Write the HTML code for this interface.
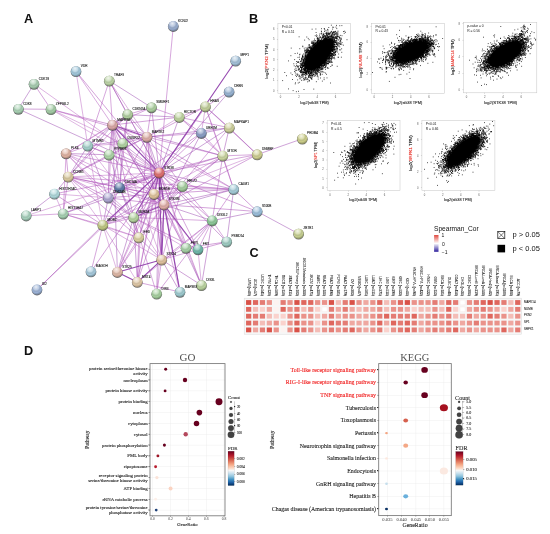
<!DOCTYPE html>
<html><head><meta charset="utf-8"><title>Figure</title>
<style>html,body{margin:0;padding:0;background:#fff}svg{display:block}</style></head>
<body>
<svg width="550" height="534" viewBox="0 0 550 534">
<defs>
<radialGradient id="hl" cx=".42" cy=".3" r=".75" fx=".4" fy=".22">
<stop offset="0" stop-color="#fff" stop-opacity=".8"/><stop offset=".38" stop-color="#fff" stop-opacity=".3"/><stop offset=".68" stop-color="#000" stop-opacity="0"/><stop offset="1" stop-color="#000" stop-opacity=".38"/>
</radialGradient>
<linearGradient id="sp" x1="0" y1="0" x2="0" y2="1"><stop offset="0" stop-color="#e0483e"/><stop offset=".5" stop-color="#ffffff"/><stop offset="1" stop-color="#2b1d9c"/></linearGradient>
<linearGradient id="fdr" x1="0" y1="0" x2="0" y2="1"><stop offset="0" stop-color="#67001f"/><stop offset=".12" stop-color="#b2182b"/><stop offset=".25" stop-color="#d6604d"/><stop offset=".38" stop-color="#f4a582"/><stop offset=".5" stop-color="#fddbc7"/><stop offset=".56" stop-color="#f7f7f7"/><stop offset=".63" stop-color="#d1e5f0"/><stop offset=".73" stop-color="#92c5de"/><stop offset=".82" stop-color="#4393c3"/><stop offset=".9" stop-color="#2166ac"/><stop offset=".97" stop-color="#0a3a70"/><stop offset="1" stop-color="#053061"/></linearGradient>
</defs>
<rect width="550" height="534" fill="#fff"/>
<g id="network">
<g stroke-linecap="round">
<line x1="233.7" y1="189.3" x2="68.2" y2="176.9" stroke="#b458bd" stroke-width="0.56" stroke-opacity="0.9"/>
<line x1="233.7" y1="189.3" x2="119.6" y2="187.6" stroke="#a048b2" stroke-width="0.56" stroke-opacity="0.9"/>
<line x1="233.7" y1="189.3" x2="212.2" y2="220.7" stroke="#ad50b9" stroke-width="0.56" stroke-opacity="0.9"/>
<line x1="233.7" y1="189.3" x2="182.4" y2="186.3" stroke="#bc68c4" stroke-width="0.56" stroke-opacity="0.9"/>
<line x1="233.7" y1="189.3" x2="205.5" y2="106.7" stroke="#a94ab5" stroke-width="0.56" stroke-opacity="0.9"/>
<line x1="233.7" y1="189.3" x2="147" y2="137" stroke="#a94ab5" stroke-width="0.56" stroke-opacity="0.9"/>
<line x1="233.7" y1="189.3" x2="112.5" y2="125" stroke="#c070c6" stroke-width="0.56" stroke-opacity="0.9"/>
<line x1="233.7" y1="189.3" x2="133.6" y2="217.5" stroke="#9c4cb2" stroke-width="0.56" stroke-opacity="0.9"/>
<line x1="233.7" y1="189.3" x2="154" y2="194.2" stroke="#a94ab5" stroke-width="0.56" stroke-opacity="0.9"/>
<line x1="233.7" y1="189.3" x2="222.8" y2="155.9" stroke="#b458bd" stroke-width="0.56" stroke-opacity="0.9"/>
<line x1="233.7" y1="189.3" x2="226.7" y2="241.8" stroke="#9c4cb2" stroke-width="0.56" stroke-opacity="0.9"/>
<line x1="233.7" y1="189.3" x2="257.2" y2="211.5" stroke="#a94ab5" stroke-width="0.56" stroke-opacity="0.9"/>
<line x1="233.7" y1="189.3" x2="159.3" y2="172.9" stroke="#9c4cb2" stroke-width="0.56" stroke-opacity="0.9"/>
<line x1="233.7" y1="189.3" x2="164" y2="204.7" stroke="#a048b2" stroke-width="0.56" stroke-opacity="0.9"/>
<line x1="68.2" y1="176.9" x2="119.6" y2="187.6" stroke="#a94ab5" stroke-width="0.56" stroke-opacity="0.9"/>
<line x1="68.2" y1="176.9" x2="108.3" y2="197.8" stroke="#a94ab5" stroke-width="0.56" stroke-opacity="0.9"/>
<line x1="68.2" y1="176.9" x2="127.7" y2="114.6" stroke="#ad50b9" stroke-width="0.56" stroke-opacity="0.9"/>
<line x1="68.2" y1="176.9" x2="138.8" y2="237.6" stroke="#ad50b9" stroke-width="0.56" stroke-opacity="0.9"/>
<line x1="68.2" y1="176.9" x2="63.2" y2="213.8" stroke="#a94ab5" stroke-width="0.56" stroke-opacity="0.9"/>
<line x1="68.2" y1="176.9" x2="54.5" y2="193.9" stroke="#a048b2" stroke-width="0.56" stroke-opacity="0.9"/>
<line x1="68.2" y1="176.9" x2="147" y2="137" stroke="#a94ab5" stroke-width="0.56" stroke-opacity="0.9"/>
<line x1="68.2" y1="176.9" x2="112.5" y2="125" stroke="#9c4cb2" stroke-width="0.56" stroke-opacity="0.9"/>
<line x1="68.2" y1="176.9" x2="133.6" y2="217.5" stroke="#ad50b9" stroke-width="0.56" stroke-opacity="0.9"/>
<line x1="68.2" y1="176.9" x2="154" y2="194.2" stroke="#a94ab5" stroke-width="0.56" stroke-opacity="0.9"/>
<line x1="68.2" y1="176.9" x2="102.8" y2="225.2" stroke="#c070c6" stroke-width="0.56" stroke-opacity="0.9"/>
<line x1="68.2" y1="176.9" x2="87.8" y2="145.9" stroke="#9c4cb2" stroke-width="0.56" stroke-opacity="0.9"/>
<line x1="68.2" y1="176.9" x2="66.1" y2="153.5" stroke="#a94ab5" stroke-width="0.56" stroke-opacity="0.9"/>
<line x1="68.2" y1="176.9" x2="109.1" y2="154.8" stroke="#a048b2" stroke-width="0.56" stroke-opacity="0.9"/>
<line x1="68.2" y1="176.9" x2="159.3" y2="172.9" stroke="#bc68c4" stroke-width="0.56" stroke-opacity="0.9"/>
<line x1="68.2" y1="176.9" x2="164" y2="204.7" stroke="#bc68c4" stroke-width="0.56" stroke-opacity="0.9"/>
<line x1="119.6" y1="187.6" x2="108.3" y2="197.8" stroke="#9c4cb2" stroke-width="0.56" stroke-opacity="0.9"/>
<line x1="119.6" y1="187.6" x2="127.7" y2="114.6" stroke="#a94ab5" stroke-width="0.56" stroke-opacity="0.9"/>
<line x1="119.6" y1="187.6" x2="122.7" y2="143.5" stroke="#9c4cb2" stroke-width="0.56" stroke-opacity="0.9"/>
<line x1="119.6" y1="187.6" x2="138.8" y2="237.6" stroke="#9c4cb2" stroke-width="0.56" stroke-opacity="0.9"/>
<line x1="119.6" y1="187.6" x2="147" y2="137" stroke="#ad50b9" stroke-width="0.56" stroke-opacity="0.9"/>
<line x1="119.6" y1="187.6" x2="112.5" y2="125" stroke="#a94ab5" stroke-width="0.56" stroke-opacity="0.9"/>
<line x1="119.6" y1="187.6" x2="133.6" y2="217.5" stroke="#a048b2" stroke-width="0.56" stroke-opacity="0.9"/>
<line x1="119.6" y1="187.6" x2="154" y2="194.2" stroke="#a94ab5" stroke-width="0.56" stroke-opacity="0.9"/>
<line x1="119.6" y1="187.6" x2="102.8" y2="225.2" stroke="#9c4cb2" stroke-width="0.56" stroke-opacity="0.9"/>
<line x1="119.6" y1="187.6" x2="87.8" y2="145.9" stroke="#c070c6" stroke-width="0.56" stroke-opacity="0.9"/>
<line x1="119.6" y1="187.6" x2="222.8" y2="155.9" stroke="#a048b2" stroke-width="0.56" stroke-opacity="0.9"/>
<line x1="119.6" y1="187.6" x2="66.1" y2="153.5" stroke="#b458bd" stroke-width="0.56" stroke-opacity="0.9"/>
<line x1="119.6" y1="187.6" x2="109.1" y2="154.8" stroke="#ad50b9" stroke-width="0.56" stroke-opacity="0.9"/>
<line x1="119.6" y1="187.6" x2="159.3" y2="172.9" stroke="#a048b2" stroke-width="0.56" stroke-opacity="0.9"/>
<line x1="119.6" y1="187.6" x2="164" y2="204.7" stroke="#9c4cb2" stroke-width="0.56" stroke-opacity="0.9"/>
<line x1="119.6" y1="187.6" x2="201.3" y2="133.2" stroke="#a94ab5" stroke-width="0.56" stroke-opacity="0.9"/>
<line x1="108.3" y1="197.8" x2="122.7" y2="143.5" stroke="#9c4cb2" stroke-width="0.56" stroke-opacity="0.9"/>
<line x1="108.3" y1="197.8" x2="138.8" y2="237.6" stroke="#b458bd" stroke-width="0.56" stroke-opacity="0.9"/>
<line x1="108.3" y1="197.8" x2="63.2" y2="213.8" stroke="#9c4cb2" stroke-width="0.56" stroke-opacity="0.9"/>
<line x1="108.3" y1="197.8" x2="54.5" y2="193.9" stroke="#c070c6" stroke-width="0.56" stroke-opacity="0.9"/>
<line x1="108.3" y1="197.8" x2="112.5" y2="125" stroke="#bc68c4" stroke-width="0.56" stroke-opacity="0.9"/>
<line x1="108.3" y1="197.8" x2="133.6" y2="217.5" stroke="#a048b2" stroke-width="0.56" stroke-opacity="0.9"/>
<line x1="108.3" y1="197.8" x2="154" y2="194.2" stroke="#a94ab5" stroke-width="0.56" stroke-opacity="0.9"/>
<line x1="108.3" y1="197.8" x2="102.8" y2="225.2" stroke="#9c4cb2" stroke-width="0.56" stroke-opacity="0.9"/>
<line x1="108.3" y1="197.8" x2="87.8" y2="145.9" stroke="#9c4cb2" stroke-width="0.56" stroke-opacity="0.9"/>
<line x1="108.3" y1="197.8" x2="66.1" y2="153.5" stroke="#bc68c4" stroke-width="0.56" stroke-opacity="0.9"/>
<line x1="108.3" y1="197.8" x2="109.1" y2="154.8" stroke="#a048b2" stroke-width="0.56" stroke-opacity="0.9"/>
<line x1="108.3" y1="197.8" x2="159.3" y2="172.9" stroke="#b458bd" stroke-width="0.56" stroke-opacity="0.9"/>
<line x1="108.3" y1="197.8" x2="164" y2="204.7" stroke="#a94ab5" stroke-width="0.56" stroke-opacity="0.9"/>
<line x1="34" y1="84" x2="18.4" y2="109" stroke="#9c4cb2" stroke-width="0.56" stroke-opacity="0.9"/>
<line x1="34" y1="84" x2="159.3" y2="172.9" stroke="#bc68c4" stroke-width="0.56" stroke-opacity="0.9"/>
<line x1="34" y1="84" x2="51" y2="109.3" stroke="#a94ab5" stroke-width="0.56" stroke-opacity="0.9"/>
<line x1="18.4" y1="109" x2="159.3" y2="172.9" stroke="#9c4cb2" stroke-width="0.56" stroke-opacity="0.9"/>
<line x1="18.4" y1="109" x2="51" y2="109.3" stroke="#a94ab5" stroke-width="0.56" stroke-opacity="0.9"/>
<line x1="127.7" y1="114.6" x2="122.7" y2="143.5" stroke="#9c4cb2" stroke-width="0.56" stroke-opacity="0.9"/>
<line x1="127.7" y1="114.6" x2="147" y2="137" stroke="#a048b2" stroke-width="0.56" stroke-opacity="0.9"/>
<line x1="127.7" y1="114.6" x2="112.5" y2="125" stroke="#ad50b9" stroke-width="0.56" stroke-opacity="0.9"/>
<line x1="127.7" y1="114.6" x2="66.1" y2="153.5" stroke="#bc68c4" stroke-width="0.56" stroke-opacity="0.9"/>
<line x1="127.7" y1="114.6" x2="179.3" y2="117.2" stroke="#9c4cb2" stroke-width="0.56" stroke-opacity="0.9"/>
<line x1="127.7" y1="114.6" x2="151.5" y2="107.5" stroke="#ad50b9" stroke-width="0.56" stroke-opacity="0.9"/>
<line x1="127.7" y1="114.6" x2="159.3" y2="172.9" stroke="#c070c6" stroke-width="0.56" stroke-opacity="0.9"/>
<line x1="127.7" y1="114.6" x2="109.3" y2="80.8" stroke="#b458bd" stroke-width="0.56" stroke-opacity="0.9"/>
<line x1="229.1" y1="91.8" x2="205.5" y2="106.7" stroke="#ad50b9" stroke-width="0.56" stroke-opacity="0.9"/>
<line x1="229.1" y1="91.8" x2="159.3" y2="172.9" stroke="#9c4cb2" stroke-width="0.56" stroke-opacity="0.9"/>
<line x1="156.7" y1="293.9" x2="212.2" y2="220.7" stroke="#ad50b9" stroke-width="0.56" stroke-opacity="0.9"/>
<line x1="156.7" y1="293.9" x2="133.6" y2="217.5" stroke="#b458bd" stroke-width="0.56" stroke-opacity="0.9"/>
<line x1="156.7" y1="293.9" x2="161.7" y2="259.8" stroke="#b458bd" stroke-width="0.56" stroke-opacity="0.9"/>
<line x1="156.7" y1="293.9" x2="159.3" y2="172.9" stroke="#a048b2" stroke-width="0.56" stroke-opacity="0.9"/>
<line x1="156.7" y1="293.9" x2="164" y2="204.7" stroke="#c070c6" stroke-width="0.56" stroke-opacity="0.9"/>
<line x1="201.5" y1="285.3" x2="212.2" y2="220.7" stroke="#a048b2" stroke-width="0.56" stroke-opacity="0.9"/>
<line x1="201.5" y1="285.3" x2="198" y2="249.5" stroke="#bc68c4" stroke-width="0.56" stroke-opacity="0.9"/>
<line x1="201.5" y1="285.3" x2="186" y2="248" stroke="#c070c6" stroke-width="0.56" stroke-opacity="0.9"/>
<line x1="201.5" y1="285.3" x2="161.7" y2="259.8" stroke="#a048b2" stroke-width="0.56" stroke-opacity="0.9"/>
<line x1="201.5" y1="285.3" x2="159.3" y2="172.9" stroke="#a94ab5" stroke-width="0.56" stroke-opacity="0.9"/>
<line x1="201.5" y1="285.3" x2="164" y2="204.7" stroke="#9c4cb2" stroke-width="0.56" stroke-opacity="0.9"/>
<line x1="212.2" y1="220.7" x2="198" y2="249.5" stroke="#b458bd" stroke-width="0.56" stroke-opacity="0.9"/>
<line x1="212.2" y1="220.7" x2="186" y2="248" stroke="#9c4cb2" stroke-width="0.56" stroke-opacity="0.9"/>
<line x1="212.2" y1="220.7" x2="182.4" y2="186.3" stroke="#ad50b9" stroke-width="0.56" stroke-opacity="0.9"/>
<line x1="212.2" y1="220.7" x2="133.6" y2="217.5" stroke="#b458bd" stroke-width="0.56" stroke-opacity="0.9"/>
<line x1="212.2" y1="220.7" x2="137.3" y2="282.1" stroke="#bc68c4" stroke-width="0.56" stroke-opacity="0.9"/>
<line x1="212.2" y1="220.7" x2="222.8" y2="155.9" stroke="#ad50b9" stroke-width="0.56" stroke-opacity="0.9"/>
<line x1="212.2" y1="220.7" x2="226.7" y2="241.8" stroke="#b458bd" stroke-width="0.56" stroke-opacity="0.9"/>
<line x1="212.2" y1="220.7" x2="257.2" y2="211.5" stroke="#9c4cb2" stroke-width="0.56" stroke-opacity="0.9"/>
<line x1="212.2" y1="220.7" x2="161.7" y2="259.8" stroke="#a94ab5" stroke-width="0.56" stroke-opacity="0.9"/>
<line x1="212.2" y1="220.7" x2="159.3" y2="172.9" stroke="#a94ab5" stroke-width="0.56" stroke-opacity="0.9"/>
<line x1="212.2" y1="220.7" x2="164" y2="204.7" stroke="#9c4cb2" stroke-width="0.56" stroke-opacity="0.9"/>
<line x1="257.2" y1="154.6" x2="205.5" y2="106.7" stroke="#ad50b9" stroke-width="0.56" stroke-opacity="0.9"/>
<line x1="257.2" y1="154.6" x2="229.3" y2="127.8" stroke="#a048b2" stroke-width="0.56" stroke-opacity="0.9"/>
<line x1="257.2" y1="154.6" x2="154" y2="194.2" stroke="#c070c6" stroke-width="0.56" stroke-opacity="0.9"/>
<line x1="257.2" y1="154.6" x2="222.8" y2="155.9" stroke="#b458bd" stroke-width="0.56" stroke-opacity="0.9"/>
<line x1="257.2" y1="154.6" x2="302.3" y2="138.8" stroke="#a048b2" stroke-width="0.56" stroke-opacity="0.9"/>
<line x1="257.2" y1="154.6" x2="159.3" y2="172.9" stroke="#ad50b9" stroke-width="0.56" stroke-opacity="0.9"/>
<line x1="257.2" y1="154.6" x2="164" y2="204.7" stroke="#ad50b9" stroke-width="0.56" stroke-opacity="0.9"/>
<line x1="122.7" y1="143.5" x2="147" y2="137" stroke="#a94ab5" stroke-width="0.56" stroke-opacity="0.9"/>
<line x1="122.7" y1="143.5" x2="112.5" y2="125" stroke="#bc68c4" stroke-width="0.56" stroke-opacity="0.9"/>
<line x1="122.7" y1="143.5" x2="154" y2="194.2" stroke="#a94ab5" stroke-width="0.56" stroke-opacity="0.9"/>
<line x1="122.7" y1="143.5" x2="87.8" y2="145.9" stroke="#c070c6" stroke-width="0.56" stroke-opacity="0.9"/>
<line x1="122.7" y1="143.5" x2="109.1" y2="154.8" stroke="#9c4cb2" stroke-width="0.56" stroke-opacity="0.9"/>
<line x1="122.7" y1="143.5" x2="159.3" y2="172.9" stroke="#9c4cb2" stroke-width="0.56" stroke-opacity="0.9"/>
<line x1="122.7" y1="143.5" x2="51" y2="109.3" stroke="#c070c6" stroke-width="0.56" stroke-opacity="0.9"/>
<line x1="138.8" y1="237.6" x2="63.2" y2="213.8" stroke="#c070c6" stroke-width="0.56" stroke-opacity="0.9"/>
<line x1="138.8" y1="237.6" x2="133.6" y2="217.5" stroke="#b458bd" stroke-width="0.56" stroke-opacity="0.9"/>
<line x1="138.8" y1="237.6" x2="154" y2="194.2" stroke="#b458bd" stroke-width="0.56" stroke-opacity="0.9"/>
<line x1="138.8" y1="237.6" x2="102.8" y2="225.2" stroke="#bc68c4" stroke-width="0.56" stroke-opacity="0.9"/>
<line x1="138.8" y1="237.6" x2="137.3" y2="282.1" stroke="#b458bd" stroke-width="0.56" stroke-opacity="0.9"/>
<line x1="138.8" y1="237.6" x2="161.7" y2="259.8" stroke="#9c4cb2" stroke-width="0.56" stroke-opacity="0.9"/>
<line x1="138.8" y1="237.6" x2="117.4" y2="272.2" stroke="#ad50b9" stroke-width="0.56" stroke-opacity="0.9"/>
<line x1="138.8" y1="237.6" x2="159.3" y2="172.9" stroke="#9c4cb2" stroke-width="0.56" stroke-opacity="0.9"/>
<line x1="138.8" y1="237.6" x2="164" y2="204.7" stroke="#c070c6" stroke-width="0.56" stroke-opacity="0.9"/>
<line x1="198" y1="249.5" x2="186" y2="248" stroke="#ad50b9" stroke-width="0.56" stroke-opacity="0.9"/>
<line x1="198" y1="249.5" x2="133.6" y2="217.5" stroke="#a94ab5" stroke-width="0.56" stroke-opacity="0.9"/>
<line x1="198" y1="249.5" x2="154" y2="194.2" stroke="#c070c6" stroke-width="0.56" stroke-opacity="0.9"/>
<line x1="198" y1="249.5" x2="226.7" y2="241.8" stroke="#a94ab5" stroke-width="0.56" stroke-opacity="0.9"/>
<line x1="198" y1="249.5" x2="161.7" y2="259.8" stroke="#b458bd" stroke-width="0.56" stroke-opacity="0.9"/>
<line x1="198" y1="249.5" x2="159.3" y2="172.9" stroke="#ad50b9" stroke-width="0.56" stroke-opacity="0.9"/>
<line x1="198" y1="249.5" x2="164" y2="204.7" stroke="#9040ac" stroke-width="1.1" stroke-opacity="0.95"/>
<line x1="186" y1="248" x2="133.6" y2="217.5" stroke="#bc68c4" stroke-width="0.56" stroke-opacity="0.9"/>
<line x1="186" y1="248" x2="154" y2="194.2" stroke="#bc68c4" stroke-width="0.56" stroke-opacity="0.9"/>
<line x1="186" y1="248" x2="226.7" y2="241.8" stroke="#a94ab5" stroke-width="0.56" stroke-opacity="0.9"/>
<line x1="186" y1="248" x2="161.7" y2="259.8" stroke="#a94ab5" stroke-width="0.56" stroke-opacity="0.9"/>
<line x1="186" y1="248" x2="159.3" y2="172.9" stroke="#bc68c4" stroke-width="0.56" stroke-opacity="0.9"/>
<line x1="186" y1="248" x2="164" y2="204.7" stroke="#bc68c4" stroke-width="0.56" stroke-opacity="0.9"/>
<line x1="182.4" y1="186.3" x2="147" y2="137" stroke="#b458bd" stroke-width="0.56" stroke-opacity="0.9"/>
<line x1="182.4" y1="186.3" x2="112.5" y2="125" stroke="#bc68c4" stroke-width="0.56" stroke-opacity="0.9"/>
<line x1="182.4" y1="186.3" x2="133.6" y2="217.5" stroke="#9c4cb2" stroke-width="0.56" stroke-opacity="0.9"/>
<line x1="182.4" y1="186.3" x2="154" y2="194.2" stroke="#bc68c4" stroke-width="0.56" stroke-opacity="0.9"/>
<line x1="182.4" y1="186.3" x2="102.8" y2="225.2" stroke="#c070c6" stroke-width="0.56" stroke-opacity="0.9"/>
<line x1="182.4" y1="186.3" x2="222.8" y2="155.9" stroke="#ad50b9" stroke-width="0.56" stroke-opacity="0.9"/>
<line x1="182.4" y1="186.3" x2="161.7" y2="259.8" stroke="#b458bd" stroke-width="0.56" stroke-opacity="0.9"/>
<line x1="182.4" y1="186.3" x2="159.3" y2="172.9" stroke="#bc68c4" stroke-width="0.56" stroke-opacity="0.9"/>
<line x1="182.4" y1="186.3" x2="164" y2="204.7" stroke="#ad50b9" stroke-width="0.56" stroke-opacity="0.9"/>
<line x1="63.2" y1="213.8" x2="54.5" y2="193.9" stroke="#bc68c4" stroke-width="0.56" stroke-opacity="0.9"/>
<line x1="63.2" y1="213.8" x2="26.2" y2="215.7" stroke="#b458bd" stroke-width="0.56" stroke-opacity="0.9"/>
<line x1="63.2" y1="213.8" x2="133.6" y2="217.5" stroke="#a94ab5" stroke-width="0.56" stroke-opacity="0.9"/>
<line x1="63.2" y1="213.8" x2="102.8" y2="225.2" stroke="#ad50b9" stroke-width="0.56" stroke-opacity="0.9"/>
<line x1="63.2" y1="213.8" x2="66.1" y2="153.5" stroke="#b458bd" stroke-width="0.56" stroke-opacity="0.9"/>
<line x1="63.2" y1="213.8" x2="159.3" y2="172.9" stroke="#a048b2" stroke-width="0.56" stroke-opacity="0.9"/>
<line x1="54.5" y1="193.9" x2="26.2" y2="215.7" stroke="#9c4cb2" stroke-width="0.56" stroke-opacity="0.9"/>
<line x1="54.5" y1="193.9" x2="102.8" y2="225.2" stroke="#a94ab5" stroke-width="0.56" stroke-opacity="0.9"/>
<line x1="54.5" y1="193.9" x2="159.3" y2="172.9" stroke="#ad50b9" stroke-width="0.56" stroke-opacity="0.9"/>
<line x1="205.5" y1="106.7" x2="147" y2="137" stroke="#a94ab5" stroke-width="0.56" stroke-opacity="0.9"/>
<line x1="205.5" y1="106.7" x2="229.3" y2="127.8" stroke="#a048b2" stroke-width="0.56" stroke-opacity="0.9"/>
<line x1="205.5" y1="106.7" x2="222.8" y2="155.9" stroke="#c070c6" stroke-width="0.56" stroke-opacity="0.9"/>
<line x1="205.5" y1="106.7" x2="179.3" y2="117.2" stroke="#b458bd" stroke-width="0.56" stroke-opacity="0.9"/>
<line x1="205.5" y1="106.7" x2="159.3" y2="172.9" stroke="#a048b2" stroke-width="0.56" stroke-opacity="0.9"/>
<line x1="205.5" y1="106.7" x2="201.3" y2="133.2" stroke="#bc68c4" stroke-width="0.56" stroke-opacity="0.9"/>
<line x1="37" y1="289.7" x2="102.8" y2="225.2" stroke="#a048b2" stroke-width="0.56" stroke-opacity="0.9"/>
<line x1="37" y1="289.7" x2="159.3" y2="172.9" stroke="#ad50b9" stroke-width="0.56" stroke-opacity="0.9"/>
<line x1="173.3" y1="26.2" x2="159.3" y2="172.9" stroke="#ad50b9" stroke-width="0.56" stroke-opacity="0.9"/>
<line x1="26.2" y1="215.7" x2="159.3" y2="172.9" stroke="#c070c6" stroke-width="0.56" stroke-opacity="0.9"/>
<line x1="91" y1="271.6" x2="102.8" y2="225.2" stroke="#ad50b9" stroke-width="0.56" stroke-opacity="0.9"/>
<line x1="91" y1="271.6" x2="159.3" y2="172.9" stroke="#a94ab5" stroke-width="0.56" stroke-opacity="0.9"/>
<line x1="147" y1="137" x2="112.5" y2="125" stroke="#9040ac" stroke-width="1.1" stroke-opacity="0.95"/>
<line x1="147" y1="137" x2="229.3" y2="127.8" stroke="#a048b2" stroke-width="0.56" stroke-opacity="0.9"/>
<line x1="147" y1="137" x2="154" y2="194.2" stroke="#ad50b9" stroke-width="0.56" stroke-opacity="0.9"/>
<line x1="147" y1="137" x2="137.3" y2="282.1" stroke="#ad50b9" stroke-width="0.56" stroke-opacity="0.9"/>
<line x1="147" y1="137" x2="87.8" y2="145.9" stroke="#9c4cb2" stroke-width="0.56" stroke-opacity="0.9"/>
<line x1="147" y1="137" x2="222.8" y2="155.9" stroke="#b458bd" stroke-width="0.56" stroke-opacity="0.9"/>
<line x1="147" y1="137" x2="109.1" y2="154.8" stroke="#a048b2" stroke-width="0.56" stroke-opacity="0.9"/>
<line x1="147" y1="137" x2="179.3" y2="117.2" stroke="#c070c6" stroke-width="0.56" stroke-opacity="0.9"/>
<line x1="147" y1="137" x2="151.5" y2="107.5" stroke="#ad50b9" stroke-width="0.56" stroke-opacity="0.9"/>
<line x1="147" y1="137" x2="161.7" y2="259.8" stroke="#c070c6" stroke-width="0.56" stroke-opacity="0.9"/>
<line x1="147" y1="137" x2="159.3" y2="172.9" stroke="#9c4cb2" stroke-width="0.56" stroke-opacity="0.9"/>
<line x1="147" y1="137" x2="164" y2="204.7" stroke="#b458bd" stroke-width="0.56" stroke-opacity="0.9"/>
<line x1="147" y1="137" x2="109.3" y2="80.8" stroke="#bc68c4" stroke-width="0.56" stroke-opacity="0.9"/>
<line x1="147" y1="137" x2="201.3" y2="133.2" stroke="#ad50b9" stroke-width="0.56" stroke-opacity="0.9"/>
<line x1="147" y1="137" x2="51" y2="109.3" stroke="#b458bd" stroke-width="0.56" stroke-opacity="0.9"/>
<line x1="180" y1="292" x2="154" y2="194.2" stroke="#bc68c4" stroke-width="0.56" stroke-opacity="0.9"/>
<line x1="180" y1="292" x2="137.3" y2="282.1" stroke="#ad50b9" stroke-width="0.56" stroke-opacity="0.9"/>
<line x1="180" y1="292" x2="161.7" y2="259.8" stroke="#a048b2" stroke-width="0.56" stroke-opacity="0.9"/>
<line x1="180" y1="292" x2="159.3" y2="172.9" stroke="#a048b2" stroke-width="0.56" stroke-opacity="0.9"/>
<line x1="180" y1="292" x2="164" y2="204.7" stroke="#9040ac" stroke-width="1.1" stroke-opacity="0.95"/>
<line x1="112.5" y1="125" x2="133.6" y2="217.5" stroke="#a94ab5" stroke-width="0.56" stroke-opacity="0.9"/>
<line x1="112.5" y1="125" x2="154" y2="194.2" stroke="#a048b2" stroke-width="0.56" stroke-opacity="0.9"/>
<line x1="112.5" y1="125" x2="87.8" y2="145.9" stroke="#a048b2" stroke-width="0.56" stroke-opacity="0.9"/>
<line x1="112.5" y1="125" x2="222.8" y2="155.9" stroke="#a048b2" stroke-width="0.56" stroke-opacity="0.9"/>
<line x1="112.5" y1="125" x2="66.1" y2="153.5" stroke="#bc68c4" stroke-width="0.56" stroke-opacity="0.9"/>
<line x1="112.5" y1="125" x2="109.1" y2="154.8" stroke="#a048b2" stroke-width="0.56" stroke-opacity="0.9"/>
<line x1="112.5" y1="125" x2="179.3" y2="117.2" stroke="#a94ab5" stroke-width="0.56" stroke-opacity="0.9"/>
<line x1="112.5" y1="125" x2="151.5" y2="107.5" stroke="#ad50b9" stroke-width="0.56" stroke-opacity="0.9"/>
<line x1="112.5" y1="125" x2="161.7" y2="259.8" stroke="#c070c6" stroke-width="0.56" stroke-opacity="0.9"/>
<line x1="112.5" y1="125" x2="117.4" y2="272.2" stroke="#9c4cb2" stroke-width="0.56" stroke-opacity="0.9"/>
<line x1="112.5" y1="125" x2="159.3" y2="172.9" stroke="#9040ac" stroke-width="1.1" stroke-opacity="0.95"/>
<line x1="112.5" y1="125" x2="164" y2="204.7" stroke="#a048b2" stroke-width="0.56" stroke-opacity="0.9"/>
<line x1="112.5" y1="125" x2="109.3" y2="80.8" stroke="#b458bd" stroke-width="0.56" stroke-opacity="0.9"/>
<line x1="112.5" y1="125" x2="76" y2="71.3" stroke="#b458bd" stroke-width="0.56" stroke-opacity="0.9"/>
<line x1="112.5" y1="125" x2="51" y2="109.3" stroke="#a94ab5" stroke-width="0.56" stroke-opacity="0.9"/>
<line x1="229.3" y1="127.8" x2="222.8" y2="155.9" stroke="#a048b2" stroke-width="0.56" stroke-opacity="0.9"/>
<line x1="229.3" y1="127.8" x2="179.3" y2="117.2" stroke="#ad50b9" stroke-width="0.56" stroke-opacity="0.9"/>
<line x1="229.3" y1="127.8" x2="159.3" y2="172.9" stroke="#9c4cb2" stroke-width="0.56" stroke-opacity="0.9"/>
<line x1="229.3" y1="127.8" x2="164" y2="204.7" stroke="#b458bd" stroke-width="0.56" stroke-opacity="0.9"/>
<line x1="229.3" y1="127.8" x2="201.3" y2="133.2" stroke="#9c4cb2" stroke-width="0.56" stroke-opacity="0.9"/>
<line x1="133.6" y1="217.5" x2="154" y2="194.2" stroke="#9c4cb2" stroke-width="0.56" stroke-opacity="0.9"/>
<line x1="133.6" y1="217.5" x2="102.8" y2="225.2" stroke="#b458bd" stroke-width="0.56" stroke-opacity="0.9"/>
<line x1="133.6" y1="217.5" x2="137.3" y2="282.1" stroke="#a048b2" stroke-width="0.56" stroke-opacity="0.9"/>
<line x1="133.6" y1="217.5" x2="66.1" y2="153.5" stroke="#bc68c4" stroke-width="0.56" stroke-opacity="0.9"/>
<line x1="133.6" y1="217.5" x2="161.7" y2="259.8" stroke="#c070c6" stroke-width="0.56" stroke-opacity="0.9"/>
<line x1="133.6" y1="217.5" x2="117.4" y2="272.2" stroke="#9c4cb2" stroke-width="0.56" stroke-opacity="0.9"/>
<line x1="133.6" y1="217.5" x2="159.3" y2="172.9" stroke="#9040ac" stroke-width="1.1" stroke-opacity="0.95"/>
<line x1="133.6" y1="217.5" x2="164" y2="204.7" stroke="#9040ac" stroke-width="1.1" stroke-opacity="0.95"/>
<line x1="154" y1="194.2" x2="102.8" y2="225.2" stroke="#9c4cb2" stroke-width="0.56" stroke-opacity="0.9"/>
<line x1="154" y1="194.2" x2="137.3" y2="282.1" stroke="#bc68c4" stroke-width="0.56" stroke-opacity="0.9"/>
<line x1="154" y1="194.2" x2="222.8" y2="155.9" stroke="#bc68c4" stroke-width="0.56" stroke-opacity="0.9"/>
<line x1="154" y1="194.2" x2="66.1" y2="153.5" stroke="#bc68c4" stroke-width="0.56" stroke-opacity="0.9"/>
<line x1="154" y1="194.2" x2="109.1" y2="154.8" stroke="#a94ab5" stroke-width="0.56" stroke-opacity="0.9"/>
<line x1="154" y1="194.2" x2="161.7" y2="259.8" stroke="#ad50b9" stroke-width="0.56" stroke-opacity="0.9"/>
<line x1="154" y1="194.2" x2="117.4" y2="272.2" stroke="#c070c6" stroke-width="0.56" stroke-opacity="0.9"/>
<line x1="154" y1="194.2" x2="159.3" y2="172.9" stroke="#9040ac" stroke-width="1.1" stroke-opacity="0.95"/>
<line x1="154" y1="194.2" x2="164" y2="204.7" stroke="#9040ac" stroke-width="1.1" stroke-opacity="0.95"/>
<line x1="102.8" y1="225.2" x2="137.3" y2="282.1" stroke="#c070c6" stroke-width="0.56" stroke-opacity="0.9"/>
<line x1="102.8" y1="225.2" x2="87.8" y2="145.9" stroke="#c070c6" stroke-width="0.56" stroke-opacity="0.9"/>
<line x1="102.8" y1="225.2" x2="161.7" y2="259.8" stroke="#bc68c4" stroke-width="0.56" stroke-opacity="0.9"/>
<line x1="102.8" y1="225.2" x2="117.4" y2="272.2" stroke="#c070c6" stroke-width="0.56" stroke-opacity="0.9"/>
<line x1="102.8" y1="225.2" x2="159.3" y2="172.9" stroke="#9040ac" stroke-width="1.1" stroke-opacity="0.95"/>
<line x1="102.8" y1="225.2" x2="164" y2="204.7" stroke="#9c4cb2" stroke-width="0.56" stroke-opacity="0.9"/>
<line x1="235.7" y1="60.8" x2="159.3" y2="172.9" stroke="#9040ac" stroke-width="1.1" stroke-opacity="0.95"/>
<line x1="137.3" y1="282.1" x2="161.7" y2="259.8" stroke="#9040ac" stroke-width="1.1" stroke-opacity="0.95"/>
<line x1="137.3" y1="282.1" x2="117.4" y2="272.2" stroke="#9040ac" stroke-width="1.1" stroke-opacity="0.95"/>
<line x1="137.3" y1="282.1" x2="159.3" y2="172.9" stroke="#ad50b9" stroke-width="0.56" stroke-opacity="0.9"/>
<line x1="137.3" y1="282.1" x2="164" y2="204.7" stroke="#ad50b9" stroke-width="0.56" stroke-opacity="0.9"/>
<line x1="87.8" y1="145.9" x2="66.1" y2="153.5" stroke="#ad50b9" stroke-width="0.56" stroke-opacity="0.9"/>
<line x1="87.8" y1="145.9" x2="109.1" y2="154.8" stroke="#ad50b9" stroke-width="0.56" stroke-opacity="0.9"/>
<line x1="87.8" y1="145.9" x2="159.3" y2="172.9" stroke="#a94ab5" stroke-width="0.56" stroke-opacity="0.9"/>
<line x1="87.8" y1="145.9" x2="109.3" y2="80.8" stroke="#ad50b9" stroke-width="0.56" stroke-opacity="0.9"/>
<line x1="87.8" y1="145.9" x2="76" y2="71.3" stroke="#bc68c4" stroke-width="0.56" stroke-opacity="0.9"/>
<line x1="222.8" y1="155.9" x2="179.3" y2="117.2" stroke="#ad50b9" stroke-width="0.56" stroke-opacity="0.9"/>
<line x1="222.8" y1="155.9" x2="159.3" y2="172.9" stroke="#a94ab5" stroke-width="0.56" stroke-opacity="0.9"/>
<line x1="222.8" y1="155.9" x2="164" y2="204.7" stroke="#a048b2" stroke-width="0.56" stroke-opacity="0.9"/>
<line x1="222.8" y1="155.9" x2="201.3" y2="133.2" stroke="#a94ab5" stroke-width="0.56" stroke-opacity="0.9"/>
<line x1="66.1" y1="153.5" x2="109.1" y2="154.8" stroke="#a048b2" stroke-width="0.56" stroke-opacity="0.9"/>
<line x1="66.1" y1="153.5" x2="159.3" y2="172.9" stroke="#ad50b9" stroke-width="0.56" stroke-opacity="0.9"/>
<line x1="226.7" y1="241.8" x2="159.3" y2="172.9" stroke="#a048b2" stroke-width="0.56" stroke-opacity="0.9"/>
<line x1="109.1" y1="154.8" x2="159.3" y2="172.9" stroke="#a94ab5" stroke-width="0.56" stroke-opacity="0.9"/>
<line x1="179.3" y1="117.2" x2="151.5" y2="107.5" stroke="#b458bd" stroke-width="0.56" stroke-opacity="0.9"/>
<line x1="179.3" y1="117.2" x2="159.3" y2="172.9" stroke="#9c4cb2" stroke-width="0.56" stroke-opacity="0.9"/>
<line x1="179.3" y1="117.2" x2="201.3" y2="133.2" stroke="#a94ab5" stroke-width="0.56" stroke-opacity="0.9"/>
<line x1="257.2" y1="211.5" x2="159.3" y2="172.9" stroke="#a94ab5" stroke-width="0.56" stroke-opacity="0.9"/>
<line x1="257.2" y1="211.5" x2="164" y2="204.7" stroke="#a94ab5" stroke-width="0.56" stroke-opacity="0.9"/>
<line x1="257.2" y1="211.5" x2="298.6" y2="233.8" stroke="#9c4cb2" stroke-width="0.56" stroke-opacity="0.9"/>
<line x1="151.5" y1="107.5" x2="159.3" y2="172.9" stroke="#a048b2" stroke-width="0.56" stroke-opacity="0.9"/>
<line x1="151.5" y1="107.5" x2="109.3" y2="80.8" stroke="#9c4cb2" stroke-width="0.56" stroke-opacity="0.9"/>
<line x1="161.7" y1="259.8" x2="117.4" y2="272.2" stroke="#9040ac" stroke-width="1.1" stroke-opacity="0.95"/>
<line x1="161.7" y1="259.8" x2="159.3" y2="172.9" stroke="#9040ac" stroke-width="1.1" stroke-opacity="0.95"/>
<line x1="161.7" y1="259.8" x2="164" y2="204.7" stroke="#9040ac" stroke-width="1.1" stroke-opacity="0.95"/>
<line x1="117.4" y1="272.2" x2="159.3" y2="172.9" stroke="#a94ab5" stroke-width="0.56" stroke-opacity="0.9"/>
<line x1="117.4" y1="272.2" x2="164" y2="204.7" stroke="#b458bd" stroke-width="0.56" stroke-opacity="0.9"/>
<line x1="159.3" y1="172.9" x2="164" y2="204.7" stroke="#9040ac" stroke-width="1.1" stroke-opacity="0.95"/>
<line x1="159.3" y1="172.9" x2="109.3" y2="80.8" stroke="#9c4cb2" stroke-width="0.56" stroke-opacity="0.9"/>
<line x1="159.3" y1="172.9" x2="201.3" y2="133.2" stroke="#a94ab5" stroke-width="0.56" stroke-opacity="0.9"/>
<line x1="159.3" y1="172.9" x2="76" y2="71.3" stroke="#a94ab5" stroke-width="0.56" stroke-opacity="0.9"/>
<line x1="159.3" y1="172.9" x2="51" y2="109.3" stroke="#c070c6" stroke-width="0.56" stroke-opacity="0.9"/>
<line x1="164" y1="204.7" x2="201.3" y2="133.2" stroke="#a048b2" stroke-width="0.56" stroke-opacity="0.9"/>
</g>
<circle cx="173.3" cy="26.55" r="5.35" fill="#3a3a3a" fill-opacity=".75"/>
<circle cx="173.3" cy="26.2" r="5.1" fill="#9aaed0"/>
<circle cx="173.3" cy="26.2" r="5.1" fill="url(#hl)"/>
<circle cx="235.7" cy="61.15" r="5.35" fill="#3a3a3a" fill-opacity=".75"/>
<circle cx="235.7" cy="60.8" r="5.1" fill="#a2c0d8"/>
<circle cx="235.7" cy="60.8" r="5.1" fill="url(#hl)"/>
<circle cx="76" cy="71.64999999999999" r="5.35" fill="#3a3a3a" fill-opacity=".75"/>
<circle cx="76" cy="71.3" r="5.1" fill="#a2c8dc"/>
<circle cx="76" cy="71.3" r="5.1" fill="url(#hl)"/>
<circle cx="109.3" cy="81.14999999999999" r="5.35" fill="#3a3a3a" fill-opacity=".75"/>
<circle cx="109.3" cy="80.8" r="5.1" fill="#bcd4a6"/>
<circle cx="109.3" cy="80.8" r="5.1" fill="url(#hl)"/>
<circle cx="34" cy="84.35" r="5.35" fill="#3a3a3a" fill-opacity=".75"/>
<circle cx="34" cy="84" r="5.1" fill="#a6ccaf"/>
<circle cx="34" cy="84" r="5.1" fill="url(#hl)"/>
<circle cx="229.1" cy="92.14999999999999" r="5.35" fill="#3a3a3a" fill-opacity=".75"/>
<circle cx="229.1" cy="91.8" r="5.1" fill="#97b3d2"/>
<circle cx="229.1" cy="91.8" r="5.1" fill="url(#hl)"/>
<circle cx="18.4" cy="109.35" r="5.35" fill="#3a3a3a" fill-opacity=".75"/>
<circle cx="18.4" cy="109" r="5.1" fill="#a8d1b3"/>
<circle cx="18.4" cy="109" r="5.1" fill="url(#hl)"/>
<circle cx="51" cy="109.64999999999999" r="5.35" fill="#3a3a3a" fill-opacity=".75"/>
<circle cx="51" cy="109.3" r="5.1" fill="#a5cda7"/>
<circle cx="51" cy="109.3" r="5.1" fill="url(#hl)"/>
<circle cx="205.5" cy="107.05" r="5.35" fill="#3a3a3a" fill-opacity=".75"/>
<circle cx="205.5" cy="106.7" r="5.1" fill="#c1ce99"/>
<circle cx="205.5" cy="106.7" r="5.1" fill="url(#hl)"/>
<circle cx="151.5" cy="107.85" r="5.35" fill="#3a3a3a" fill-opacity=".75"/>
<circle cx="151.5" cy="107.5" r="5.1" fill="#accf9f"/>
<circle cx="151.5" cy="107.5" r="5.1" fill="url(#hl)"/>
<circle cx="127.7" cy="114.94999999999999" r="5.35" fill="#3a3a3a" fill-opacity=".75"/>
<circle cx="127.7" cy="114.6" r="5.1" fill="#b0cf9e"/>
<circle cx="127.7" cy="114.6" r="5.1" fill="url(#hl)"/>
<circle cx="179.3" cy="117.55" r="5.35" fill="#3a3a3a" fill-opacity=".75"/>
<circle cx="179.3" cy="117.2" r="5.1" fill="#bed49e"/>
<circle cx="179.3" cy="117.2" r="5.1" fill="url(#hl)"/>
<circle cx="112.5" cy="125.35" r="5.35" fill="#3a3a3a" fill-opacity=".75"/>
<circle cx="112.5" cy="125" r="5.1" fill="#daa6a4"/>
<circle cx="112.5" cy="125" r="5.1" fill="url(#hl)"/>
<circle cx="229.3" cy="128.15" r="5.35" fill="#3a3a3a" fill-opacity=".75"/>
<circle cx="229.3" cy="127.8" r="5.1" fill="#cdcf9a"/>
<circle cx="229.3" cy="127.8" r="5.1" fill="url(#hl)"/>
<circle cx="201.3" cy="133.54999999999998" r="5.35" fill="#3a3a3a" fill-opacity=".75"/>
<circle cx="201.3" cy="133.2" r="5.1" fill="#8c9ec6"/>
<circle cx="201.3" cy="133.2" r="5.1" fill="url(#hl)"/>
<circle cx="147" cy="137.35" r="5.35" fill="#3a3a3a" fill-opacity=".75"/>
<circle cx="147" cy="137" r="5.1" fill="#dcaca5"/>
<circle cx="147" cy="137" r="5.1" fill="url(#hl)"/>
<circle cx="122.7" cy="143.85" r="5.35" fill="#3a3a3a" fill-opacity=".75"/>
<circle cx="122.7" cy="143.5" r="5.1" fill="#b1d4a3"/>
<circle cx="122.7" cy="143.5" r="5.1" fill="url(#hl)"/>
<circle cx="87.8" cy="146.25" r="5.35" fill="#3a3a3a" fill-opacity=".75"/>
<circle cx="87.8" cy="145.9" r="5.1" fill="#a2cfc9"/>
<circle cx="87.8" cy="145.9" r="5.1" fill="url(#hl)"/>
<circle cx="66.1" cy="153.85" r="5.35" fill="#3a3a3a" fill-opacity=".75"/>
<circle cx="66.1" cy="153.5" r="5.1" fill="#dfb1a0"/>
<circle cx="66.1" cy="153.5" r="5.1" fill="url(#hl)"/>
<circle cx="109.1" cy="155.15" r="5.35" fill="#3a3a3a" fill-opacity=".75"/>
<circle cx="109.1" cy="154.8" r="5.1" fill="#acd4a6"/>
<circle cx="109.1" cy="154.8" r="5.1" fill="url(#hl)"/>
<circle cx="222.8" cy="156.25" r="5.35" fill="#3a3a3a" fill-opacity=".75"/>
<circle cx="222.8" cy="155.9" r="5.1" fill="#c9d49e"/>
<circle cx="222.8" cy="155.9" r="5.1" fill="url(#hl)"/>
<circle cx="257.2" cy="154.95" r="5.35" fill="#3a3a3a" fill-opacity=".75"/>
<circle cx="257.2" cy="154.6" r="5.1" fill="#cece8f"/>
<circle cx="257.2" cy="154.6" r="5.1" fill="url(#hl)"/>
<circle cx="302.3" cy="139.15" r="5.35" fill="#3a3a3a" fill-opacity=".75"/>
<circle cx="302.3" cy="138.8" r="5.1" fill="#ccce8a"/>
<circle cx="302.3" cy="138.8" r="5.1" fill="url(#hl)"/>
<circle cx="159.3" cy="173.25" r="5.35" fill="#3a3a3a" fill-opacity=".75"/>
<circle cx="159.3" cy="172.9" r="5.1" fill="#df7070"/>
<circle cx="159.3" cy="172.9" r="5.1" fill="url(#hl)"/>
<circle cx="68.2" cy="177.25" r="5.35" fill="#3a3a3a" fill-opacity=".75"/>
<circle cx="68.2" cy="176.9" r="5.1" fill="#d9c99e"/>
<circle cx="68.2" cy="176.9" r="5.1" fill="url(#hl)"/>
<circle cx="182.4" cy="186.65" r="5.35" fill="#3a3a3a" fill-opacity=".75"/>
<circle cx="182.4" cy="186.3" r="5.1" fill="#a5cf9e"/>
<circle cx="182.4" cy="186.3" r="5.1" fill="url(#hl)"/>
<circle cx="119.6" cy="187.95" r="5.35" fill="#3a3a3a" fill-opacity=".75"/>
<circle cx="119.6" cy="187.6" r="5.1" fill="#5e7aa7"/>
<circle cx="119.6" cy="187.6" r="5.1" fill="url(#hl)"/>
<circle cx="233.7" cy="189.65" r="5.35" fill="#3a3a3a" fill-opacity=".75"/>
<circle cx="233.7" cy="189.3" r="5.1" fill="#a5cdd9"/>
<circle cx="233.7" cy="189.3" r="5.1" fill="url(#hl)"/>
<circle cx="54.5" cy="194.25" r="5.35" fill="#3a3a3a" fill-opacity=".75"/>
<circle cx="54.5" cy="193.9" r="5.1" fill="#acd7da"/>
<circle cx="54.5" cy="193.9" r="5.1" fill="url(#hl)"/>
<circle cx="154" cy="194.54999999999998" r="5.35" fill="#3a3a3a" fill-opacity=".75"/>
<circle cx="154" cy="194.2" r="5.1" fill="#dfc29a"/>
<circle cx="154" cy="194.2" r="5.1" fill="url(#hl)"/>
<circle cx="108.3" cy="198.15" r="5.35" fill="#3a3a3a" fill-opacity=".75"/>
<circle cx="108.3" cy="197.8" r="5.1" fill="#aca5d0"/>
<circle cx="108.3" cy="197.8" r="5.1" fill="url(#hl)"/>
<circle cx="164" cy="205.04999999999998" r="5.35" fill="#3a3a3a" fill-opacity=".75"/>
<circle cx="164" cy="204.7" r="5.1" fill="#dfaca5"/>
<circle cx="164" cy="204.7" r="5.1" fill="url(#hl)"/>
<circle cx="257.2" cy="211.85" r="5.35" fill="#3a3a3a" fill-opacity=".75"/>
<circle cx="257.2" cy="211.5" r="5.1" fill="#9bbfdc"/>
<circle cx="257.2" cy="211.5" r="5.1" fill="url(#hl)"/>
<circle cx="63.2" cy="214.15" r="5.35" fill="#3a3a3a" fill-opacity=".75"/>
<circle cx="63.2" cy="213.8" r="5.1" fill="#a5d0b1"/>
<circle cx="63.2" cy="213.8" r="5.1" fill="url(#hl)"/>
<circle cx="26.2" cy="216.04999999999998" r="5.35" fill="#3a3a3a" fill-opacity=".75"/>
<circle cx="26.2" cy="215.7" r="5.1" fill="#a5d0bb"/>
<circle cx="26.2" cy="215.7" r="5.1" fill="url(#hl)"/>
<circle cx="133.6" cy="217.85" r="5.35" fill="#3a3a3a" fill-opacity=".75"/>
<circle cx="133.6" cy="217.5" r="5.1" fill="#b4d49e"/>
<circle cx="133.6" cy="217.5" r="5.1" fill="url(#hl)"/>
<circle cx="212.2" cy="221.04999999999998" r="5.35" fill="#3a3a3a" fill-opacity=".75"/>
<circle cx="212.2" cy="220.7" r="5.1" fill="#8cc797"/>
<circle cx="212.2" cy="220.7" r="5.1" fill="url(#hl)"/>
<circle cx="102.8" cy="225.54999999999998" r="5.35" fill="#3a3a3a" fill-opacity=".75"/>
<circle cx="102.8" cy="225.2" r="5.1" fill="#bfc781"/>
<circle cx="102.8" cy="225.2" r="5.1" fill="url(#hl)"/>
<circle cx="298.6" cy="234.15" r="5.35" fill="#3a3a3a" fill-opacity=".75"/>
<circle cx="298.6" cy="233.8" r="5.1" fill="#c6cf90"/>
<circle cx="298.6" cy="233.8" r="5.1" fill="url(#hl)"/>
<circle cx="138.8" cy="237.95" r="5.35" fill="#3a3a3a" fill-opacity=".75"/>
<circle cx="138.8" cy="237.6" r="5.1" fill="#d9d09e"/>
<circle cx="138.8" cy="237.6" r="5.1" fill="url(#hl)"/>
<circle cx="226.7" cy="242.15" r="5.35" fill="#3a3a3a" fill-opacity=".75"/>
<circle cx="226.7" cy="241.8" r="5.1" fill="#9dccc2"/>
<circle cx="226.7" cy="241.8" r="5.1" fill="url(#hl)"/>
<circle cx="186" cy="248.35" r="5.35" fill="#3a3a3a" fill-opacity=".75"/>
<circle cx="186" cy="248" r="5.1" fill="#a5d0a5"/>
<circle cx="186" cy="248" r="5.1" fill="url(#hl)"/>
<circle cx="198" cy="249.85" r="5.35" fill="#3a3a3a" fill-opacity=".75"/>
<circle cx="198" cy="249.5" r="5.1" fill="#6fb8aa"/>
<circle cx="198" cy="249.5" r="5.1" fill="url(#hl)"/>
<circle cx="161.7" cy="260.15000000000003" r="5.35" fill="#3a3a3a" fill-opacity=".75"/>
<circle cx="161.7" cy="259.8" r="5.1" fill="#dfc19e"/>
<circle cx="161.7" cy="259.8" r="5.1" fill="url(#hl)"/>
<circle cx="91" cy="271.95000000000005" r="5.35" fill="#3a3a3a" fill-opacity=".75"/>
<circle cx="91" cy="271.6" r="5.1" fill="#a5c9dc"/>
<circle cx="91" cy="271.6" r="5.1" fill="url(#hl)"/>
<circle cx="117.4" cy="272.55" r="5.35" fill="#3a3a3a" fill-opacity=".75"/>
<circle cx="117.4" cy="272.2" r="5.1" fill="#dfb7a5"/>
<circle cx="117.4" cy="272.2" r="5.1" fill="url(#hl)"/>
<circle cx="137.3" cy="282.45000000000005" r="5.35" fill="#3a3a3a" fill-opacity=".75"/>
<circle cx="137.3" cy="282.1" r="5.1" fill="#dfc7a5"/>
<circle cx="137.3" cy="282.1" r="5.1" fill="url(#hl)"/>
<circle cx="201.5" cy="285.65000000000003" r="5.35" fill="#3a3a3a" fill-opacity=".75"/>
<circle cx="201.5" cy="285.3" r="5.1" fill="#bad49e"/>
<circle cx="201.5" cy="285.3" r="5.1" fill="url(#hl)"/>
<circle cx="37" cy="290.05" r="5.35" fill="#3a3a3a" fill-opacity=".75"/>
<circle cx="37" cy="289.7" r="5.1" fill="#9bb2d6"/>
<circle cx="37" cy="289.7" r="5.1" fill="url(#hl)"/>
<circle cx="180" cy="292.35" r="5.35" fill="#3a3a3a" fill-opacity=".75"/>
<circle cx="180" cy="292" r="5.1" fill="#9dcacf"/>
<circle cx="180" cy="292" r="5.1" fill="url(#hl)"/>
<circle cx="156.7" cy="294.25" r="5.35" fill="#3a3a3a" fill-opacity=".75"/>
<circle cx="156.7" cy="293.9" r="5.1" fill="#a5cf9e"/>
<circle cx="156.7" cy="293.9" r="5.1" fill="url(#hl)"/>
<g font-family="Liberation Sans, sans-serif" font-size="3.15" fill="#222" stroke="#222" stroke-width=".1">
<text x="178.1" y="21.8">KCNJ2</text>
<text x="240.5" y="56.4">MPP1</text>
<text x="80.8" y="66.9">VDR</text>
<text x="114.1" y="76.4">TRAF3</text>
<text x="38.8" y="79.6">CDK19</text>
<text x="233.9" y="87.4">CRBN</text>
<text x="23.2" y="104.6">CDK8</text>
<text x="55.8" y="104.9">ZFP36L2</text>
<text x="210.3" y="102.3">HRAS</text>
<text x="156.3" y="103.1">SMURF1</text>
<text x="132.5" y="110.2">CDKN2A</text>
<text x="184.1" y="112.8">RICTOR</text>
<text x="117.3" y="120.6">MAPK14</text>
<text x="234.1" y="123.4">MAPKAP1</text>
<text x="206.1" y="128.8">UBE2M</text>
<text x="151.8" y="132.6">MAP2K2</text>
<text x="127.5" y="139.1">DUSP22</text>
<text x="92.6" y="141.5">MTMR1</text>
<text x="70.9" y="149.1">PLK4</text>
<text x="113.9" y="150.4">PTPDC1</text>
<text x="227.6" y="151.5">MTOR</text>
<text x="262.0" y="150.2">DNMBP</text>
<text x="307.1" y="134.4">PRDM4</text>
<text x="164.1" y="168.5">STK38</text>
<text x="73.0" y="172.5">CCNB1</text>
<text x="187.2" y="181.9">HELZ2</text>
<text x="124.4" y="183.2">CDC14A</text>
<text x="238.5" y="184.9">CALM1</text>
<text x="59.3" y="189.5">HIST2H2AC</text>
<text x="158.8" y="189.8">MOB1B</text>
<text x="113.1" y="193.4">CDC14B</text>
<text x="168.8" y="200.3">STK38L</text>
<text x="262.0" y="207.1">S100B</text>
<text x="68.0" y="209.4">HIST1H4J</text>
<text x="31.0" y="211.3">LARP1</text>
<text x="138.4" y="213.1">MOB1A</text>
<text x="217.0" y="216.3">DIS3L2</text>
<text x="107.6" y="220.8">MOB2</text>
<text x="303.4" y="229.4">ZBTB1</text>
<text x="143.6" y="233.2">EED</text>
<text x="231.5" y="237.4">PSMD14</text>
<text x="190.8" y="243.6">FRYL</text>
<text x="202.8" y="245.1">FRY</text>
<text x="166.5" y="255.4">STK24</text>
<text x="95.8" y="267.2">MAGOH</text>
<text x="122.2" y="267.8">STK25</text>
<text x="142.1" y="277.7">MST4</text>
<text x="206.3" y="280.9">DIS3L</text>
<text x="41.8" y="285.3">ID2</text>
<text x="184.8" y="287.6">MAP3K8</text>
<text x="161.5" y="289.5">DIS3</text>
</g>
</g>
<g id="scatter">
<rect x="277.9" y="23.5" width="72.4" height="69.8" fill="#fff" stroke="#c4c4c4" stroke-width=".5"/>
<ellipse cx="319" cy="54.5" rx="19.2" ry="9.2" transform="rotate(-50 319 54.5)" fill="#000"/>
<path d="M321.5 31.6zM328.0 57.8zM320.8 41.1zM334.9 34.0zM319.0 66.6zM334.2 50.1zM332.3 50.2zM309.7 72.0zM331.2 40.3zM328.5 38.0zM314.0 44.2zM325.3 33.3zM331.2 39.0zM313.3 41.1zM325.8 38.8zM334.8 49.7zM334.2 44.1zM301.6 69.4zM334.0 31.6zM329.5 62.1zM333.2 41.5zM319.2 42.2zM302.7 65.7zM331.1 40.3zM317.4 37.9zM301.2 72.8zM307.6 51.7zM323.5 39.7zM327.9 34.3zM302.9 66.8zM325.9 66.4zM316.6 34.9zM306.6 72.3zM312.6 73.3zM322.0 34.5zM304.1 55.4zM329.2 59.7zM329.3 55.4zM320.9 65.6zM333.3 58.0zM325.4 37.2zM334.4 35.9zM333.4 54.0zM336.2 40.7zM310.6 47.9zM326.2 65.3zM332.5 33.3zM311.0 49.6zM319.9 72.8zM309.6 80.5zM327.3 58.6zM317.7 42.5zM335.2 54.6zM322.0 68.9zM324.2 28.6zM333.7 37.6zM302.7 71.6zM307.3 69.3zM305.0 61.2zM320.3 41.0zM299.8 48.7zM298.6 70.1zM335.7 55.2zM331.1 35.4zM314.1 42.9zM335.0 51.0zM316.3 69.9zM303.0 65.8zM333.0 42.2zM298.2 62.1zM309.5 44.7zM309.2 47.5zM319.6 68.0zM328.3 60.3zM307.8 70.7zM317.7 43.0zM334.5 42.4zM319.4 67.0zM305.7 70.0zM333.3 45.3zM307.4 69.1zM327.1 63.5zM312.8 71.9zM326.0 62.8zM314.4 71.1zM308.2 53.0zM335.5 54.5zM338.6 43.0zM311.9 77.8zM308.8 50.8zM307.8 53.3zM305.4 59.5zM310.2 75.1zM340.6 44.4zM314.2 46.3zM317.8 43.0zM327.3 33.0zM318.5 40.2zM332.6 49.6zM324.1 39.9zM332.2 39.4zM318.4 68.3zM304.8 66.6zM306.7 57.8zM297.7 62.0zM308.8 50.7zM332.6 54.6zM306.9 57.5zM332.7 47.8zM334.6 44.2zM328.4 63.3zM331.8 50.3zM314.6 68.8zM339.7 37.7zM330.5 38.7zM324.4 39.4zM304.8 64.0zM333.2 41.5zM320.6 41.2zM305.4 66.1zM310.1 47.0zM302.5 66.2zM344.7 31.2zM332.0 38.1zM308.7 75.3zM317.3 38.4zM324.0 33.9zM310.4 46.3zM336.0 38.3zM328.2 37.2zM327.4 38.0zM324.6 62.6zM335.2 41.0zM341.9 25.6zM308.8 73.5zM332.9 42.8zM319.9 40.4zM334.5 37.7zM315.1 72.4zM323.8 34.9zM337.7 34.8zM303.7 64.3zM318.2 39.1zM311.2 70.9zM311.9 74.3zM305.9 78.8zM325.9 38.9zM312.7 43.9zM316.7 42.2zM304.6 67.4zM314.0 72.5zM317.1 69.2zM331.2 59.4zM339.5 49.8zM314.3 44.7zM314.8 44.8zM336.4 43.0zM320.0 40.9zM304.1 72.6zM292.4 79.5zM294.2 65.8zM305.6 67.8zM320.9 71.8zM307.8 54.4zM336.3 38.8zM320.8 67.6zM302.9 74.3zM321.3 66.5zM319.3 42.1zM331.5 53.2zM311.7 72.9zM323.8 38.4zM305.0 49.8zM320.3 65.6zM317.3 41.8zM330.9 57.0zM311.6 48.7zM337.7 42.3zM303.0 72.2zM307.2 74.7zM322.3 65.9zM313.1 46.9zM304.6 50.3zM329.0 58.5zM313.7 46.1zM330.6 54.0zM307.0 52.6zM332.0 39.3zM318.3 40.4zM326.1 37.6zM318.2 79.1zM332.3 53.5zM334.1 46.5zM342.1 42.6zM333.4 46.1zM335.6 52.0zM301.9 68.2zM327.3 37.7zM309.3 70.9zM333.6 49.6zM308.0 54.5zM305.3 70.7zM332.3 51.3zM296.3 91.7zM313.1 45.9zM323.3 62.9zM320.4 73.7zM318.1 70.3zM310.2 71.8zM305.5 72.2zM307.5 48.4zM333.1 44.5zM303.9 68.9zM324.0 63.7zM301.9 72.2zM330.8 62.6zM328.6 33.9zM332.8 51.0zM331.5 53.8zM318.2 70.1zM326.9 58.8zM331.0 36.9zM331.7 37.6zM319.9 42.1zM326.0 63.1zM318.5 40.6zM326.9 59.8zM304.6 60.1zM311.6 69.7zM322.8 36.6zM306.0 68.9zM309.7 51.9zM333.2 44.2zM317.5 41.9zM318.4 69.4zM316.1 43.4zM331.8 55.8zM324.0 62.3zM309.3 52.4zM306.5 74.5zM334.9 49.3zM326.6 62.3zM333.2 41.4zM319.8 66.9zM314.5 39.1zM336.0 46.5zM324.5 38.5zM330.2 53.5zM305.7 66.0zM334.8 44.5zM327.6 60.0zM307.7 69.0zM284.8 72.5zM318.2 67.4zM339.8 25.7zM318.5 38.9zM311.4 48.9zM314.3 44.7zM338.9 44.4zM326.2 60.8zM304.7 72.3zM305.7 58.2zM304.3 63.7zM332.9 47.0zM306.7 57.3zM302.9 63.2zM302.3 74.5zM329.8 55.8zM334.5 52.7zM311.0 47.6zM337.0 47.6zM304.5 70.1zM333.8 32.8zM321.7 68.7zM327.5 67.7zM304.8 56.8zM305.8 70.0zM324.4 62.9zM304.5 58.9zM329.8 39.4zM333.0 41.5zM313.3 45.6zM324.6 28.9zM296.3 63.8zM324.7 39.4zM325.6 39.4zM306.1 51.8zM317.1 43.0zM312.0 48.1zM327.9 60.8zM334.7 44.8zM331.7 62.3zM314.0 69.0zM298.8 61.8zM340.1 41.2zM314.4 44.1zM332.2 39.0zM305.2 63.1zM332.6 40.5zM297.8 66.4zM303.3 59.3zM315.2 42.6zM334.1 53.3zM305.1 78.7zM323.9 62.7zM328.6 59.1zM323.8 39.9zM333.3 46.4zM311.2 73.2zM326.6 74.3zM318.2 77.0zM340.9 41.1zM338.0 46.5zM301.4 80.3zM306.2 57.1zM323.6 34.5zM337.3 44.6zM340.6 44.0zM331.9 50.2zM310.7 49.1zM302.4 64.6zM300.7 67.1zM341.3 57.2zM331.2 59.6zM338.1 45.4zM311.5 72.2zM322.3 35.5zM320.4 41.3zM327.0 33.1zM335.5 42.5zM334.9 53.3zM300.5 67.3zM328.5 57.1zM304.1 63.3zM327.3 58.4zM309.2 52.7zM300.5 72.0zM306.0 50.8zM328.2 36.9zM329.1 34.5zM325.1 36.7zM333.0 46.7zM317.9 41.8zM326.8 33.9zM320.4 41.1zM326.3 39.1zM318.7 67.3zM320.1 40.7zM336.1 48.2zM302.4 56.5zM331.9 41.4zM315.4 40.5zM303.4 60.9zM304.5 64.2zM315.3 73.8zM341.7 48.8zM318.0 43.3zM329.5 57.8zM337.0 48.4zM305.4 65.6zM325.7 36.6zM302.9 72.5zM324.4 62.7zM337.2 38.8zM293.8 63.8zM306.0 77.7zM333.0 50.6zM332.3 39.2zM320.6 41.5zM335.1 46.3zM315.8 71.4zM333.1 55.3zM327.8 34.0zM331.3 60.8zM328.8 37.4zM313.6 74.9zM316.4 44.6zM331.2 40.4zM310.0 76.0zM315.6 45.3zM332.6 51.2zM325.2 64.5zM328.6 34.0zM311.1 75.0zM334.1 44.4zM327.4 61.6zM325.8 39.1zM317.8 38.1zM314.7 74.2zM329.9 62.3zM296.0 68.3zM336.8 44.1zM333.5 43.3zM336.0 27.1zM326.8 59.7zM306.5 56.5zM303.6 72.5zM299.5 54.8zM333.5 36.1zM323.5 66.6zM286.5 75.7zM309.7 52.0zM316.9 69.6zM320.5 68.2zM301.6 60.3zM329.4 39.2zM324.8 38.4zM324.6 65.1zM319.1 67.6zM330.2 55.7zM341.1 43.3zM293.1 90.6zM314.0 45.7zM314.3 69.1zM299.0 76.1zM319.4 67.3zM309.2 75.9zM327.0 58.6zM309.7 70.7zM329.9 38.8zM332.5 50.1zM331.3 31.5zM324.9 62.4zM315.0 44.7zM331.0 56.1zM327.8 35.9zM324.6 65.2zM309.0 69.4zM333.6 55.5zM311.4 48.9zM331.7 58.3zM305.8 69.2zM331.1 40.3zM322.9 64.8zM307.3 55.6zM302.9 56.6zM315.2 35.7zM304.8 60.3zM301.5 58.8zM322.9 63.3zM305.3 66.8zM323.1 69.0zM330.8 66.5zM327.6 29.4zM325.5 61.1zM338.3 57.3zM308.0 70.7zM319.1 40.6zM315.9 68.4zM319.3 67.4zM322.7 63.7zM324.8 67.6zM332.4 37.4zM305.3 61.1zM305.9 55.1zM336.5 25.4zM309.8 75.6zM324.4 31.5zM334.4 40.6zM325.0 64.6zM282.7 80.6zM312.7 43.1zM304.7 40.1zM331.9 51.8zM301.7 69.8zM332.5 48.1zM332.3 49.9zM331.2 58.0zM307.0 55.0zM333.5 48.8zM323.8 64.0zM327.1 36.0zM303.2 76.1zM320.4 41.1zM334.5 52.3zM314.0 44.5zM326.4 38.7zM331.9 65.1zM308.9 71.8zM316.6 36.6zM326.4 60.7zM324.8 35.4zM327.9 63.0zM332.7 40.4zM334.0 38.0zM317.8 70.4zM334.2 48.4zM336.5 43.9zM305.0 67.9zM332.2 58.6zM305.4 74.1zM311.2 75.4zM331.1 36.6zM301.1 70.6zM332.4 46.7zM314.5 69.1zM333.5 34.1zM334.2 49.6zM345.6 32.3zM329.2 38.0zM306.1 71.5zM318.0 67.8zM301.7 68.4zM323.7 35.8zM324.4 38.8zM315.7 43.6zM325.5 35.4zM327.8 61.8zM319.2 70.6zM302.8 62.5zM308.6 73.3zM313.0 45.0zM317.8 67.2zM307.0 53.5zM340.3 35.4zM316.6 70.2zM331.9 53.5zM313.0 69.6zM319.3 70.0zM315.4 43.4zM310.7 48.3zM324.8 63.6zM295.1 53.5zM325.6 66.1zM307.6 69.2zM305.1 65.6zM325.8 38.4zM317.1 74.1zM310.1 50.7zM306.9 79.6zM331.2 54.2zM320.9 40.9zM333.6 46.8zM335.7 52.6zM306.0 47.8zM300.5 72.3zM336.5 36.7zM330.1 33.6zM328.7 68.2zM309.7 75.0zM330.9 40.1zM314.2 40.5zM335.1 49.3zM316.6 42.9zM305.0 79.7zM328.8 27.5zM327.3 68.2zM305.2 62.0zM327.9 35.4zM323.6 34.7zM317.0 44.1zM319.9 41.2zM327.8 59.3zM296.2 70.4zM330.1 32.4zM317.7 75.6zM321.2 66.0zM309.8 51.2zM301.9 61.5zM324.0 64.7zM305.5 63.7zM337.9 32.1zM332.6 40.1zM317.7 41.2zM322.4 37.8zM330.3 55.7zM304.9 69.0zM317.2 69.7zM320.0 33.8zM333.7 31.8zM331.0 40.1zM312.5 75.6zM299.1 69.0zM304.5 63.5zM337.6 36.7zM301.1 77.6zM328.6 56.5zM312.4 69.4zM316.8 68.2zM329.6 54.9zM332.7 51.7zM303.9 62.7zM329.8 35.0zM329.0 58.3zM311.9 76.4zM334.3 32.2zM332.2 48.5zM299.3 82.3zM332.5 47.3zM302.0 67.6zM325.8 60.3zM316.0 73.8zM326.7 34.7zM332.6 46.6zM316.3 68.0zM301.5 67.6zM305.2 73.7zM306.5 52.4zM306.1 58.7zM308.7 70.0zM333.3 49.7zM337.7 52.0zM319.2 37.0zM343.6 31.5zM323.3 63.2zM318.0 71.0zM302.1 74.5zM333.7 41.9zM337.9 40.0zM304.4 69.3zM335.5 42.5zM303.0 77.2zM329.9 38.7zM318.3 42.8zM319.7 67.4zM330.4 83.0zM313.1 47.7zM317.0 74.4zM315.3 73.1zM332.9 32.6zM328.9 33.9zM339.2 45.9zM303.2 66.1zM305.7 68.2zM327.9 63.1zM333.3 54.2zM330.5 55.8zM295.7 66.7zM300.1 78.9zM312.5 72.1zM328.3 32.2zM318.5 67.4zM319.6 41.9zM313.7 69.3zM295.8 75.4zM300.5 70.3zM303.7 68.9zM306.8 71.0zM304.8 57.9zM307.3 71.7zM321.3 33.4zM334.5 55.4zM302.1 75.6zM333.6 52.3zM304.6 65.2zM322.9 71.5zM315.9 70.3zM324.1 65.6zM323.5 65.6zM333.2 43.9zM326.0 60.1zM306.6 72.8zM335.6 34.0zM325.5 61.8zM300.6 67.5zM305.9 77.3zM315.6 43.5zM333.2 46.5zM333.6 43.9zM327.5 63.7zM333.8 46.7zM323.2 33.3zM329.8 57.0zM325.4 73.1zM314.8 70.8zM309.0 50.1zM337.5 48.5zM307.3 78.6zM311.8 48.9zM333.6 52.7zM325.0 67.6zM332.6 46.3zM329.4 56.9zM334.1 54.6zM332.2 39.6zM310.5 48.9zM310.8 48.1zM335.9 51.6zM336.4 46.3zM334.9 46.5zM309.5 74.7zM304.8 68.8zM315.6 75.2zM316.9 74.8zM325.9 60.7zM316.1 70.1zM325.6 36.8zM322.2 74.3zM297.7 74.0zM316.0 73.3zM317.1 43.9zM306.1 69.9zM305.7 75.9zM298.2 83.0zM324.5 61.6zM321.1 66.0zM305.5 56.2zM302.3 57.2zM298.2 67.4zM336.4 40.7zM302.4 58.1zM325.7 62.3zM311.8 48.7zM313.7 45.0zM312.5 47.3zM326.6 61.8zM338.0 36.4zM304.8 67.9zM333.0 47.4zM326.2 39.3zM305.4 55.4zM340.6 40.5zM317.2 68.8zM305.5 56.2zM306.6 49.2zM303.2 63.0zM302.8 46.1zM307.5 71.1zM311.6 69.9zM328.9 33.3zM324.1 77.9zM316.7 67.7zM305.2 65.6zM326.5 34.7zM292.2 74.6zM333.8 47.2zM303.7 78.5zM332.3 36.2zM342.0 35.7zM312.5 46.5zM337.2 34.0zM311.4 72.9zM333.2 48.6zM323.7 37.0zM302.6 55.9zM317.1 67.6zM319.4 68.5zM336.8 38.9zM308.8 52.9zM331.9 40.5zM332.5 51.3zM305.8 72.0zM308.1 50.8zM332.6 44.5zM323.4 63.7zM305.5 50.9zM333.8 46.2zM321.9 38.5zM306.2 58.5zM305.2 60.7zM302.9 73.3zM329.5 36.6zM297.5 75.1zM333.7 51.7zM299.4 59.4zM307.9 70.2zM307.4 70.4zM321.6 28.7zM340.7 49.9zM344.2 33.3zM306.6 73.5zM305.0 68.4zM309.2 47.2zM308.0 54.5zM298.3 68.9zM305.0 63.8zM313.7 69.3zM305.8 56.3zM333.8 32.4zM335.2 44.8zM308.3 51.8zM335.9 36.5zM302.0 67.6zM308.9 69.4zM334.4 41.4zM308.5 72.5zM317.7 70.7zM315.8 70.0zM325.6 63.7zM301.5 69.7zM332.6 49.6zM302.7 63.6zM308.8 69.5zM298.1 62.2zM311.1 70.5zM339.5 43.7zM310.4 75.0zM327.4 38.6zM317.9 39.2zM303.2 69.4zM311.3 70.6zM334.0 40.5zM330.4 37.7zM332.7 29.1zM297.5 66.8zM331.6 35.9zM332.7 27.2zM311.5 71.8zM317.4 40.7zM335.7 38.1zM323.9 65.0zM330.4 52.9zM308.1 50.3zM323.5 36.3zM315.1 43.3zM330.7 54.7zM337.2 66.3zM301.6 64.6zM324.1 65.2zM317.7 41.9zM321.9 69.2zM316.7 72.8zM301.8 67.3zM333.1 32.6zM325.6 38.8zM329.9 39.0zM312.4 69.4zM313.6 71.2zM303.1 62.2zM325.4 63.1zM328.6 61.5zM300.1 76.6zM312.3 72.0zM313.5 70.6zM309.0 51.4zM334.4 42.6zM325.1 39.4zM316.8 72.7zM333.3 36.8zM304.1 57.9zM326.1 39.2zM331.3 25.2zM319.1 42.2zM306.0 72.0zM324.2 62.4zM297.0 65.6zM317.2 38.3zM302.1 59.6zM308.8 69.8zM303.2 80.1zM310.1 77.0zM296.6 76.5zM332.7 57.1zM334.5 44.2zM305.1 77.5zM331.3 34.6zM319.3 67.0zM300.8 71.0zM319.5 35.2zM308.1 72.4zM313.5 74.4zM314.1 45.6zM336.1 38.2zM312.2 48.9zM335.7 51.0zM336.1 41.8zM301.2 72.5zM297.7 79.9zM315.4 71.1zM335.6 42.3zM319.7 42.0zM334.9 46.9zM307.3 55.9zM303.6 65.3zM306.9 52.7zM304.1 59.3zM309.1 51.6zM326.0 37.8zM298.4 66.6zM298.6 69.3zM299.5 75.3zM327.8 63.5zM302.8 61.0zM331.0 55.8zM332.6 49.6zM328.6 63.9zM322.9 66.1zM334.7 38.9zM301.0 64.9zM332.2 62.3zM331.7 49.7zM313.7 44.0zM319.0 70.4zM309.7 51.8zM316.5 42.8zM304.2 70.6zM340.1 41.4zM329.1 58.6zM335.8 40.5zM331.9 55.4zM332.6 50.9zM307.9 47.3zM322.5 65.8zM314.5 70.0zM317.8 69.5zM305.5 72.5zM329.0 37.4zM307.4 52.0zM318.0 67.4zM300.4 71.6zM332.3 65.2zM306.1 72.0zM332.3 53.5zM320.4 40.6zM329.0 58.6zM301.0 65.4zM308.4 76.1zM303.5 68.7zM330.5 61.3zM318.2 42.9zM305.3 64.9zM325.9 30.8zM311.7 43.0zM305.9 56.5zM324.7 64.0zM331.9 42.0zM312.9 42.7zM318.0 71.5zM321.6 68.0zM309.1 71.3zM305.8 75.6zM291.2 48.1zM309.0 53.2zM340.6 39.1zM319.2 72.2zM302.6 55.1zM305.5 58.1zM288.6 88.9zM300.3 66.8zM331.5 50.5zM309.5 72.9zM303.6 60.4zM329.1 56.3zM337.5 36.8zM305.5 69.9zM324.1 79.6zM303.5 62.2zM320.7 67.5zM324.0 72.4zM312.3 75.4zM307.0 49.1zM336.4 46.6zM332.2 35.8zM314.4 44.2zM313.0 70.5zM330.3 39.8zM334.2 34.8zM334.4 47.9zM302.2 64.4zM320.6 74.9zM313.8 71.6zM331.3 57.3zM339.6 38.8zM317.3 71.5zM320.2 75.0zM306.1 72.4zM329.5 56.7zM310.6 50.9zM299.4 69.8zM303.7 61.3zM306.4 57.7zM317.5 67.5zM339.8 43.2zM334.5 44.8zM318.9 66.8zM325.8 60.2zM313.0 76.2zM333.8 45.3zM326.9 36.1zM309.2 71.3zM310.3 49.6zM328.5 39.2zM303.4 65.4zM328.1 30.0zM319.9 37.3zM294.5 71.6zM304.5 51.8zM333.2 39.0zM306.4 51.6zM341.8 52.3zM305.0 65.2zM329.5 57.6zM332.4 37.5zM301.5 63.2zM305.4 52.9zM305.0 70.1zM329.6 33.7zM301.3 71.5zM311.4 70.1zM328.1 37.1zM320.7 36.8zM322.5 65.2zM306.5 71.2zM303.3 65.0zM336.8 38.1zM302.4 56.1zM330.0 54.8zM314.4 69.5zM307.2 56.0zM304.2 72.3zM315.9 68.1zM310.8 70.8zM310.7 73.1zM309.0 77.4zM315.8 71.4zM333.6 40.4zM326.2 39.1zM310.1 50.4zM331.6 39.1zM305.5 56.9zM301.7 58.7zM304.5 65.1zM299.9 78.2zM334.0 53.8zM331.2 55.5zM330.0 40.0zM306.5 52.8zM303.1 58.9zM294.9 69.3zM321.5 64.7zM326.5 37.9zM305.5 73.6zM311.3 48.0zM329.5 55.9zM315.0 41.2zM315.4 68.9zM324.6 64.4zM317.2 76.6zM328.5 58.8zM331.4 40.8zM339.8 46.9zM313.8 43.2zM329.5 55.9zM320.2 65.8zM318.6 66.8zM301.7 65.8zM330.7 58.5zM337.0 35.5zM317.2 72.2zM322.6 40.5zM328.5 57.8zM311.7 46.8zM327.0 35.9zM334.5 47.4zM321.5 65.6zM304.2 48.2zM325.9 62.2zM330.7 55.8zM327.1 63.7zM316.8 71.0zM327.7 37.3zM312.1 41.2zM336.0 51.5zM332.7 43.7zM330.5 36.8zM299.1 36.8zM314.9 75.4zM322.2 72.0zM303.6 54.0zM334.9 38.0zM300.9 70.7zM332.0 55.6zM313.4 74.3zM309.5 51.5zM306.2 71.1zM303.9 66.5zM305.0 69.0zM326.5 33.4zM322.3 81.1zM305.2 54.6zM328.9 37.2zM329.6 57.1zM331.9 40.6zM325.1 38.2zM335.7 31.3zM312.9 41.9zM302.1 76.9zM335.1 41.3zM302.0 75.7zM304.1 61.4zM331.9 40.8zM307.4 71.1zM301.3 68.8zM311.9 69.7zM322.7 67.6zM304.9 65.0zM333.2 47.3zM307.0 56.9zM317.6 68.2zM308.2 53.8zM299.6 71.3zM306.0 52.5zM336.8 37.9zM308.8 79.9zM316.1 32.5zM343.3 45.2zM333.3 48.4zM317.1 40.2zM309.1 39.7zM333.0 49.1zM304.6 66.8zM326.9 35.8zM299.1 65.6zM329.6 33.7zM303.5 65.5zM317.5 39.9zM338.7 54.0zM320.2 69.1zM328.5 58.6zM295.3 72.9zM308.4 52.5zM326.9 58.9zM314.8 45.4zM332.1 55.8zM304.6 65.1zM334.8 46.5zM336.5 34.1zM317.0 41.5zM311.5 48.7zM329.1 36.8zM320.1 66.1zM303.9 60.1zM303.3 65.7zM308.3 77.6zM313.7 69.9zM305.0 56.8zM308.6 71.4zM332.5 38.4zM318.1 41.9zM330.0 35.2zM320.2 68.9zM331.5 54.0zM333.6 50.1zM309.4 74.6zM304.5 74.7zM295.3 70.8zM333.0 44.2zM308.5 52.9zM311.6 72.5zM314.9 44.3zM317.6 67.9zM321.5 65.1zM333.7 38.9zM304.6 71.0zM305.3 52.9zM316.0 69.7zM312.3 69.7zM333.1 42.6zM311.4 71.4zM310.4 73.3zM303.7 72.4zM323.9 37.5zM322.3 37.7zM334.6 34.5zM335.2 52.6zM341.0 38.9zM309.1 69.7zM320.6 70.0zM332.4 56.5zM309.3 73.3zM323.6 37.8zM333.1 47.4zM301.2 61.0zM315.4 45.0zM315.7 69.4zM314.1 72.6zM314.7 44.9zM326.0 37.0zM338.0 31.1zM306.8 70.4zM312.0 45.6zM309.5 45.9zM313.7 43.4zM311.5 43.3zM328.3 36.9zM317.2 43.1zM320.3 74.2zM332.6 33.1zM303.6 71.0zM304.2 65.9zM317.1 35.8zM308.6 71.0zM308.3 73.3zM331.7 61.7zM310.3 50.7zM304.2 62.7zM310.9 50.2zM326.3 64.3zM309.5 47.5zM310.6 73.5zM317.6 41.4zM324.5 35.7zM319.9 41.9zM319.3 39.1zM330.2 55.2zM305.5 73.5zM337.1 49.6zM303.1 57.4zM305.6 71.4zM340.1 42.7zM303.7 60.6zM317.8 68.4zM321.3 31.1zM331.4 36.8zM322.1 68.4zM335.4 37.7zM322.1 65.0zM337.1 50.1zM306.1 59.8zM332.7 34.0zM330.0 39.5zM314.3 70.3zM311.1 72.6zM308.7 53.0zM308.5 47.9zM307.1 55.1zM332.7 44.5zM324.5 64.8zM306.2 50.5zM302.7 66.6zM311.9 47.5zM307.0 72.6zM298.6 91.3zM301.3 75.0zM309.2 48.5zM301.2 72.7zM304.8 73.9zM338.6 43.1zM299.1 76.7zM320.6 78.0zM313.0 42.6zM336.7 50.0zM325.7 62.1zM303.7 74.9zM300.0 54.2zM308.4 53.1zM305.4 70.2zM306.6 57.2zM315.9 45.0zM322.0 69.6zM328.1 33.8zM331.8 31.3zM290.9 55.7zM321.2 39.5zM325.3 61.9zM298.0 57.4zM315.4 44.1zM334.1 41.1zM302.0 70.9zM331.7 50.8zM306.2 57.2zM306.3 57.4zM324.1 63.4zM305.1 63.5zM315.5 45.3zM309.5 47.6zM318.5 40.8zM304.0 71.7zM336.9 32.9zM314.8 76.4zM306.5 58.2zM305.5 59.5zM331.4 56.2zM322.1 66.8zM318.1 38.2zM305.1 70.1zM330.3 53.3zM333.7 27.3zM332.8 45.3zM329.4 61.6zM321.6 64.7zM307.5 55.7zM307.0 54.8zM326.4 38.6zM322.7 37.5zM347.0 39.7zM306.0 68.4zM341.1 38.1zM308.6 50.4zM327.7 36.8zM303.1 56.5zM330.1 36.7zM310.2 72.9zM326.7 39.2zM330.7 58.4zM308.7 50.4zM304.4 58.5zM306.5 57.9zM308.1 72.4zM319.7 39.0zM317.3 43.3zM310.7 50.8zM331.8 53.3zM328.4 37.4zM307.1 68.4zM317.3 73.6zM327.2 58.6zM300.7 66.0zM326.3 63.7zM304.7 72.6zM330.1 60.4zM315.2 68.9zM302.7 67.3zM341.4 39.2zM305.1 59.0zM311.5 42.1zM328.5 38.1zM327.1 30.9zM313.8 46.2zM307.1 73.8zM330.7 32.3zM305.8 68.4zM302.0 71.2zM325.7 61.0zM304.0 61.9zM305.7 61.5zM333.8 55.6zM335.2 36.6zM321.1 71.8zM308.3 71.4zM321.5 67.1zM331.8 54.0zM306.8 52.2zM304.3 63.7zM312.0 75.3zM303.6 59.7zM329.0 61.1zM304.0 89.5zM336.8 48.1zM338.1 57.2zM306.1 50.3zM327.0 35.1zM334.3 39.3zM319.6 66.0zM337.1 33.2zM336.8 28.6zM334.0 39.5zM290.9 73.0zM310.2 50.8zM322.0 64.3zM325.6 60.6zM305.9 60.4zM329.2 62.3zM334.6 57.2zM305.2 57.9zM331.6 40.7zM304.8 62.2zM301.7 70.4zM334.3 49.4zM336.2 37.1zM298.0 62.5zM305.4 65.5zM332.2 50.2zM321.7 33.2zM339.7 37.3zM321.3 37.9zM314.3 44.3zM335.7 31.8zM305.2 67.1zM332.8 42.7zM337.2 43.6zM309.5 50.7zM310.3 77.3zM304.1 62.1zM333.7 37.5zM321.1 69.5zM307.5 51.7zM331.4 58.8zM302.2 64.9zM304.3 79.2zM326.3 32.7zM321.9 69.8zM309.9 51.9zM331.6 40.5zM309.0 46.0zM310.9 73.4zM306.2 55.6zM334.3 49.3zM312.9 70.6zM308.3 72.4zM304.5 70.0zM324.1 63.2zM332.1 54.2zM332.1 34.5zM312.8 45.5zM307.3 50.0zM325.1 38.2zM312.5 70.9zM308.4 49.7zM319.3 67.5zM313.7 47.3zM313.0 74.6zM296.2 74.1zM312.0 79.2zM302.7 65.5zM307.4 50.4zM306.9 51.4zM306.8 73.1zM307.6 50.1zM304.3 79.9zM333.1 45.8zM336.7 32.9zM334.0 58.1zM329.0 60.0zM334.0 41.3zM331.0 33.2zM317.4 68.3zM300.5 61.3zM310.5 77.8zM318.9 42.6zM288.6 60.9zM305.4 67.6zM314.7 69.3zM336.7 44.5zM324.0 65.8zM305.7 53.2zM314.8 44.6zM335.9 43.1zM318.7 67.5zM303.6 65.9zM300.8 63.6zM332.0 38.0zM316.1 43.8zM336.0 46.6zM341.8 44.6zM318.7 72.3zM336.9 42.0zM338.1 34.0zM312.1 29.2zM313.8 71.0zM297.5 53.2zM318.9 67.0zM333.0 44.3zM336.0 37.5zM305.0 59.4zM337.8 36.0zM310.3 51.4zM311.6 78.8zM311.9 75.0zM308.6 76.7zM329.4 58.3zM305.5 55.1zM332.6 34.0zM313.8 89.1zM330.8 39.1zM303.9 69.0zM304.6 70.1zM315.6 72.5zM335.1 33.4zM321.7 39.3zM326.0 65.3zM337.5 44.0zM305.7 66.5zM313.2 73.2zM332.0 35.7zM330.7 53.6zM325.7 67.3zM302.3 59.8zM331.5 51.9zM333.8 35.0zM302.0 57.8zM302.9 67.6zM304.4 62.3zM303.2 65.2zM331.7 41.6zM298.0 74.9zM336.1 34.9zM313.6 42.8zM315.0 70.6zM305.1 65.5zM303.8 72.3zM334.9 45.1zM319.0 40.5zM329.7 57.5zM313.7 44.4zM324.2 36.7zM329.7 38.6zM324.1 36.7zM317.9 41.8zM339.8 37.6zM336.9 38.3zM322.8 40.0zM305.7 67.0zM327.0 77.9zM335.0 32.9zM310.8 71.6zM322.9 36.6zM335.1 31.6zM302.4 63.0zM305.6 73.2zM303.2 73.3zM306.9 68.3zM303.6 60.8zM303.1 69.2zM326.3 33.3zM316.8 73.5zM315.9 29.0zM333.1 42.2zM320.6 65.6zM330.8 39.6zM329.7 59.8zM334.1 50.3zM318.2 71.2zM334.5 39.3zM301.0 64.5zM310.5 72.3zM321.1 41.1zM324.8 29.9zM323.2 39.3zM315.8 43.2zM295.2 83.9zM332.7 54.5zM306.7 71.5zM307.6 71.3zM333.8 42.3zM333.0 40.3zM308.2 38.4zM331.2 39.7zM307.7 81.8zM331.0 36.3zM299.4 57.1zM317.5 43.4zM312.0 77.2zM332.8 36.5zM332.4 43.3zM313.6 47.1zM321.5 40.6zM296.9 70.2zM296.7 65.8zM294.7 59.6zM309.6 71.5zM301.1 67.5zM334.6 40.6zM335.1 41.6zM326.1 60.7zM305.8 69.5zM332.2 50.5zM305.9 67.9zM338.7 39.9zM305.4 61.2zM311.6 78.7zM308.9 73.9zM322.4 68.7zM316.3 81.7zM333.2 37.5zM324.8 65.0zM305.4 65.7zM320.6 37.6zM303.8 74.4zM328.5 63.1zM322.8 63.9zM303.2 63.5zM325.9 38.1zM301.2 63.3zM323.7 67.9zM321.3 65.3zM301.5 59.1zM325.5 69.3zM325.6 60.4zM331.1 36.3zM300.0 63.2zM332.6 40.4zM332.7 41.5zM306.8 37.0zM317.7 41.2zM318.6 41.8zM338.6 36.9zM310.9 47.4zM302.8 46.7zM302.8 69.3zM333.7 39.0zM310.3 73.3zM325.8 66.8zM334.0 42.7zM308.8 44.9zM305.0 53.9zM335.2 49.1zM317.1 70.9zM307.1 54.7zM311.5 49.9zM314.9 42.1zM322.6 63.6zM317.5 41.7zM330.5 39.0zM335.1 51.6zM299.5 68.7zM305.6 57.9zM323.2 65.8zM311.3 73.7zM302.3 72.9zM305.9 55.5zM318.5 40.1zM331.9 54.5zM304.5 64.8zM305.1 68.4zM301.0 65.1zM332.9 57.5zM328.4 57.6zM311.1 78.2zM302.3 63.3zM314.3 46.1zM305.1 68.6zM331.7 38.6zM318.9 69.5zM309.0 76.9zM310.3 75.7zM307.2 49.9zM331.9 40.5zM331.5 35.8zM307.2 79.6zM300.4 67.0zM304.5 65.3zM318.6 66.9zM333.1 42.3zM319.9 42.1zM337.5 45.3zM306.9 52.2zM312.0 46.9zM332.4 49.5zM339.1 36.3zM320.8 40.8zM331.9 32.8zM325.7 60.1zM301.7 65.9zM304.4 69.8zM321.6 40.2zM318.1 41.3zM295.4 82.8zM304.3 70.6zM318.2 68.6zM336.6 42.8zM333.3 46.7zM306.8 70.1zM300.6 61.6zM296.4 61.5zM313.3 45.0zM332.8 50.7zM303.0 66.3zM327.5 39.4zM326.8 63.8zM309.1 81.3zM306.7 73.7zM304.9 72.2zM312.6 43.7zM334.8 58.8z" stroke="#000" stroke-width=".85" stroke-linecap="round" stroke-linejoin="round" fill="none"/>
<g font-family="Liberation Sans, sans-serif" font-size="2.7" fill="#555">
<text x="280.6" y="98.2" text-anchor="middle">0</text>
<rect x="280.45" y="93.3" width=".3" height="1" fill="#888" stroke="none"/>
<text x="298.9" y="98.2" text-anchor="middle">2</text>
<rect x="298.75" y="93.3" width=".3" height="1" fill="#888" stroke="none"/>
<text x="317.3" y="98.2" text-anchor="middle">4</text>
<rect x="317.15" y="93.3" width=".3" height="1" fill="#888" stroke="none"/>
<text x="335.6" y="98.2" text-anchor="middle">6</text>
<rect x="335.45" y="93.3" width=".3" height="1" fill="#888" stroke="none"/>
<text x="274.5" y="91.6" text-anchor="end">0</text>
<rect x="276.9" y="90.45" width="1" height=".3" fill="#888" stroke="none"/>
<text x="274.5" y="81.3" text-anchor="end">1</text>
<rect x="276.9" y="80.15" width="1" height=".3" fill="#888" stroke="none"/>
<text x="274.5" y="71.0" text-anchor="end">2</text>
<rect x="276.9" y="69.85" width="1" height=".3" fill="#888" stroke="none"/>
<text x="274.5" y="60.8" text-anchor="end">3</text>
<rect x="276.9" y="59.65" width="1" height=".3" fill="#888" stroke="none"/>
<text x="274.5" y="50.5" text-anchor="end">4</text>
<rect x="276.9" y="49.35" width="1" height=".3" fill="#888" stroke="none"/>
<text x="274.5" y="40.2" text-anchor="end">5</text>
<rect x="276.9" y="39.05" width="1" height=".3" fill="#888" stroke="none"/>
<text x="274.5" y="29.9" text-anchor="end">6</text>
<rect x="276.9" y="28.75" width="1" height=".3" fill="#888" stroke="none"/>
<text x="281.8" y="28.1" font-size="3.3" fill="#111">P&lt;0.01</text>
<text x="281.8" y="32.5" font-size="3.3" fill="#111">R = 0.51</text>
</g>
<text x="300.3" y="104.4" textLength="28.6" lengthAdjust="spacingAndGlyphs" font-family="Liberation Sans, sans-serif" font-size="3.95" fill="#222" stroke="#222" stroke-width=".1">log2(stk38 TPM)</text>
<text transform="translate(268.2 78.7) rotate(-90)" textLength="35" lengthAdjust="spacingAndGlyphs" font-family="Liberation Sans, sans-serif" font-size="3.95" fill="#222" stroke-width=".1" stroke="#222">log2(<tspan fill="#e8332a" stroke="#e8332a">PKN2</tspan> TPM)</text>
<rect x="371.5" y="23.4" width="73.0" height="69.9" fill="#fff" stroke="#c4c4c4" stroke-width=".5"/>
<ellipse cx="411.5" cy="51.3" rx="17.2" ry="8.2" transform="rotate(-25 411.5 51.3)" fill="#000"/>
<path d="M392.9 59.6zM394.8 56.9zM426.8 39.7zM402.6 62.8zM391.4 60.1zM388.4 54.0zM390.8 58.4zM421.2 40.3zM390.9 54.1zM424.9 38.2zM378.9 58.6zM426.4 42.9zM422.1 39.1zM389.7 55.8zM420.6 39.6zM427.2 40.1zM400.3 65.6zM430.0 44.6zM427.0 47.6zM408.8 40.6zM395.3 61.8zM397.6 48.8zM424.1 53.4zM425.9 55.0zM417.7 57.9zM422.0 55.7zM399.0 48.7zM400.4 45.2zM415.4 60.3zM416.6 57.7zM429.4 49.8zM421.0 39.4zM415.8 60.2zM411.0 40.3zM400.9 45.7zM426.5 50.4zM402.2 63.3zM426.6 47.1zM422.7 60.9zM412.1 59.6zM408.5 61.1zM426.6 55.6zM415.2 36.5zM422.3 34.9zM424.0 40.9zM410.5 41.7zM427.3 43.3zM382.4 53.2zM419.3 61.3zM408.5 38.0zM397.3 49.7zM419.3 39.5zM429.2 44.3zM416.5 39.2zM418.0 39.6zM415.1 59.9zM396.0 60.2zM399.8 60.7zM409.2 43.0zM435.1 56.7zM434.0 48.8zM413.7 60.2zM395.8 60.2zM416.6 41.7zM433.3 40.8zM398.6 60.5zM434.7 48.6zM428.5 54.0zM427.1 46.2zM397.7 52.2zM398.7 61.5zM415.2 41.8zM400.2 44.8zM394.8 43.6zM417.2 40.9zM413.9 41.9zM403.0 45.8zM398.7 68.6zM432.4 43.1zM398.9 60.4zM418.0 56.8zM394.9 59.9zM407.6 43.1zM399.6 45.5zM426.5 52.1zM393.4 55.2zM423.5 41.8zM431.6 43.8zM420.4 57.0zM415.2 63.4zM417.8 59.2zM399.7 49.3zM379.0 59.5zM393.2 58.9zM409.3 42.6zM413.6 42.0zM428.2 50.1zM407.2 40.0zM431.2 44.5zM391.1 68.5zM407.1 40.8zM428.2 46.7zM396.9 62.3zM402.9 64.7zM417.3 41.4zM402.9 61.4zM429.6 43.3zM415.9 58.4zM396.6 50.4zM405.9 42.8zM432.4 39.9zM400.3 61.6zM403.0 66.1zM414.8 63.2zM432.3 40.7zM414.1 40.0zM416.2 61.4zM427.2 48.3zM397.7 60.1zM419.2 41.4zM425.7 60.1zM430.1 46.2zM427.9 63.3zM422.1 33.0zM401.8 64.6zM422.3 54.3zM414.7 41.7zM395.5 56.8zM410.9 60.9zM424.4 40.8zM422.0 40.6zM391.5 57.4zM405.8 42.6zM397.6 60.0zM428.0 38.4zM419.3 56.2zM395.6 50.9zM420.1 40.3zM426.2 42.3zM431.4 40.6zM393.6 68.8zM414.8 41.4zM399.6 62.9zM399.5 46.5zM400.2 68.6zM396.8 64.0zM420.1 57.2zM395.5 51.1zM421.1 57.5zM432.1 45.3zM425.4 52.2zM413.6 60.3zM419.9 56.9zM431.0 36.6zM405.2 44.5zM410.9 62.5zM410.3 63.0zM427.8 50.5zM420.6 65.6zM395.9 55.7zM428.6 42.4zM393.9 62.9zM428.1 51.1zM395.6 50.6zM417.3 60.0zM411.6 59.8zM413.8 58.9zM421.4 57.9zM389.9 56.8zM420.8 38.2zM425.5 42.9zM423.4 54.0zM414.7 59.1zM399.1 64.9zM396.4 53.1zM407.7 61.3zM430.8 44.7zM394.7 57.1zM403.6 44.1zM398.6 50.2zM428.8 47.3zM393.4 62.3zM423.5 52.6zM427.7 44.9zM416.3 39.2zM430.3 35.9zM410.8 60.6zM425.9 39.2zM395.3 55.3zM400.4 47.8zM420.7 55.0zM409.8 26.8zM425.8 49.3zM427.9 47.8zM408.1 43.9zM422.3 40.5zM431.9 45.4zM425.4 38.9zM394.3 57.8zM394.4 54.2zM419.5 57.0zM418.6 56.4zM423.0 37.1zM413.8 59.9zM402.1 40.8zM433.3 44.5zM417.0 41.6zM394.4 53.5zM425.2 42.9zM387.9 53.1zM419.3 41.2zM432.1 49.0zM394.1 57.2zM392.6 54.1zM394.5 52.7zM420.8 58.3zM385.6 57.7zM420.1 56.4zM415.0 60.0zM430.1 45.8zM395.3 54.6zM430.6 45.0zM420.0 41.4zM427.1 48.1zM401.7 45.9zM393.5 55.4zM393.3 60.3zM425.9 55.0zM425.2 50.7zM417.9 41.3zM401.2 64.9zM425.3 51.8zM429.8 37.2zM437.6 46.5zM384.1 52.4zM418.9 56.9zM413.3 39.6zM412.0 59.6zM430.1 43.5zM423.0 52.9zM399.6 47.0zM417.1 59.3zM402.5 63.3zM384.6 52.7zM396.7 47.9zM398.3 48.2zM386.3 57.5zM423.0 41.6zM434.7 47.2zM398.0 50.6zM425.8 41.4zM408.5 60.8zM413.3 40.2zM432.9 62.3zM402.5 46.8zM394.4 63.8zM410.2 64.6zM408.8 62.0zM421.2 41.3zM402.4 43.8zM396.1 48.3zM398.6 63.8zM430.1 41.0zM405.8 62.2zM421.7 40.3zM396.2 56.9zM415.4 62.5zM409.4 63.9zM391.8 59.4zM427.8 47.3zM397.2 52.2zM426.1 54.4zM430.2 39.7zM401.7 61.4zM415.1 39.7zM429.0 46.9zM430.6 38.3zM409.8 43.2zM428.9 41.8zM392.2 51.8zM395.1 50.7zM382.2 69.4zM435.9 41.8zM427.1 49.5zM431.7 43.4zM401.8 39.3zM396.1 53.4zM403.9 63.3zM428.6 47.4zM432.6 43.5zM415.9 41.3zM427.7 45.6zM421.1 55.7zM417.1 40.9zM391.2 57.9zM403.2 67.6zM425.6 40.6zM429.2 44.5zM426.6 41.8zM398.1 51.2zM399.6 61.9zM423.3 54.4zM423.6 52.3zM420.7 55.5zM396.8 48.7zM397.8 45.2zM403.7 42.8zM422.3 53.9zM436.2 39.8zM418.7 57.4zM432.7 43.7zM426.6 47.3zM395.8 57.7zM423.6 41.3zM393.9 56.6zM403.4 46.0zM408.8 61.4zM397.1 48.4zM398.2 51.5zM427.4 43.2zM429.1 45.7zM398.9 64.0zM408.7 60.6zM391.4 63.9zM426.9 50.5zM431.1 47.4zM393.4 56.2zM396.1 65.0zM408.5 41.5zM402.2 67.0zM416.6 62.1zM410.9 40.8zM419.6 40.3zM420.6 56.9zM426.6 51.9zM401.7 62.3zM421.8 36.6zM381.9 68.1zM425.0 55.2zM410.0 69.1zM401.0 48.0zM415.2 41.2zM407.0 44.1zM402.0 47.2zM407.9 62.1zM400.5 48.8zM399.1 45.9zM416.3 60.7zM427.7 50.7zM390.0 50.7zM402.1 45.8zM419.1 35.0zM397.6 62.2zM438.5 43.7zM421.4 57.9zM403.3 61.3zM394.5 46.3zM395.1 58.0zM392.5 59.5zM390.4 59.4zM428.9 51.2zM396.7 62.4zM415.2 39.6zM426.1 43.8zM406.3 41.9zM417.4 57.2zM395.1 53.2zM426.8 43.0zM422.4 54.4zM421.4 56.3zM433.6 54.2zM430.4 38.3zM423.2 38.5zM402.8 44.8zM408.1 65.8zM385.7 61.5zM396.3 56.1zM404.6 63.9zM395.0 48.6zM405.2 42.2zM429.1 48.4zM413.7 68.7zM396.3 59.9zM424.2 40.0zM410.6 42.4zM397.0 50.7zM417.3 35.2zM410.9 40.0zM428.0 47.1zM427.3 46.2zM399.1 47.0zM426.9 52.4zM427.7 52.7zM420.0 39.8zM398.5 40.4zM398.7 49.5zM400.6 64.1zM401.0 62.6zM395.9 52.3zM427.9 41.3zM423.0 57.2zM403.6 64.4zM410.0 60.2zM406.2 43.4zM396.4 62.0zM426.1 52.2zM421.5 57.3zM410.8 41.8zM395.5 53.1zM419.5 56.2zM427.7 56.2zM425.9 52.6zM433.3 46.8zM396.5 59.7zM399.1 42.1zM425.8 50.0zM411.8 41.0zM407.7 42.5zM415.7 60.7zM392.7 58.0zM403.4 40.4zM408.4 43.6zM425.0 41.9zM429.1 47.6zM416.7 57.9zM423.3 40.7zM412.0 61.8zM416.0 41.2zM428.0 48.7zM422.9 56.1zM429.3 53.8zM392.0 58.8zM390.8 53.7zM407.6 65.0zM417.7 57.0zM402.2 42.5zM395.6 56.1zM396.3 55.9zM409.6 43.3zM420.3 55.5zM421.6 61.0zM424.5 52.9zM421.9 58.6zM388.4 62.9zM393.5 47.5zM433.1 44.0zM393.7 53.8zM398.3 46.0zM388.5 60.3zM395.1 52.8zM430.7 44.8zM418.0 36.7zM412.9 41.8zM393.3 54.2zM404.1 43.9zM427.0 48.5zM393.7 64.0zM416.2 58.5zM403.1 66.2zM421.3 55.5zM414.1 41.9zM409.1 61.8zM418.3 41.2zM406.3 63.2zM434.6 53.5zM406.6 44.1zM405.1 43.7zM410.5 61.6zM427.0 48.1zM387.2 60.1zM407.7 44.2zM414.8 41.8zM399.1 60.4zM418.4 36.2zM408.3 62.5zM429.1 46.2zM411.2 36.7zM431.3 45.3zM398.6 62.5zM392.1 62.1zM406.0 35.9zM401.0 47.2zM403.9 45.1zM426.5 52.3zM398.0 51.7zM402.5 47.5zM392.2 61.6zM404.5 45.9zM410.7 41.2zM408.8 43.7zM412.2 62.8zM406.3 61.8zM415.6 40.8zM425.9 49.3zM421.8 57.1zM396.7 59.2zM418.6 57.9zM396.7 60.3zM425.4 55.1zM407.7 61.0zM395.0 77.3zM405.7 41.3zM430.6 46.0zM421.9 55.1zM388.3 55.5zM402.5 64.5zM433.6 42.0zM411.5 60.4zM388.8 53.2zM408.1 60.6zM437.2 40.9zM432.8 51.8zM411.2 64.1zM393.5 53.0zM401.0 45.7zM422.4 38.2zM429.3 42.4zM425.4 54.3zM383.7 59.6zM399.6 49.9zM426.4 50.5zM403.7 70.4zM390.6 59.7zM427.4 51.8zM396.7 52.4zM414.9 58.9zM423.6 61.6zM398.5 63.7zM422.2 35.7zM420.6 56.9zM390.9 61.1zM393.4 65.6zM412.2 61.5zM410.8 41.6zM396.4 59.0zM411.3 42.9zM421.6 57.5zM428.1 52.3zM427.5 47.4zM426.5 43.0zM394.6 56.3zM420.4 55.1zM426.0 41.2zM397.5 49.9zM395.9 61.8zM389.8 61.5zM420.2 38.5zM423.7 38.4zM412.1 39.7zM423.2 54.3zM405.2 45.8zM406.0 62.3zM421.0 40.9zM396.1 53.6zM393.4 64.9zM396.1 58.1zM392.5 50.7zM427.3 48.6zM427.3 51.4zM414.0 59.6zM423.5 41.1zM427.0 50.3zM392.1 52.4zM400.9 74.4zM429.3 44.5zM428.0 49.5zM399.6 49.0zM415.9 58.6zM400.0 48.2zM393.7 60.4zM393.5 52.7zM412.6 59.5zM397.9 66.1zM406.2 62.5zM421.4 57.5zM429.0 44.1zM407.7 43.9zM426.9 54.1zM421.3 58.5zM416.4 57.7zM415.9 36.6zM395.7 50.0zM426.2 41.7zM420.6 55.2zM429.2 48.4zM425.6 43.0zM404.5 44.2zM403.3 63.0zM405.6 63.3zM401.5 65.5zM396.0 54.8zM425.0 51.5zM416.2 41.1zM426.0 39.7zM394.9 50.8zM402.9 61.9zM396.3 54.3zM398.7 48.2zM419.9 55.9zM403.2 63.4zM396.3 58.7zM427.1 46.0zM414.8 40.5zM406.8 62.3zM415.2 39.7zM426.8 48.6zM407.0 44.5zM423.6 54.3zM423.9 56.3zM427.6 42.5zM417.3 59.7zM396.4 59.2zM431.7 43.3zM397.7 60.3zM388.9 60.6zM394.2 51.8zM389.8 44.8zM425.7 40.5zM394.7 55.0zM408.4 61.0zM410.4 39.8zM399.8 48.3zM395.1 61.5zM426.3 41.4zM410.3 61.7zM420.1 41.0zM410.4 40.9zM423.9 39.7zM428.7 45.0zM395.6 57.0zM427.6 45.4zM429.2 46.8zM395.0 52.9zM430.1 40.3zM404.3 67.0zM420.8 54.9zM419.2 55.9zM426.1 48.6zM429.8 45.7zM399.9 63.7zM393.1 59.9zM405.2 62.0zM413.2 59.8zM396.4 54.1zM425.4 52.3zM403.3 43.9zM412.9 59.4zM407.1 42.3zM396.3 50.7zM438.7 46.9zM425.3 37.4zM408.8 41.9zM404.6 45.1zM427.4 50.7zM400.8 48.6zM395.8 48.0zM423.3 56.0zM396.1 61.6zM427.0 45.5zM425.1 37.5zM395.3 54.6zM416.5 40.6zM424.2 38.4zM397.1 61.2zM423.3 59.6zM398.0 62.1zM413.3 40.0zM393.6 55.2zM406.7 44.2zM387.2 54.7zM398.4 65.7zM417.3 35.5zM427.7 36.6zM415.7 37.3zM407.3 43.4zM391.5 42.4zM421.8 34.7zM400.2 62.6zM423.1 55.6zM429.8 42.7zM400.7 46.3zM411.2 43.0zM417.5 39.6zM404.7 61.7zM401.9 45.6zM433.5 55.2zM402.7 62.5zM424.9 52.3zM399.6 49.2zM402.8 66.0zM409.0 64.7zM384.1 48.7zM396.0 59.0zM397.7 62.5zM400.1 45.9zM395.5 57.4zM396.9 60.6zM405.2 61.3zM400.1 49.5zM395.1 58.0zM387.9 61.7zM400.7 61.3zM402.6 62.4zM389.5 65.3zM383.6 59.9zM414.2 59.6zM391.7 53.5zM406.8 44.9zM399.6 46.9zM396.5 50.0zM407.4 40.4zM422.8 39.6zM416.5 39.6zM410.2 67.4zM408.9 61.4zM404.4 42.3zM406.7 42.7zM412.7 41.4zM408.2 62.4zM398.0 48.9zM398.0 61.5zM413.4 59.0zM425.0 36.9zM426.6 43.8zM404.1 43.0zM417.7 57.3zM392.7 48.8zM432.0 42.6zM400.2 66.3zM395.3 58.5zM429.7 41.3zM425.2 41.6zM396.6 64.5zM386.3 71.5zM393.4 57.8zM424.8 39.7zM417.7 37.5zM402.4 44.3zM422.0 41.1zM432.6 51.9zM408.5 62.4zM413.4 63.2zM392.5 58.2zM393.4 61.0zM408.9 61.1zM399.4 50.4zM393.9 52.5zM391.7 68.8zM391.4 59.6zM409.4 66.0zM427.2 41.9zM420.5 38.7zM413.2 62.6zM434.7 55.0zM399.2 67.3zM394.1 57.0zM420.7 54.9zM390.2 65.4zM417.1 57.4zM412.2 60.7zM422.4 34.8zM389.0 67.4zM394.2 56.3zM394.7 58.6zM409.8 41.3zM404.1 39.6zM400.7 61.4zM414.9 41.6zM426.2 50.6zM402.2 63.4zM389.2 62.2zM425.0 41.2zM400.6 48.6zM394.4 54.5zM402.7 61.4zM399.6 65.7zM389.3 57.0zM414.7 39.9zM425.1 52.0zM398.9 49.6zM396.9 48.4zM406.3 64.6zM432.3 50.4zM402.0 65.5zM399.1 48.8zM422.9 40.1zM399.0 62.4zM394.7 57.2zM432.3 50.8zM388.4 60.0zM393.5 63.6zM422.1 37.0zM420.2 41.3zM394.6 44.4zM400.5 61.2zM399.8 61.7zM429.2 49.3zM394.2 47.3zM388.9 54.9zM400.0 62.8zM395.1 59.7zM431.9 44.5zM425.7 57.0zM406.4 66.5zM407.4 63.7zM389.0 59.1zM412.1 59.9zM387.2 60.1zM401.5 44.5zM426.9 50.4zM409.3 42.8zM420.6 57.3zM427.3 43.9zM400.8 46.8zM412.4 60.8zM401.1 66.0zM397.1 62.6zM387.0 60.0zM425.3 41.8zM397.7 52.2zM407.3 42.7zM392.9 57.1zM413.5 59.9zM419.0 38.8zM399.9 48.7zM421.5 38.9zM408.4 61.3zM410.8 59.9zM417.2 57.1zM428.6 43.5zM417.0 57.4zM416.6 40.5zM419.5 39.2zM415.0 41.4zM393.7 64.3zM418.0 39.3zM405.4 44.0zM417.7 40.2zM416.8 58.7zM403.3 45.2zM394.6 60.6zM391.0 57.2zM411.4 42.5zM430.3 42.2zM396.6 61.0zM425.7 43.5zM428.6 51.5zM430.8 46.0zM396.1 63.5zM426.6 51.5zM419.4 59.5zM405.5 67.1zM427.9 45.4zM427.8 39.6zM427.5 54.6zM424.4 40.6zM409.5 43.5zM423.5 53.1zM436.1 34.9zM427.8 51.3zM423.3 40.4zM423.7 52.2zM425.7 54.2zM403.1 39.1zM409.7 42.8zM401.7 64.1zM420.9 57.8zM399.1 62.0zM420.8 31.2zM396.1 57.2zM391.8 49.6zM396.9 60.2zM403.3 46.7zM383.4 56.7zM400.7 45.8zM427.6 41.6zM397.2 62.8zM424.9 42.0zM385.9 59.4zM415.6 41.7zM424.0 56.8zM410.0 78.5zM389.8 62.9zM425.6 34.2zM396.1 53.6zM393.9 53.5zM395.1 58.3zM427.3 39.1zM409.2 72.3zM394.6 58.6zM415.2 58.3zM428.5 49.0zM429.1 40.3zM412.6 64.4zM431.3 43.0zM395.6 61.3zM415.8 40.3zM406.7 42.6zM433.4 43.2zM431.1 40.5zM427.8 45.2zM426.5 43.0zM404.6 44.5zM397.4 48.1zM424.8 52.8zM401.3 44.5zM400.5 63.1zM426.9 42.6zM395.7 61.6zM405.7 42.3zM399.4 30.3zM406.0 44.1zM424.3 56.4zM397.1 50.6zM393.2 51.2zM413.4 69.7zM421.5 54.3zM394.4 54.5zM425.5 40.5zM396.3 52.2zM425.3 35.6zM401.8 47.9zM434.5 48.3zM396.1 60.7zM393.5 54.6zM422.6 55.6zM411.7 59.8zM417.3 57.1zM404.5 62.5zM405.2 61.9zM395.9 54.5zM399.2 49.7zM396.8 48.7zM393.9 56.0zM428.3 47.7zM394.7 57.1zM402.6 44.7zM396.8 49.2zM404.3 45.4zM424.7 57.3zM372.6 72.5zM401.9 62.7zM398.7 64.7zM414.9 58.8zM430.5 50.8zM396.9 59.0zM417.0 58.3zM403.5 66.1zM427.2 49.2zM406.7 61.9zM408.6 43.1zM403.6 61.4zM426.8 46.6zM424.7 51.9zM420.3 55.4zM404.6 66.5zM417.7 41.2zM394.0 54.6zM406.2 43.6zM414.8 61.2zM429.7 44.2zM418.3 59.0zM392.0 62.1zM408.6 39.0zM416.7 38.6zM386.0 67.3zM431.2 46.3zM425.6 53.8zM425.5 50.2zM421.6 39.2zM400.7 62.4zM397.1 59.9zM397.8 65.0zM421.1 41.5zM406.8 64.6zM422.4 56.4zM386.4 56.1zM424.4 42.3zM412.7 63.5zM398.1 51.7zM426.5 47.2zM393.0 58.0zM430.6 44.8zM427.4 47.0zM428.8 43.8zM409.2 43.3zM394.1 58.5zM428.5 45.2zM426.4 58.9zM396.0 56.4zM400.7 67.6zM399.0 47.6zM385.7 64.6zM423.9 57.8zM421.6 40.0zM409.5 42.0zM423.4 39.5zM395.8 51.1zM396.5 60.0zM401.1 44.6zM395.8 63.9zM399.1 50.1zM415.8 41.4zM415.4 40.8zM389.9 60.4zM393.7 57.9zM425.0 41.1zM427.9 38.1zM417.7 57.9zM426.0 38.0zM442.7 38.5zM393.6 58.3zM412.1 42.7zM427.3 38.5zM399.2 70.6zM393.4 62.0zM427.6 39.9zM401.1 61.8zM397.2 60.3zM422.5 55.0zM406.0 63.5zM399.0 50.0zM424.1 40.1zM407.0 61.1zM395.8 67.4zM418.6 58.9zM424.7 53.4zM392.4 56.0zM399.6 36.5zM432.7 43.8zM411.8 38.5zM401.9 62.8zM392.8 57.2zM418.9 40.8zM431.9 42.6zM392.5 60.2zM429.3 43.5zM428.5 39.5zM395.5 61.4zM386.0 52.6zM395.4 57.9zM433.0 50.7zM410.1 60.5zM382.5 60.5zM402.5 47.2zM408.1 61.6zM395.3 47.8zM401.4 38.2zM415.0 60.6zM425.3 37.6zM427.7 52.3zM413.8 64.7zM423.1 56.4zM390.7 47.5zM395.4 61.0zM405.0 44.4zM412.9 40.7zM397.5 48.8zM433.4 41.8zM388.5 54.3zM397.8 63.0zM419.4 38.2zM396.0 62.7zM394.2 57.4zM421.9 38.7zM404.3 43.8zM395.4 51.3zM409.4 42.7zM402.3 47.4zM400.7 62.1zM413.3 39.4zM402.1 41.4zM398.9 69.5zM397.3 60.3zM400.5 44.7zM429.9 46.1zM393.7 68.3zM415.2 58.6zM414.4 39.6zM402.6 47.4zM389.9 58.3zM395.7 58.6zM429.0 47.5zM419.6 41.3zM399.0 40.5zM434.2 42.4zM399.1 61.7zM389.3 81.4zM417.0 60.8zM392.9 59.0zM405.9 44.0zM393.3 64.2zM390.8 66.7zM396.0 58.2zM401.6 69.1zM398.2 51.2zM396.9 45.6zM425.5 39.8zM412.9 62.7zM428.3 40.5zM428.1 46.0zM425.3 41.5zM401.3 62.7zM428.0 43.5zM426.9 49.9zM433.5 46.3zM424.5 42.5zM428.2 47.0zM404.9 63.6zM436.1 26.8zM431.3 44.4zM413.8 63.3zM403.9 62.3zM396.9 59.7zM411.7 38.5zM427.8 44.0zM396.2 61.0zM395.3 53.7zM411.4 64.1zM396.7 52.7zM410.7 41.6zM395.0 58.3zM387.1 67.6zM425.9 41.9zM400.8 40.5zM393.0 55.3zM396.3 54.0zM401.5 69.0zM377.4 61.9zM422.5 56.6zM396.5 54.9zM398.4 51.4zM405.0 46.0zM403.3 63.7zM416.6 41.0zM405.7 62.0zM422.0 54.0zM433.3 44.1zM405.8 64.8zM399.7 47.4zM407.7 43.5zM427.7 44.7zM439.6 46.6zM423.3 40.2zM426.0 39.7zM388.4 51.1zM404.6 46.0zM400.0 48.6zM406.2 44.3zM425.4 55.5zM391.2 61.1zM387.3 56.5zM408.6 43.5zM395.5 55.9zM393.0 56.1zM398.9 62.1zM382.5 51.7zM392.0 59.1zM401.1 63.6zM396.1 62.0zM398.5 51.0zM404.8 61.9zM418.0 38.2zM420.0 40.3zM435.1 39.8zM428.8 49.0zM397.3 60.6zM403.7 44.0zM418.3 57.6zM395.3 55.5zM400.3 64.9zM400.0 65.4zM425.7 49.6zM421.1 55.2zM428.1 40.5zM394.7 56.3zM395.9 58.2zM433.3 47.0zM423.4 39.9zM422.0 56.5zM396.6 50.6zM408.3 43.4zM380.1 67.6zM392.1 66.7zM426.1 43.4zM408.2 37.5zM407.6 43.3zM401.5 62.0zM397.0 58.7zM414.9 41.0zM421.6 37.5zM379.7 63.3zM425.7 49.6zM396.9 53.3zM426.7 46.4zM406.1 43.3zM401.8 46.1zM402.6 42.0zM424.3 35.7zM405.8 42.0zM393.4 50.8zM429.9 44.3zM409.0 42.7zM426.0 41.4zM405.5 61.9zM405.5 61.3zM419.7 38.8zM386.1 72.2zM428.0 38.9zM406.0 43.5zM427.4 54.0zM396.2 56.1zM432.4 44.0zM409.5 42.6zM427.3 46.1zM398.5 65.5zM427.8 51.1zM402.4 44.2zM407.7 66.7zM397.5 49.7zM397.1 65.4zM423.4 41.9zM383.3 59.8zM395.8 48.3zM433.4 35.7zM407.4 64.4zM406.8 61.8zM407.7 44.3zM408.3 61.5zM399.7 62.3zM397.1 62.7zM396.2 62.0zM428.7 40.5zM417.3 58.9zM402.4 47.2zM415.4 39.6zM425.4 50.0zM424.7 37.2zM395.5 56.0zM405.7 45.1zM399.0 47.3zM404.3 66.3zM423.3 53.0zM399.4 48.8zM423.0 35.0zM407.6 67.0zM422.5 55.0zM391.5 56.8zM401.8 46.2zM397.3 61.1zM405.7 65.2zM406.6 61.1zM397.6 61.7zM390.2 56.2zM410.9 60.7zM400.3 62.3zM394.9 56.0zM395.4 55.4zM399.5 47.3zM399.6 61.4zM427.4 43.4zM397.8 51.9zM403.8 62.6zM428.0 51.0zM415.0 36.9zM402.9 46.9zM395.6 56.1zM423.4 55.5zM392.1 51.1zM429.8 54.9zM418.7 41.0zM415.4 59.6zM411.4 60.0zM404.7 45.8zM414.5 39.7zM413.4 41.1zM406.9 61.1zM426.2 56.1zM414.8 41.7zM391.8 56.7zM407.1 61.9zM396.2 48.8zM422.4 39.3zM418.1 34.0zM383.5 58.7zM386.5 59.8zM424.4 42.0zM398.4 60.9zM424.1 52.4zM394.8 48.2zM408.4 64.0zM420.1 55.9zM427.1 47.0zM397.7 63.0zM395.2 58.4zM394.1 51.0zM394.3 62.4zM394.3 61.4zM404.3 62.1zM425.9 43.7zM396.0 61.1zM403.0 44.3zM401.3 42.2zM429.9 43.7zM425.1 41.3zM428.0 37.5zM396.1 63.0zM398.0 50.3zM395.8 58.4zM407.8 60.7zM396.4 49.7zM430.2 44.9zM429.7 46.4zM392.6 57.6zM396.6 66.0zM432.5 46.5zM425.0 33.7zM419.8 60.0zM395.0 50.3zM392.5 60.3zM402.0 62.9zM403.9 42.8zM412.1 40.4zM420.3 40.1zM414.8 59.7zM382.4 62.4zM421.2 59.9zM418.2 57.8zM401.3 48.5zM423.8 57.8zM388.0 52.8zM419.8 38.9zM430.3 41.8zM412.9 40.4zM394.8 51.1zM420.8 38.8zM428.5 37.8zM390.0 50.9zM401.7 48.1zM395.1 62.2zM426.7 51.7zM420.9 40.3zM422.2 38.7zM436.3 44.4zM396.0 66.3zM404.9 64.1zM406.5 64.0zM431.3 42.9zM418.7 41.4zM413.9 61.3zM430.9 39.8zM397.8 51.6zM418.1 57.1zM399.3 62.1zM394.5 57.5zM393.8 56.8zM408.9 67.0zM396.2 58.4zM421.7 54.4zM389.8 65.3zM417.5 58.0zM410.3 43.1zM417.8 57.7zM427.8 43.8zM426.1 57.9zM399.8 47.6zM414.7 58.6zM428.7 33.0zM415.0 39.0zM428.6 37.1zM431.5 50.1zM420.3 40.5zM400.6 64.7zM396.3 56.8zM397.5 48.3zM397.2 63.7zM422.5 54.2zM405.0 63.1zM399.8 49.1zM402.8 46.7zM395.6 55.7zM421.0 54.6zM410.7 60.7zM419.0 56.2zM405.6 45.4zM426.9 38.2zM399.1 74.7zM416.0 63.7zM406.9 41.2zM397.0 63.3zM434.4 40.6zM385.9 58.7zM399.0 45.4zM398.8 45.6zM417.4 57.0zM429.1 54.8zM417.8 60.2zM427.2 37.5zM395.4 61.9zM393.3 65.8zM412.5 40.4zM414.1 40.2zM399.7 47.1zM396.3 61.7zM405.6 61.2zM391.8 59.7zM401.9 66.1zM419.6 39.4zM419.1 57.2zM428.3 53.8zM385.6 62.4zM402.1 46.3zM427.4 53.7zM414.2 58.8zM390.3 57.7zM399.3 61.9zM428.8 44.8zM392.2 50.9zM416.5 40.0zM393.8 56.4zM430.5 41.5zM400.1 62.1zM385.5 56.7zM429.2 50.2zM411.8 42.6zM413.6 41.8zM430.2 42.1zM399.0 47.2zM435.6 44.8zM414.1 58.8zM417.0 57.7zM408.4 37.1zM405.9 43.1zM416.4 34.5zM431.9 41.4zM412.7 61.3zM392.5 51.8zM411.4 39.4zM396.9 53.0zM438.4 50.3zM427.7 43.3zM414.8 38.8zM400.4 44.5zM430.4 49.3zM422.8 53.4zM401.0 48.4zM408.5 40.8zM428.5 39.3zM409.4 41.0zM387.4 60.0zM430.3 43.9zM427.9 35.5zM410.7 64.3zM420.0 36.1zM393.3 56.2zM434.4 43.9zM396.0 60.6zM413.7 40.8zM398.5 64.2zM399.6 69.5zM402.5 45.2zM421.4 41.5zM386.1 69.0zM423.3 41.6zM396.0 50.2zM417.2 57.3zM398.3 51.2zM397.7 50.2zM408.8 43.3zM395.2 51.9zM380.2 67.6zM390.8 53.5zM411.8 60.7zM420.7 40.6zM435.9 35.0zM403.3 64.4zM391.3 56.2zM404.7 42.0zM431.1 48.8zM393.8 53.4zM392.4 66.0zM393.3 60.6zM386.2 55.8zM423.6 57.2zM425.7 37.0zM396.0 58.1zM392.0 46.6zM422.6 39.1zM422.4 41.2zM389.3 51.3zM432.0 43.4zM430.5 44.2zM408.3 37.9zM412.2 61.2zM392.0 50.7zM412.7 41.9zM415.8 37.4zM395.7 63.6zM424.2 40.6zM416.9 63.4zM396.6 53.0zM392.2 66.8zM429.7 50.6zM395.7 46.6zM409.4 62.4zM429.0 41.8zM421.2 36.4zM407.4 44.0zM394.0 64.0zM400.2 47.4zM393.0 58.4zM409.2 37.3zM430.1 55.2zM393.0 58.6zM408.7 62.0zM426.8 41.0zM433.6 46.4zM430.0 52.1zM399.1 50.2zM416.6 60.3zM392.8 55.3zM399.2 47.6zM408.0 39.3zM397.4 59.8zM425.3 57.1zM434.6 48.1zM398.2 48.8zM428.0 45.9zM394.2 63.3zM405.5 61.4zM396.7 51.1zM416.8 64.5zM412.7 40.9zM433.0 46.0zM433.6 44.2zM404.5 62.2zM429.1 46.2zM387.5 51.9zM428.4 42.3zM399.5 61.9zM429.6 50.0zM425.9 42.2zM394.8 61.4zM419.5 40.5zM386.6 67.4zM389.4 62.9zM428.4 47.9zM400.9 48.2zM395.2 60.0zM405.3 63.9zM401.3 62.2zM399.1 61.0zM389.5 57.8zM401.1 48.3zM427.1 40.3zM426.1 43.6zM427.5 46.9zM396.0 57.4zM394.3 52.3zM423.3 34.8zM409.4 61.9zM409.1 65.1zM395.7 66.0zM396.5 52.8zM415.7 40.3zM424.3 39.6zM385.4 61.7zM391.7 53.5zM396.4 64.0zM416.2 36.6zM426.1 44.1zM386.8 68.6zM400.5 61.2zM422.6 54.8zM406.9 74.0zM405.9 43.9zM404.3 63.8zM426.5 52.8zM391.5 64.1zM426.8 53.7zM428.6 49.6zM420.3 55.8zM427.8 40.6zM394.8 55.3zM407.7 61.0zM397.4 63.4zM406.4 62.0zM428.0 42.9zM418.9 36.3zM396.0 61.2zM426.6 53.9zM400.8 48.6zM408.6 43.3zM422.2 56.2zM416.6 58.9zM422.3 54.4zM391.7 43.5zM397.6 51.6zM427.6 51.1zM426.9 48.7zM431.4 39.1zM419.1 61.6zM427.1 48.2zM419.9 38.5zM396.8 61.3zM426.8 41.0zM398.7 49.2zM394.2 54.0zM393.2 53.7zM386.2 68.0zM430.7 47.1zM401.8 61.9zM406.9 44.6zM397.4 38.1zM429.3 43.6zM383.1 46.1zM395.6 52.2zM404.4 62.6zM407.5 63.4zM426.7 50.8zM424.3 41.0zM427.3 41.6zM429.6 36.7zM428.5 43.3zM396.7 34.7zM400.8 45.3zM427.9 42.4zM393.7 60.6zM412.9 62.9zM433.2 36.8zM428.8 45.8zM414.0 60.0zM399.2 61.1zM425.2 42.9zM385.4 60.3zM403.7 61.9zM403.8 63.0zM392.0 59.9zM432.3 54.1zM415.4 60.5zM423.1 39.0zM429.2 41.4zM403.6 63.5zM395.1 54.6zM398.7 49.5zM422.8 53.9zM422.8 37.3zM405.9 40.4zM394.0 54.7zM423.3 40.8zM401.6 63.3zM385.7 63.1zM396.7 51.2zM432.3 40.4zM415.7 40.5zM410.2 41.8zM425.5 59.3zM409.6 41.7zM427.7 50.8zM398.1 60.7zM420.8 55.3zM409.4 41.0zM402.4 61.2zM395.2 63.2zM386.6 68.8zM399.8 46.3zM419.6 55.9zM420.3 41.0zM391.1 52.5zM398.3 46.9zM426.3 40.8zM404.0 61.4zM428.3 43.4zM401.5 61.9zM391.3 63.6zM403.1 45.6zM410.7 42.3zM394.9 58.0zM423.8 53.2zM432.1 51.2zM421.8 59.4zM404.6 61.5zM434.7 54.6zM415.6 41.1zM422.0 40.1zM418.3 56.6zM430.4 48.7zM402.8 46.2zM399.4 62.3zM389.5 64.7zM399.5 47.9zM424.9 40.9zM418.1 56.8zM425.3 36.5zM409.8 60.6zM389.9 56.1zM389.0 62.9zM407.4 44.5zM421.6 41.3zM415.6 61.3zM381.0 58.2zM402.5 45.7zM425.5 42.8z" stroke="#000" stroke-width=".85" stroke-linecap="round" stroke-linejoin="round" fill="none"/>
<g font-family="Liberation Sans, sans-serif" font-size="2.7" fill="#555">
<text x="374.3" y="98.2" text-anchor="middle">0</text>
<rect x="374.15" y="93.3" width=".3" height="1" fill="#888" stroke="none"/>
<text x="392.5" y="98.2" text-anchor="middle">2</text>
<rect x="392.35" y="93.3" width=".3" height="1" fill="#888" stroke="none"/>
<text x="410.8" y="98.2" text-anchor="middle">4</text>
<rect x="410.65" y="93.3" width=".3" height="1" fill="#888" stroke="none"/>
<text x="429.0" y="98.2" text-anchor="middle">6</text>
<rect x="428.85" y="93.3" width=".3" height="1" fill="#888" stroke="none"/>
<text x="368.1" y="90.9" text-anchor="end">0</text>
<rect x="370.5" y="89.75" width="1" height=".3" fill="#888" stroke="none"/>
<text x="368.1" y="75.1" text-anchor="end">2</text>
<rect x="370.5" y="73.95" width="1" height=".3" fill="#888" stroke="none"/>
<text x="368.1" y="59.2" text-anchor="end">4</text>
<rect x="370.5" y="58.05" width="1" height=".3" fill="#888" stroke="none"/>
<text x="368.1" y="43.4" text-anchor="end">6</text>
<rect x="370.5" y="42.25" width="1" height=".3" fill="#888" stroke="none"/>
<text x="368.1" y="27.6" text-anchor="end">8</text>
<rect x="370.5" y="26.45" width="1" height=".3" fill="#888" stroke="none"/>
<text x="375.4" y="28.0" font-size="3.3" fill="#111">P&lt;0.01</text>
<text x="375.4" y="32.4" font-size="3.3" fill="#111">R = 0.43</text>
</g>
<text x="393.7" y="104.1" textLength="28.6" lengthAdjust="spacingAndGlyphs" font-family="Liberation Sans, sans-serif" font-size="3.95" fill="#222" stroke="#222" stroke-width=".1">log2(stk38 TPM)</text>
<text transform="translate(361.6 77.8) rotate(-90)" textLength="35.6" lengthAdjust="spacingAndGlyphs" font-family="Liberation Sans, sans-serif" font-size="3.95" fill="#222" stroke-width=".1" stroke="#222">log2(<tspan fill="#e8332a" stroke="#e8332a">NUMB</tspan> TPM)</text>
<rect x="463.4" y="22.5" width="73.4" height="70.3" fill="#fff" stroke="#c4c4c4" stroke-width=".5"/>
<ellipse cx="505" cy="54" rx="18.8" ry="8.8" transform="rotate(-33 505 54)" fill="#000"/>
<path d="M500.5 44.5zM494.1 69.0zM514.1 59.1zM493.2 65.8zM522.7 51.3zM525.0 33.4zM526.9 39.1zM486.4 55.6zM509.6 42.3zM506.5 63.0zM511.5 61.9zM517.2 40.0zM487.2 60.3zM527.1 46.7zM506.8 62.8zM508.8 42.8zM516.6 36.9zM492.5 45.9zM517.4 55.2zM487.8 59.3zM492.7 50.5zM520.7 47.0zM489.2 56.1zM488.7 62.5zM522.0 45.1zM502.4 64.8zM521.5 37.4zM506.2 65.6zM487.9 65.9zM503.6 64.4zM486.6 56.2zM499.3 71.8zM523.0 37.9zM492.5 50.3zM493.2 73.3zM484.9 61.0zM517.9 53.6zM511.6 61.6zM489.1 60.3zM517.5 37.1zM509.1 38.2zM483.6 61.3zM526.9 42.5zM521.8 48.5zM521.3 44.4zM519.5 41.0zM493.9 66.1zM522.7 43.4zM506.0 63.1zM505.0 40.7zM525.6 49.0zM518.8 53.9zM492.5 52.6zM496.6 71.4zM507.6 38.2zM510.0 39.4zM485.3 62.9zM509.7 64.4zM506.8 64.1zM523.4 46.1zM510.1 42.0zM513.7 60.8zM482.6 63.8zM518.1 55.9zM518.8 42.1zM484.9 66.3zM491.0 73.0zM505.0 40.8zM516.9 55.3zM496.3 48.1zM487.2 59.7zM516.7 39.3zM491.0 46.8zM518.9 41.8zM519.4 43.5zM487.2 67.2zM521.9 51.1zM523.1 34.9zM493.9 46.3zM497.8 48.7zM480.4 62.4zM524.1 35.6zM488.3 68.4zM522.0 39.7zM489.2 62.4zM512.7 40.1zM499.7 46.6zM518.0 56.8zM531.3 43.4zM527.0 40.7zM509.5 40.0zM514.6 41.0zM487.6 64.8zM489.0 67.1zM523.0 50.3zM512.8 33.2zM519.4 55.1zM518.4 60.7zM514.5 58.6zM514.6 58.2zM503.9 71.0zM483.2 71.7zM499.8 66.1zM488.2 65.5zM528.5 39.0zM517.4 57.7zM489.0 62.5zM513.5 60.2zM518.8 54.9zM511.2 64.9zM519.4 54.8zM523.3 47.7zM517.7 59.8zM518.5 41.2zM489.9 53.3zM488.4 57.6zM493.1 65.9zM491.9 54.7zM494.0 45.5zM520.7 43.5zM483.8 65.9zM488.2 60.3zM504.0 66.1zM485.9 56.1zM503.9 67.9zM509.9 61.5zM494.1 51.8zM521.7 66.3zM515.5 65.8zM517.3 40.6zM485.6 69.6zM490.8 56.2zM511.2 63.5zM517.4 54.2zM492.8 67.5zM513.1 58.7zM489.8 56.1zM509.5 39.9zM521.8 44.5zM527.4 32.4zM515.7 56.4zM528.0 50.7zM508.0 42.9zM486.7 62.1zM510.3 65.0zM493.2 50.4zM501.8 42.9zM523.9 53.9zM497.1 70.9zM479.4 65.9zM487.4 68.0zM518.6 42.4zM502.7 67.9zM522.8 32.4zM508.7 42.9zM504.6 71.4zM488.6 52.1zM500.5 45.3zM505.9 44.0zM507.2 41.9zM495.3 67.3zM476.6 69.6zM513.6 36.7zM520.9 45.1zM487.1 67.2zM504.6 65.4zM499.5 43.9zM497.3 67.3zM490.8 49.1zM485.3 60.6zM490.9 51.3zM496.4 66.8zM523.1 51.2zM517.2 54.8zM490.6 64.9zM521.0 44.8zM519.3 42.0zM524.4 54.8zM507.0 63.6zM518.0 55.4zM508.8 42.0zM487.8 62.9zM504.7 66.7zM480.9 64.2zM487.7 56.5zM501.6 66.3zM492.5 66.4zM485.0 60.8zM512.0 65.6zM507.7 64.3zM523.9 48.7zM491.5 67.2zM523.0 37.2zM489.2 63.0zM488.8 61.4zM503.5 66.3zM497.1 67.0zM510.4 42.5zM511.6 59.7zM516.8 40.5zM489.5 54.9zM524.1 50.1zM520.3 54.0zM522.1 49.1zM494.0 50.2zM509.4 63.4zM522.3 50.1zM489.0 61.2zM505.3 43.4zM493.5 50.5zM489.8 57.6zM518.7 36.7zM523.9 47.4zM488.2 50.6zM494.3 46.9zM533.7 44.2zM509.4 41.8zM525.9 46.7zM519.0 53.4zM508.5 40.6zM522.3 48.5zM530.9 38.8zM492.9 69.4zM508.4 63.2zM526.9 40.7zM519.2 43.3zM523.4 54.0zM487.8 70.4zM487.4 64.3zM514.8 29.9zM526.9 40.1zM486.2 68.8zM495.8 69.0zM493.3 52.2zM525.9 47.0zM524.4 38.7zM503.7 42.4zM484.0 62.3zM523.7 53.0zM511.9 38.6zM480.5 65.0zM526.8 49.2zM492.0 67.3zM515.8 40.7zM484.5 67.6zM521.0 50.3zM511.7 61.9zM498.7 42.6zM524.4 46.0zM498.2 45.9zM492.1 51.4zM519.3 37.9zM480.5 69.6zM498.7 76.5zM521.9 50.4zM503.4 65.2zM488.9 50.8zM500.5 38.4zM486.6 62.4zM495.0 50.2zM522.2 58.1zM523.6 44.2zM494.9 45.3zM523.0 54.1zM516.6 41.4zM488.2 55.7zM529.6 35.9zM494.6 49.5zM498.1 46.2zM525.9 42.0zM496.4 66.4zM504.5 66.6zM506.5 66.3zM494.2 71.8zM523.5 40.0zM499.9 43.8zM484.7 69.8zM504.2 65.5zM510.8 60.8zM487.1 56.2zM500.4 72.0zM512.3 59.4zM523.6 52.1zM502.3 44.9zM477.9 70.0zM507.0 41.1zM513.9 38.5zM515.8 34.4zM526.2 53.8zM497.8 47.5zM510.5 61.4zM513.7 59.6zM493.3 45.6zM498.6 66.3zM483.4 67.5zM521.0 50.3zM519.7 43.3zM528.0 39.9zM498.5 70.0zM504.3 42.5zM504.9 65.1zM520.3 40.9zM492.1 46.5zM490.7 79.0zM491.4 54.5zM491.6 71.8zM508.9 64.7zM486.3 72.1zM506.5 39.4zM499.5 69.0zM522.4 41.9zM503.6 65.1zM495.7 44.0zM495.4 66.3zM517.1 56.8zM498.3 68.0zM486.5 62.9zM510.7 63.0zM512.8 41.9zM522.9 43.4zM486.5 84.6zM508.5 41.8zM486.9 71.1zM524.5 39.0zM501.5 46.0zM514.0 41.0zM496.9 49.4zM526.1 39.2zM497.1 46.2zM482.6 49.1zM523.4 43.4zM519.0 53.5zM485.9 62.0zM478.0 60.1zM494.0 51.0zM487.9 66.3zM503.2 40.7zM509.1 62.9zM497.4 69.9zM476.5 58.9zM519.2 51.7zM509.9 65.4zM530.6 41.8zM517.1 39.6zM515.3 40.0zM484.6 68.1zM492.8 68.5zM532.0 45.4zM514.6 58.6zM531.1 42.8zM493.7 49.8zM498.0 48.6zM506.5 65.5zM525.8 43.7zM492.1 54.1zM498.6 69.2zM494.0 48.6zM514.6 36.7zM520.7 48.7zM489.3 58.3zM487.7 66.3zM503.4 64.4zM488.0 51.6zM496.9 49.6zM480.1 64.8zM515.0 57.0zM514.5 38.1zM509.7 66.4zM498.5 48.0zM506.6 42.0zM489.6 70.1zM505.0 41.2zM520.8 40.5zM487.9 51.7zM491.2 55.5zM502.5 45.1zM517.0 35.9zM516.5 56.2zM519.7 52.2zM490.1 67.8zM486.6 63.1zM518.9 42.4zM494.4 70.5zM516.1 40.8zM511.2 60.7zM510.9 60.2zM518.8 39.7zM506.8 63.1zM519.1 55.0zM515.4 40.7zM518.1 41.7zM486.8 65.9zM510.2 41.4zM508.3 65.2zM486.6 61.9zM520.0 51.1zM484.2 64.5zM496.2 67.3zM501.3 45.9zM518.9 52.7zM500.7 43.9zM518.6 39.2zM525.4 50.3zM509.7 63.8zM507.9 63.3zM509.2 41.4zM498.6 66.8zM491.7 48.5zM524.4 46.1zM495.3 73.3zM487.9 52.8zM481.2 71.4zM511.9 40.5zM514.2 60.2zM492.0 69.8zM488.6 63.2zM491.2 52.4zM481.1 67.9zM512.0 59.5zM499.5 43.9zM507.2 66.9zM520.6 50.8zM488.6 68.3zM509.5 42.4zM495.0 66.3zM512.8 42.0zM496.4 46.7zM490.2 67.8zM523.9 42.8zM496.1 49.6zM485.5 63.1zM504.1 70.5zM525.2 42.1zM495.7 68.8zM508.4 35.6zM516.8 56.0zM520.8 51.5zM522.3 47.5zM487.1 66.7zM493.2 67.0zM489.5 66.0zM487.6 59.2zM485.1 70.6zM497.0 79.1zM528.6 40.6zM535.6 40.1zM492.4 50.0zM486.3 73.8zM520.7 38.3zM494.1 66.1zM520.9 55.5zM513.5 63.6zM487.5 74.4zM497.9 47.1zM495.1 68.0zM485.3 64.7zM521.1 42.2zM521.1 39.4zM513.4 38.9zM477.4 82.1zM489.9 51.3zM502.6 44.1zM496.5 66.9zM513.6 41.8zM490.4 50.6zM482.8 56.5zM504.9 69.2zM523.2 42.7zM515.0 63.0zM479.0 70.8zM507.4 64.4zM491.9 46.6zM495.8 72.8zM525.2 48.6zM492.7 65.7zM491.7 51.3zM506.5 43.7zM492.9 67.3zM469.6 60.2zM484.4 64.8zM525.2 39.1zM499.6 67.8zM481.5 56.5zM524.0 45.4zM487.0 66.5zM510.0 61.8zM521.9 46.7zM497.4 71.4zM508.5 68.2zM487.5 60.6zM495.5 66.7zM496.9 41.3zM520.4 50.6zM524.6 44.9zM502.5 42.5zM509.3 63.3zM522.5 39.5zM518.1 41.3zM520.5 50.5zM489.8 55.4zM493.6 65.9zM498.2 75.5zM489.3 59.0zM522.0 44.4zM496.1 66.4zM524.7 52.3zM489.6 46.9zM523.0 45.6zM480.7 70.2zM507.7 63.1zM520.6 55.4zM496.7 44.8zM498.2 67.8zM488.3 58.8zM509.8 61.3zM519.4 53.4zM492.2 66.6zM486.8 59.0zM525.8 48.9zM487.8 68.1zM528.3 51.1zM527.5 39.1zM489.2 62.5zM486.6 70.4zM520.9 54.6zM488.8 58.8zM523.9 46.5zM517.2 62.4zM493.9 71.3zM520.7 40.8zM511.9 59.9zM494.5 70.6zM491.1 67.6zM517.0 41.7zM515.1 34.1zM514.2 61.3zM522.1 55.1zM492.6 69.0zM507.1 41.6zM512.3 40.0zM503.9 43.2zM522.7 38.0zM521.4 44.5zM512.2 61.1zM514.7 41.1zM474.1 67.8zM520.7 51.1zM507.2 63.5zM485.0 67.6zM509.6 42.6zM519.6 63.7zM513.5 65.0zM476.6 71.7zM524.3 42.8zM491.9 53.8zM487.0 65.2zM503.8 64.5zM500.1 46.0zM504.8 63.9zM531.3 44.5zM517.7 40.6zM519.4 56.4zM501.6 66.5zM532.3 44.7zM491.7 55.2zM524.1 49.7zM522.1 41.7zM489.2 63.0zM522.5 36.4zM505.3 44.1zM524.1 53.3zM485.7 51.4zM492.3 53.6zM520.7 48.8zM499.7 43.3zM509.4 63.8zM488.6 59.2zM511.1 62.8zM500.2 45.0zM519.3 52.5zM489.8 67.7zM476.0 57.5zM499.8 44.9zM521.2 44.5zM523.2 41.4zM491.9 68.7zM524.7 53.0zM482.3 67.1zM496.7 48.8zM488.7 64.8zM488.5 53.8zM487.5 49.3zM516.3 56.5zM512.7 36.7zM519.1 59.2zM501.5 45.0zM514.2 57.6zM515.3 58.3zM486.6 66.6zM516.0 65.2zM495.9 66.8zM490.1 47.4zM489.0 58.2zM482.5 67.9zM520.2 49.5zM519.5 35.5zM516.4 58.2zM502.5 70.7zM486.0 59.4zM483.1 69.3zM524.7 36.1zM497.4 68.1zM519.4 41.2zM524.1 45.7zM506.7 63.3zM495.4 48.2zM520.5 41.7zM489.4 60.1zM489.4 59.3zM517.9 42.3zM494.8 74.3zM495.7 66.8zM481.3 70.3zM509.0 42.2zM525.6 42.4zM499.7 65.9zM490.1 49.3zM514.5 36.9zM506.5 42.1zM520.0 58.4zM486.0 64.7zM506.7 41.3zM490.2 65.8zM509.5 61.6zM493.7 66.9zM523.5 42.4zM492.3 51.3zM480.7 68.2zM515.5 37.0zM520.7 48.1zM531.8 31.8zM521.2 44.8zM524.6 39.4zM534.1 32.6zM519.1 59.5zM493.5 68.5zM517.9 53.9zM521.3 46.1zM520.0 50.6zM488.3 60.8zM475.2 62.2zM506.9 42.8zM496.1 44.2zM522.4 53.0zM498.3 48.2zM500.8 26.5zM512.9 59.2zM494.4 37.0zM489.1 63.1zM509.7 68.5zM491.5 67.0zM522.2 48.3zM487.5 62.2zM492.5 53.6zM518.6 57.2zM496.9 69.1zM486.0 70.4zM493.8 46.6zM528.5 46.0zM491.0 69.2zM496.9 69.4zM511.7 38.5zM523.3 42.3zM530.5 43.4zM521.0 45.7zM519.0 54.0zM520.9 42.6zM480.5 70.2zM509.7 38.3zM520.7 49.4zM481.3 64.6zM500.8 65.6zM493.2 76.4zM500.3 77.7zM481.4 60.0zM489.3 62.4zM518.1 54.3zM492.8 73.2zM501.5 64.9zM494.7 46.2zM521.0 47.3zM513.1 41.3zM490.0 58.0zM487.9 66.2zM518.4 55.0zM509.5 62.5zM522.2 41.2zM492.3 67.3zM487.3 49.2zM491.1 55.6zM507.4 64.3zM522.7 46.5zM483.8 62.0zM491.3 65.2zM488.2 67.9zM508.9 64.3zM487.3 62.0zM490.2 67.7zM522.0 40.7zM524.7 51.4zM509.7 36.2zM489.7 66.6zM513.8 58.1zM509.5 63.2zM519.3 57.1zM480.6 65.6zM505.9 43.3zM524.6 47.8zM482.7 62.6zM486.2 66.1zM492.7 66.1zM505.1 38.4zM501.5 42.8zM489.3 66.9zM484.4 69.6zM511.6 62.8zM525.9 38.1zM482.1 70.6zM500.4 43.9zM509.5 63.5zM502.1 70.6zM501.0 66.8zM500.1 67.9zM506.7 40.6zM492.2 53.7zM493.6 80.2zM494.8 48.8zM503.5 66.9zM490.9 68.2zM522.1 50.5zM505.8 63.2zM496.5 48.4zM490.2 65.8zM487.9 56.9zM501.7 65.1zM506.8 67.2zM486.3 66.5zM498.2 67.5zM505.3 71.7zM498.4 66.0zM475.2 57.6zM509.3 63.5zM506.4 64.3zM495.0 51.1zM520.5 54.4zM483.8 65.1zM525.7 38.4zM500.9 46.2zM496.5 47.2zM490.8 55.2zM525.5 39.4zM521.0 50.8zM489.4 54.3zM505.8 65.2zM523.1 42.8zM500.3 68.1zM514.4 38.0zM488.3 56.5zM485.6 68.2zM518.0 37.1zM530.9 46.4zM484.4 61.3zM517.9 59.3zM495.7 47.9zM517.9 42.6zM495.5 49.7zM517.0 54.6zM494.7 34.9zM487.9 46.4zM490.5 77.2zM509.0 62.7zM490.0 65.8zM507.6 65.9zM497.2 66.0zM485.6 66.6zM488.3 59.9zM507.8 62.4zM507.9 38.1zM501.1 43.8zM520.8 40.4zM528.6 47.4zM488.5 58.0zM495.0 48.0zM513.0 41.6zM519.9 50.1zM489.7 63.9zM493.9 68.1zM489.8 55.8zM485.6 64.8zM486.5 60.9zM527.3 48.8zM496.7 72.7zM488.4 57.7zM503.7 42.4zM523.2 40.8zM485.5 72.9zM496.6 48.1zM482.9 64.1zM517.6 55.9zM513.7 40.6zM520.1 52.4zM526.3 44.8zM494.6 43.1zM518.6 42.8zM493.3 66.3zM516.2 57.2zM503.8 65.8zM501.9 65.9zM510.9 40.1zM508.4 67.5zM518.0 54.0zM520.0 49.9zM491.4 44.3zM527.7 47.0zM490.6 67.2zM520.6 51.8zM526.7 38.7zM499.0 46.3zM500.8 65.9zM516.2 60.9zM493.7 68.5zM515.9 56.4zM522.0 46.5zM518.4 52.9zM502.0 67.3zM494.2 66.0zM526.9 37.9zM527.3 36.4zM525.2 42.1zM483.4 63.8zM499.8 46.9zM482.2 67.5zM506.7 63.4zM492.1 51.0zM491.2 65.6zM523.5 50.8zM492.0 53.7zM493.7 66.0zM518.5 36.9zM515.0 39.9zM502.4 45.0zM520.5 53.3zM488.2 57.9zM499.9 68.8zM522.2 59.7zM491.7 65.4zM515.6 37.2zM519.9 60.9zM495.0 67.1zM487.8 59.2zM489.1 67.5zM485.5 68.5zM484.2 61.2zM515.6 39.5zM502.2 69.9zM505.0 64.9zM495.9 48.1zM512.8 40.1zM518.1 55.4zM525.3 57.5zM524.5 43.2zM508.1 64.2zM510.0 61.5zM518.5 39.5zM498.1 66.9zM510.9 42.4zM517.8 58.0zM493.6 45.6zM489.6 51.0zM525.7 48.3zM512.4 38.7zM488.8 58.9zM506.7 41.9zM516.0 41.6zM488.5 57.3zM519.0 53.6zM486.9 54.7zM490.1 73.2zM519.3 52.3zM524.5 43.0zM515.6 56.9zM509.9 41.9zM518.7 42.1zM514.3 40.3zM485.3 55.8zM499.8 71.2zM481.7 69.8zM518.6 52.5zM484.8 57.2zM485.1 58.6zM522.8 47.9zM477.1 68.4zM521.8 40.0zM522.0 40.8zM491.2 55.0zM495.8 73.3zM491.6 54.8zM504.4 65.1zM485.7 62.3zM521.7 47.3zM485.1 56.1zM509.4 65.1zM514.9 34.9zM504.9 40.9zM489.7 74.0zM494.1 51.3zM505.3 43.1zM489.6 59.5zM493.9 66.8zM522.4 34.1zM498.0 46.5zM486.9 71.2zM520.9 54.4zM512.4 61.4zM521.8 40.8zM521.0 41.8zM520.4 44.5zM512.5 60.8zM507.8 37.8zM521.6 50.1zM499.9 65.4zM489.9 53.9zM501.4 65.4zM488.3 56.8zM516.4 67.3zM506.2 63.2zM492.8 44.0zM508.9 41.8zM501.9 42.1zM496.9 67.5zM488.8 68.5zM520.9 47.5zM495.3 50.0zM517.3 64.9zM505.7 44.1zM495.7 68.4zM494.8 47.3zM512.4 41.1zM486.7 54.9zM514.9 56.9zM523.7 38.6zM495.6 50.7zM520.3 53.9zM522.0 47.7zM516.9 54.7zM493.7 48.5zM483.6 67.2zM521.8 44.6zM481.6 60.0zM474.5 74.8zM517.2 59.5zM521.6 46.7zM498.0 68.4zM479.0 69.1zM521.2 43.1zM497.1 68.0zM496.6 66.2zM521.2 47.2zM513.0 60.1zM518.0 41.3zM499.1 66.8zM512.2 41.4zM493.1 51.5zM520.6 42.8zM522.2 42.8zM493.7 70.8zM476.8 71.1zM488.0 62.3zM476.2 56.2zM513.1 58.7zM521.8 54.7zM497.0 67.4zM493.1 69.6zM528.3 45.6zM496.3 70.8zM485.7 70.1zM515.6 41.5zM520.1 53.8zM521.1 46.8zM506.3 67.4zM488.6 64.1zM502.5 66.1zM498.4 66.0zM481.0 66.5zM481.1 77.9zM508.7 38.8zM489.4 57.9zM488.6 60.1zM487.3 62.3zM524.9 54.7zM522.2 53.3zM521.7 52.6zM504.5 64.1zM520.9 44.3zM488.9 59.0zM494.7 68.0zM501.1 78.6zM487.3 67.7zM489.0 64.2zM505.9 43.6zM494.4 66.1zM525.1 47.6zM529.1 47.0zM510.7 63.3zM490.6 54.5zM486.0 61.0zM517.4 41.1zM515.3 40.8zM490.5 55.8zM517.0 42.2zM519.5 42.6zM518.6 42.8zM508.8 62.1zM530.2 35.9zM484.1 63.5zM487.1 62.0zM509.5 42.1zM508.5 61.7zM487.2 64.2zM515.9 56.2zM487.3 62.1zM488.5 69.2zM492.9 65.9zM499.8 44.7zM479.1 62.5zM500.4 46.7zM494.0 65.9zM485.2 53.8zM487.8 54.0zM506.7 72.9zM526.4 45.1zM513.7 38.1zM496.6 46.7zM520.6 46.3zM519.7 60.3zM493.7 51.5zM484.7 58.7zM504.3 43.5zM486.9 65.6zM497.2 69.5zM501.0 46.0zM514.7 39.1zM489.3 59.0zM484.5 67.1zM487.8 57.3zM497.0 40.3zM521.6 43.0zM490.1 54.3zM497.8 66.6zM511.3 61.2zM498.4 71.2zM515.3 37.9zM516.7 40.8zM520.6 42.1zM488.4 61.1zM515.2 38.5zM524.1 41.7zM485.1 56.9zM509.6 40.5zM491.2 72.5zM500.7 46.3zM523.0 42.0zM491.8 52.1zM488.8 59.4zM501.3 69.6zM500.5 45.5zM510.1 40.5zM500.8 66.2zM528.3 50.8zM491.2 48.1zM511.6 38.4zM523.5 50.0zM487.1 62.5zM500.3 69.6zM529.2 47.2zM523.3 42.1zM523.9 39.9zM506.1 41.3zM519.8 53.8zM506.9 43.3zM493.8 35.7zM512.4 59.6zM481.9 69.1zM496.5 71.0zM519.0 57.0zM520.4 58.7zM525.5 55.2zM524.0 43.6zM515.6 41.8zM497.5 49.0zM496.9 67.0zM521.3 41.1zM516.1 57.1zM522.1 37.4zM491.5 47.2zM501.0 45.1zM500.9 69.1zM521.8 45.3zM504.1 43.7zM488.1 59.0zM520.2 52.3zM509.8 63.1zM486.5 57.9zM504.1 37.0zM492.3 66.4zM496.4 49.6zM512.0 61.6zM522.2 44.4zM490.6 68.6zM486.5 68.4zM477.7 62.3zM523.3 49.8zM489.7 67.3zM500.4 43.1zM519.2 55.9zM524.5 34.9zM505.8 63.6zM495.6 48.1zM485.7 59.0zM497.6 66.7zM525.5 39.2zM517.2 40.4zM523.8 44.4zM523.3 47.8zM518.2 53.4zM508.5 37.6zM494.4 48.6zM488.3 58.9zM510.4 60.9zM528.3 29.0zM488.6 62.6zM523.9 38.4zM508.8 61.5zM494.2 41.0zM522.8 43.4zM510.9 65.1zM485.7 59.3zM489.4 63.2zM495.8 48.8zM530.1 53.7zM510.6 60.9zM496.2 66.8zM505.9 44.0zM503.4 64.7zM515.1 56.8zM515.1 36.3zM526.2 39.5zM521.3 40.0zM515.3 37.1zM504.4 43.3zM499.1 47.5zM519.6 51.1zM521.8 46.0zM510.4 41.2zM515.2 58.4zM521.3 37.1zM514.2 35.8zM486.6 66.4zM524.1 49.2zM514.0 40.8zM484.0 50.6zM521.3 49.9zM482.2 50.9zM520.2 51.2zM494.6 51.2zM519.3 53.1zM486.9 61.6zM485.7 65.7zM483.6 61.0zM521.3 55.7zM488.9 52.0zM501.2 46.4zM521.1 47.4zM489.0 73.2zM490.7 42.8zM504.7 66.8zM493.5 45.8zM480.9 68.4zM504.0 43.5zM485.7 61.1zM520.0 53.1zM488.7 62.7zM524.7 48.5zM516.8 38.3zM517.8 41.3zM514.5 41.8zM502.5 67.4zM511.5 42.0zM500.4 70.8zM491.3 51.4zM520.2 36.3zM523.0 44.2zM486.6 53.3zM502.6 44.3zM524.2 43.7zM521.2 47.1zM516.9 55.7zM519.4 51.4zM492.1 48.9zM513.4 41.6zM494.4 49.8zM518.0 54.0zM481.6 85.5zM483.5 53.6zM519.4 41.4zM505.3 67.5zM488.9 61.7zM522.6 51.5zM487.2 65.2zM513.2 41.0zM491.6 67.7zM503.3 40.8zM520.6 49.4zM488.4 68.2zM486.4 61.1zM510.5 40.1zM484.6 53.2zM521.7 37.4zM484.6 68.4zM528.7 41.4zM506.4 40.8zM521.1 40.4zM480.7 58.3zM491.4 65.1zM496.0 68.7zM489.7 64.9zM509.8 65.3zM498.0 67.7zM489.3 58.3zM523.2 53.7zM521.4 47.7zM477.9 66.0zM512.3 38.7zM521.9 45.4zM524.5 48.7zM489.8 56.7zM501.2 65.5zM525.6 46.8zM522.7 44.9zM484.7 63.2zM483.0 74.0zM519.9 41.8zM491.0 49.6zM491.2 49.0zM520.6 44.6zM490.4 70.7zM527.9 42.5zM484.9 66.9zM497.4 47.1zM488.9 68.6zM493.8 51.0zM486.4 75.8zM516.8 37.7zM501.2 66.5zM484.2 61.3zM512.4 61.7zM522.1 40.2zM500.5 65.5zM482.8 68.0zM487.3 70.2zM483.1 62.1zM501.1 45.5zM501.3 65.3zM491.4 68.9zM518.0 38.7zM478.4 65.0zM519.7 60.7zM521.7 44.1zM483.2 60.2zM516.2 41.4zM493.6 66.8zM473.0 64.0zM494.2 50.5zM484.4 70.5zM512.2 60.1zM504.1 64.7zM496.9 48.9zM506.7 68.7zM521.7 43.7zM524.8 38.6zM509.6 38.4zM509.3 40.0zM520.7 40.9zM526.3 42.6zM521.2 56.3zM515.6 37.5zM488.9 62.3zM522.5 39.9zM523.3 42.5zM522.3 31.5zM502.8 67.0zM488.2 57.0zM527.7 41.2zM488.6 59.0zM492.5 46.8zM521.3 41.4zM492.5 50.0zM496.2 67.0zM483.4 68.2zM525.0 48.5zM511.9 41.7zM484.4 70.0zM523.9 42.5zM523.5 44.9zM483.5 37.2zM488.5 66.9zM507.3 62.4zM486.2 71.8zM517.6 41.5zM512.1 40.0zM495.8 47.4zM526.5 47.0zM518.2 54.9zM529.2 39.2zM484.0 63.6zM516.5 40.6zM482.4 55.0zM522.5 39.2zM501.0 67.4zM520.8 40.2zM501.1 44.8zM514.1 57.6zM507.0 43.3zM499.0 47.7zM506.4 63.9zM502.0 44.6zM502.8 66.1zM524.9 47.8zM502.8 42.3zM524.8 38.6zM507.7 66.9zM517.8 58.2zM515.8 56.7zM490.5 65.1zM518.8 57.3zM509.0 64.0zM488.7 51.0zM509.2 39.1zM485.8 65.0zM505.3 42.7zM476.4 75.3zM489.9 70.4zM488.1 64.9zM485.0 60.2zM521.6 45.5zM489.3 52.1zM484.4 66.3zM521.0 47.8zM521.9 50.4zM525.4 53.1zM492.7 65.8zM487.1 63.4zM526.5 43.8zM497.4 48.3zM493.4 67.9zM495.5 66.1zM517.1 40.9zM525.5 45.0zM519.3 42.8zM523.0 49.5zM521.3 40.1zM483.3 54.9zM479.4 60.6zM513.8 41.7zM517.1 70.0zM495.8 50.5zM489.1 66.5zM525.2 50.2zM521.1 43.4zM520.8 39.7zM518.6 36.5zM522.8 44.5zM511.6 60.4zM503.7 44.3zM512.4 62.2zM494.7 69.8zM484.5 66.0zM511.1 36.7zM520.1 40.2zM523.2 41.8zM484.0 57.0zM503.2 43.1zM488.0 58.5zM486.2 59.5zM496.3 49.1zM503.4 64.4zM491.9 50.7zM487.3 53.8zM507.4 72.8zM507.6 42.1zM492.4 71.6zM506.9 43.6zM520.8 42.8zM494.7 46.9zM514.7 36.8zM483.3 62.4zM510.4 40.0zM489.4 63.6zM510.7 61.6zM490.4 57.4zM486.7 61.8zM489.3 65.8zM486.4 63.0zM493.8 52.4zM515.4 66.9zM495.1 69.4zM503.2 43.2zM483.0 58.3zM522.4 54.1zM521.1 40.5zM512.1 41.4zM504.1 68.1zM495.6 69.2zM512.2 35.3zM488.0 60.9zM511.7 60.7zM487.9 54.6zM516.9 60.1zM505.5 63.7zM495.1 69.1zM518.6 39.7zM489.5 57.1zM519.4 53.1zM490.8 55.8zM485.5 62.1zM510.9 60.3zM505.3 66.8zM530.4 33.6zM488.4 60.1zM490.1 64.9zM531.5 48.1zM514.9 38.7zM489.8 67.1zM525.7 40.9zM510.4 70.8zM520.9 58.6zM500.0 65.5zM521.4 54.4zM493.2 52.8zM507.1 42.9zM523.8 46.1zM523.7 55.4zM511.5 65.1zM520.9 51.6zM508.2 42.0zM484.5 56.2zM500.5 38.3zM512.7 59.6zM489.4 58.7zM523.3 50.8zM502.3 44.8zM489.1 65.5zM497.1 47.9zM511.4 64.3zM522.1 55.4zM489.8 58.1zM511.5 59.8zM507.9 64.4zM512.6 59.2zM483.1 63.2zM523.8 47.6zM507.4 68.9zM520.6 43.6zM487.9 60.6zM516.4 38.4zM505.3 42.7zM501.5 69.7zM488.8 57.7zM487.6 66.7zM481.6 61.3zM495.3 71.7zM518.5 55.3zM516.1 41.2zM526.2 44.9zM488.9 60.4zM526.6 31.4zM509.7 64.1zM487.7 65.8zM507.4 43.3zM500.6 46.7zM486.3 69.9zM495.1 68.7zM487.1 60.8zM498.0 66.8zM486.9 54.3zM527.4 38.0zM489.7 63.2zM510.9 40.8zM488.2 43.6zM513.1 59.2zM522.5 49.7zM499.8 67.3zM495.8 67.0zM503.0 65.0zM489.3 52.4zM489.0 66.1zM488.0 52.9zM508.0 65.0zM528.1 37.2zM490.0 58.0zM496.9 47.9zM493.4 69.9zM505.2 65.9zM492.7 76.3zM520.3 59.0zM480.4 75.3zM507.0 41.1zM522.3 44.8zM507.5 63.9zM489.3 61.6zM488.8 63.3zM493.4 51.6zM502.7 77.1zM478.2 66.4zM484.0 61.8zM523.6 46.7zM497.7 67.1zM509.0 63.4zM512.5 63.3zM495.5 45.8zM508.5 62.0zM517.5 39.5zM487.8 61.4zM507.9 64.8zM506.9 43.6zM508.4 75.3zM512.8 39.0zM488.2 65.6zM502.2 43.9zM508.1 42.6zM503.9 41.8zM502.4 45.0zM522.1 42.9zM486.1 67.4zM503.5 64.8zM535.7 39.3zM521.4 47.4zM522.2 48.0zM505.0 40.5zM500.4 65.4zM530.4 48.6zM484.4 84.2zM500.8 66.1zM503.3 43.5zM479.8 67.0zM502.6 65.4zM505.3 65.0zM520.6 45.6zM514.1 58.5zM508.1 64.6zM516.9 55.7zM501.9 66.0zM522.2 48.3zM520.4 52.0zM481.4 67.3zM523.8 44.6zM488.9 65.3zM523.5 46.6zM490.2 53.7zM485.3 58.3zM521.1 40.8zM521.5 53.8zM507.5 43.2zM487.9 66.5zM502.6 64.6zM521.6 61.6zM485.5 57.7zM508.3 62.5zM519.3 51.3zM486.4 61.4zM511.8 59.8zM495.9 74.4zM534.3 38.2zM493.4 52.9zM510.1 65.0zM510.8 68.1zM524.8 54.9zM513.2 40.1zM522.8 43.8zM520.8 47.8zM525.2 50.9zM488.1 59.2zM504.5 63.9zM489.9 55.7zM520.1 50.5zM488.5 60.2zM525.5 44.8zM488.7 70.1zM515.2 39.6zM523.4 34.0zM520.2 35.1zM521.6 34.0zM515.3 37.9zM516.8 38.5zM527.6 28.2zM524.3 28.2zM518.9 38.9zM518.7 38.7zM530.4 24.5zM523.8 25.6zM525.2 27.2zM521.4 33.6zM521.4 34.1zM516.3 38.2zM522.7 40.4zM525.5 32.4zM524.7 26.5zM521.1 27.7zM520.4 35.4zM520.1 38.2zM527.1 30.9zM523.2 29.0zM522.4 34.5zM520.6 34.1zM521.6 30.6zM518.3 36.7zM523.2 32.0zM523.2 34.0zM517.9 29.2zM519.6 33.5zM524.9 31.8zM518.8 37.9zM524.1 25.1zM519.9 39.3zM517.0 33.8zM521.7 30.3zM520.2 33.6zM519.5 34.5zM521.9 35.4zM519.5 36.5zM517.5 41.6zM515.3 42.0zM521.5 36.3zM522.9 31.3zM520.9 33.7zM518.0 36.5zM519.3 39.0zM520.9 34.4zM521.6 33.8zM524.9 26.5zM523.3 27.7zM525.0 29.3zM523.2 26.6zM521.1 31.4zM523.1 27.0zM524.5 29.0zM527.5 30.6zM520.3 36.6zM513.5 39.9zM522.5 38.1zM519.8 37.9zM520.7 35.5zM516.9 36.3zM521.8 34.7zM521.8 31.4zM521.6 35.0zM518.8 34.8z" stroke="#000" stroke-width=".85" stroke-linecap="round" stroke-linejoin="round" fill="none"/>
<g font-family="Liberation Sans, sans-serif" font-size="2.7" fill="#555">
<text x="466.5" y="97.7" text-anchor="middle">0</text>
<rect x="466.35" y="92.8" width=".3" height="1" fill="#888" stroke="none"/>
<text x="484.7" y="97.7" text-anchor="middle">2</text>
<rect x="484.55" y="92.8" width=".3" height="1" fill="#888" stroke="none"/>
<text x="503.0" y="97.7" text-anchor="middle">4</text>
<rect x="502.85" y="92.8" width=".3" height="1" fill="#888" stroke="none"/>
<text x="521.2" y="97.7" text-anchor="middle">6</text>
<rect x="521.05" y="92.8" width=".3" height="1" fill="#888" stroke="none"/>
<text x="460.0" y="90.9" text-anchor="end">0</text>
<rect x="462.4" y="89.75" width="1" height=".3" fill="#888" stroke="none"/>
<text x="460.0" y="74.3" text-anchor="end">2</text>
<rect x="462.4" y="73.15" width="1" height=".3" fill="#888" stroke="none"/>
<text x="460.0" y="57.7" text-anchor="end">4</text>
<rect x="462.4" y="56.55" width="1" height=".3" fill="#888" stroke="none"/>
<text x="460.0" y="41.1" text-anchor="end">6</text>
<rect x="462.4" y="39.95" width="1" height=".3" fill="#888" stroke="none"/>
<text x="460.0" y="24.5" text-anchor="end">8</text>
<rect x="462.4" y="23.35" width="1" height=".3" fill="#888" stroke="none"/>
<text x="467.3" y="27.1" font-size="3.3" fill="#111">p-value = 0</text>
<text x="467.3" y="31.5" font-size="3.3" fill="#111">R = 0.56</text>
</g>
<text x="484.1" y="104.4" textLength="33" lengthAdjust="spacingAndGlyphs" font-family="Liberation Sans, sans-serif" font-size="3.95" fill="#222" stroke="#222" stroke-width=".1">log2(STK38 TPM)</text>
<text transform="translate(454.2 75.0) rotate(-90)" textLength="35.6" lengthAdjust="spacingAndGlyphs" font-family="Liberation Sans, sans-serif" font-size="3.95" fill="#222" stroke-width=".1" stroke="#222">log2(<tspan fill="#e8332a" stroke="#e8332a">MAPK14</tspan> TPM)</text>
<rect x="327.2" y="120.5" width="72.8" height="70.2" fill="#fff" stroke="#c4c4c4" stroke-width=".5"/>
<ellipse cx="369" cy="148.5" rx="19.0" ry="8.8" transform="rotate(-43.5 369 148.5)" fill="#000"/>
<path d="M370.9 136.4zM382.9 144.5zM351.2 159.6zM353.1 167.9zM383.2 153.4zM388.5 126.0zM357.3 143.9zM367.7 163.4zM349.2 168.9zM384.6 142.7zM354.7 163.2zM352.9 162.1zM373.5 133.0zM359.1 127.5zM355.9 161.1zM363.2 167.3zM381.3 147.8zM370.8 159.0zM351.5 162.9zM363.7 139.9zM363.5 139.4zM369.6 159.2zM360.4 142.9zM380.0 157.2zM373.4 159.7zM374.9 131.5zM354.6 160.6zM383.3 144.1zM372.2 160.0zM383.4 143.5zM385.0 137.2zM383.2 136.1zM352.3 151.1zM384.6 135.0zM356.8 161.8zM379.9 132.8zM352.5 149.4zM370.6 158.4zM363.7 141.8zM384.0 135.4zM379.2 131.6zM372.5 135.9zM354.6 157.1zM359.7 167.5zM391.8 127.6zM353.3 171.2zM379.8 132.1zM382.2 149.0zM385.7 138.6zM374.6 156.3zM372.7 129.7zM354.1 150.1zM364.3 122.7zM353.0 155.6zM383.1 128.6zM373.7 160.3zM372.3 123.5zM373.9 158.5zM351.5 153.2zM364.5 136.6zM360.2 144.0zM366.4 160.8zM387.2 137.9zM371.3 159.6zM378.3 152.5zM363.0 137.9zM353.9 154.3zM365.6 139.7zM359.3 162.7zM381.9 134.6zM354.1 151.9zM382.5 136.1zM386.7 151.5zM384.9 127.9zM356.5 163.9zM358.0 170.0zM360.3 163.8zM375.8 133.3zM344.3 150.7zM395.5 128.4zM363.6 136.9zM366.3 161.5zM383.2 135.0zM356.7 146.2zM388.5 125.0zM352.9 152.0zM374.5 156.1zM384.3 141.9zM380.4 151.8zM355.3 171.5zM356.1 151.8zM380.4 130.4zM361.6 143.2zM379.2 155.8zM384.7 142.2zM376.0 155.3zM382.5 146.7zM366.2 137.2zM375.3 132.2zM382.5 133.8zM368.9 137.4zM355.8 174.3zM362.1 166.1zM377.2 156.2zM378.2 134.2zM371.4 162.0zM357.3 147.5zM366.0 163.5zM382.8 161.2zM344.9 164.3zM354.0 156.7zM354.1 167.7zM355.5 148.3zM373.2 157.2zM379.1 130.9zM350.5 169.8zM384.3 139.1zM381.6 131.5zM390.3 135.8zM357.1 165.9zM347.9 155.8zM388.8 129.9zM371.4 132.5zM353.5 162.1zM354.2 167.9zM357.0 132.9zM384.3 131.7zM375.0 160.1zM359.6 145.8zM381.8 131.4zM354.5 167.1zM337.4 173.2zM364.4 138.9zM356.0 152.2zM355.3 148.7zM358.6 132.8zM386.1 148.2zM352.8 162.3zM367.8 137.5zM345.7 155.4zM364.2 162.7zM390.2 141.4zM382.1 134.0zM358.4 176.6zM381.0 148.7zM355.1 160.5zM353.1 161.8zM388.9 140.0zM354.6 162.0zM358.5 174.5zM379.3 133.6zM386.2 133.8zM368.6 135.1zM377.9 154.7zM365.1 161.4zM376.3 129.5zM357.0 143.3zM356.4 164.0zM367.6 137.0zM359.5 167.7zM379.5 127.8zM367.5 165.3zM356.1 151.6zM368.0 159.8zM387.5 147.0zM359.9 162.4zM384.7 137.8zM363.6 141.3zM354.1 155.4zM359.3 144.7zM362.7 142.2zM372.7 159.9zM355.8 152.6zM354.6 154.0zM379.8 150.2zM353.1 162.5zM377.2 161.1zM356.9 164.3zM379.4 150.8zM383.6 139.0zM356.7 150.4zM383.7 134.7zM380.7 148.1zM357.1 146.9zM357.5 165.2zM381.4 148.5zM354.3 155.0zM370.0 160.5zM358.5 162.6zM367.5 162.7zM392.2 124.8zM355.9 148.5zM355.0 165.5zM356.6 176.3zM379.3 151.7zM365.9 161.9zM363.8 164.2zM383.8 150.9zM376.9 155.0zM360.0 145.0zM381.6 131.4zM365.2 161.3zM384.5 138.4zM358.0 163.5zM387.7 134.0zM368.0 160.0zM351.0 158.4zM360.6 163.9zM338.0 177.4zM352.0 154.9zM371.2 135.0zM359.5 163.1zM353.3 159.4zM361.8 163.1zM379.0 151.1zM357.4 148.2zM352.5 158.3zM356.4 148.9zM385.7 137.4zM385.3 132.6zM373.6 155.8zM354.2 148.2zM367.2 133.0zM383.5 137.8zM352.8 150.5zM379.8 153.0zM370.8 162.3zM360.2 164.4zM356.7 143.7zM367.1 133.4zM355.8 162.9zM372.1 158.0zM380.3 153.3zM366.6 139.4zM383.5 137.6zM354.2 169.6zM353.9 160.8zM384.6 133.8zM347.2 152.4zM363.1 171.9zM381.5 133.9zM361.0 144.1zM354.1 150.1zM353.8 155.3zM377.6 129.9zM377.3 130.4zM376.2 157.0zM353.1 161.7zM355.4 167.0zM353.6 173.2zM359.0 142.4zM383.2 137.9zM378.0 134.1zM372.0 157.9zM393.9 154.1zM365.8 162.9zM359.9 141.3zM381.4 163.8zM376.5 131.6zM385.4 140.8zM365.5 168.4zM385.4 129.9zM389.7 138.9zM380.0 131.4zM362.8 139.9zM376.0 159.1zM350.4 149.8zM378.0 154.1zM361.5 164.2zM354.5 156.8zM379.3 149.9zM361.5 141.9zM360.9 170.8zM354.1 168.9zM375.6 132.8zM383.7 134.8zM344.4 175.5zM377.9 153.3zM384.4 143.8zM353.0 156.7zM359.1 168.0zM375.8 160.2zM354.5 155.2zM356.8 149.2zM389.4 146.5zM382.8 146.3zM384.6 150.5zM373.5 135.1zM351.2 155.2zM357.2 149.2zM358.0 164.5zM385.0 135.4zM377.7 132.9zM381.4 151.3zM383.4 145.8zM344.7 167.3zM385.6 143.5zM352.6 158.8zM354.7 151.1zM359.3 164.4zM355.1 160.7zM377.5 152.5zM364.7 138.7zM373.6 157.3zM364.7 165.6zM357.1 148.8zM383.7 147.8zM351.2 171.3zM352.3 159.6zM353.5 155.0zM360.1 144.1zM384.8 138.1zM386.0 134.2zM351.4 162.6zM347.2 157.5zM393.0 125.9zM383.2 129.6zM353.6 167.1zM373.5 133.9zM349.9 158.5zM375.8 134.0zM355.6 152.4zM374.0 155.9zM364.0 163.3zM383.8 139.7zM371.9 161.6zM373.5 157.5zM372.4 135.9zM379.1 152.3zM360.5 135.9zM378.7 154.6zM368.6 161.7zM384.5 134.2zM384.0 134.7zM361.8 163.9zM373.6 155.7zM372.3 157.5zM376.2 133.4zM372.7 158.3zM371.2 161.0zM352.1 152.2zM363.4 171.1zM354.8 159.9zM380.2 153.1zM371.0 135.6zM358.8 145.5zM367.3 161.7zM382.6 134.4zM361.3 142.3zM368.3 160.7zM392.5 128.9zM362.2 170.6zM377.0 153.5zM374.4 135.2zM352.6 167.6zM381.8 131.8zM383.7 129.9zM376.3 133.7zM344.9 146.3zM382.1 146.5zM383.1 145.6zM351.8 155.1zM355.5 161.9zM366.0 162.1zM391.5 143.2zM383.5 138.4zM374.1 159.0zM386.4 146.3zM381.2 134.5zM386.4 135.4zM349.2 161.5zM349.6 161.2zM379.7 133.3zM379.5 128.9zM379.0 133.9zM387.3 142.0zM362.6 168.7zM355.8 151.6zM353.5 161.4zM356.9 146.0zM385.7 140.0zM371.7 158.8zM376.6 153.2zM376.6 132.6zM358.3 164.3zM377.1 133.5zM357.0 168.8zM356.8 147.4zM384.4 146.6zM374.2 133.2zM367.3 130.5zM356.5 149.4zM359.0 163.0zM372.9 161.4zM384.8 129.8zM382.7 136.8zM362.4 142.5zM384.7 141.3zM343.0 163.3zM385.8 142.5zM368.2 161.0zM391.6 138.1zM373.7 135.5zM383.8 141.3zM361.1 165.9zM385.2 137.7zM354.5 161.1zM350.8 150.9zM388.6 147.0zM365.5 140.3zM355.8 151.6zM351.9 158.8zM353.9 152.8zM351.6 170.6zM347.9 164.3zM369.4 160.7zM368.5 163.6zM362.6 162.2zM350.1 159.4zM383.5 161.0zM376.5 132.5zM372.0 159.7zM364.1 165.9zM353.8 156.5zM377.9 153.0zM360.2 162.9zM352.6 153.8zM379.1 128.4zM354.1 157.9zM381.5 134.4zM364.6 161.4zM387.4 135.6zM377.8 152.5zM393.5 149.0zM379.3 150.0zM354.5 154.7zM357.0 165.0zM381.4 148.6zM352.9 166.3zM373.4 134.4zM367.4 161.7zM369.0 122.5zM360.0 143.9zM345.6 157.5zM354.8 150.3zM384.9 134.5zM378.0 151.5zM363.1 129.1zM383.9 143.3zM369.4 133.8zM384.3 128.6zM389.0 140.6zM367.7 134.5zM350.9 159.9zM383.4 132.7zM360.3 162.4zM384.7 135.0zM359.2 164.3zM351.7 150.2zM385.5 149.5zM365.4 165.4zM352.8 160.9zM355.0 147.7zM348.8 152.5zM377.8 153.9zM372.5 134.7zM353.9 151.9zM393.4 129.6zM374.7 134.9zM357.2 146.9zM382.3 152.3zM353.0 162.5zM358.4 147.9zM388.6 133.7zM350.0 143.3zM393.6 128.2zM377.5 154.2zM349.0 154.1zM363.0 164.2zM388.3 130.9zM367.6 138.1zM355.0 152.1zM352.0 163.1zM370.9 136.2zM366.3 162.8zM366.6 139.3zM371.6 135.6zM361.8 141.3zM384.9 135.3zM379.8 133.3zM377.3 156.5zM353.0 158.8zM361.6 164.3zM368.6 135.2zM361.5 142.7zM365.4 140.0zM356.3 165.0zM385.5 149.4zM387.8 142.4zM358.6 168.7zM383.3 135.5zM352.1 164.3zM390.3 135.9zM347.6 151.5zM350.1 146.6zM364.8 162.2zM339.1 166.2zM355.1 167.3zM386.4 138.4zM352.2 158.8zM368.0 138.2zM385.7 147.9zM383.3 141.5zM385.4 142.3zM363.6 163.3zM353.7 164.4zM350.8 155.6zM350.9 160.3zM362.0 164.7zM375.4 161.9zM353.9 148.8zM366.8 161.4zM347.6 167.0zM352.9 150.3zM366.5 135.9zM352.0 156.3zM353.4 155.7zM369.3 133.5zM370.4 158.5zM367.3 160.4zM361.1 143.2zM381.5 129.9zM372.0 131.5zM379.4 149.7zM365.9 164.2zM334.7 180.2zM361.7 143.1zM380.2 148.7zM368.4 161.8zM382.0 148.2zM357.0 164.8zM349.3 165.1zM351.4 154.8zM369.9 136.2zM375.4 155.0zM355.5 162.6zM352.8 161.8zM355.7 184.0zM372.6 158.5zM383.2 136.0zM358.2 164.6zM370.9 158.2zM362.4 165.7zM356.4 147.9zM363.2 162.4zM377.3 158.6zM366.8 165.8zM387.8 139.2zM383.6 149.3zM382.1 150.9zM354.7 146.6zM365.3 161.2zM367.3 161.2zM385.0 140.8zM360.0 172.6zM373.8 155.7zM359.6 162.3zM369.2 162.0zM368.7 136.5zM384.3 137.3zM370.3 159.6zM367.1 164.9zM382.1 146.6zM359.4 141.6zM364.1 134.1zM358.6 147.2zM373.7 133.9zM354.5 172.9zM391.5 123.8zM369.9 133.3zM384.9 152.9zM354.0 149.7zM356.0 140.8zM375.1 131.1zM369.0 136.0zM370.7 131.6zM380.7 134.4zM375.0 135.2zM383.7 135.4zM389.0 147.1zM353.3 151.7zM374.2 157.1zM371.8 158.1zM384.2 143.6zM369.7 135.5zM378.5 133.3zM366.4 160.9zM375.2 161.2zM386.3 137.8zM363.4 139.4zM383.6 140.8zM356.1 161.9zM355.4 165.3zM365.6 163.8zM341.9 161.0zM364.1 162.3zM352.4 143.9zM371.5 133.1zM370.4 135.3zM369.9 133.1zM363.6 141.8zM357.9 148.3zM387.1 139.1zM383.6 132.7zM378.3 130.9zM379.9 133.2zM386.0 157.9zM387.5 139.9zM381.6 149.3zM381.1 130.7zM354.5 162.9zM354.7 170.7zM349.8 150.1zM346.4 159.2zM372.7 133.6zM358.3 141.8zM354.9 166.5zM354.5 152.2zM355.8 151.9zM361.1 141.6zM349.5 157.0zM375.9 161.5zM370.3 134.9zM369.5 161.3zM356.8 168.5zM346.6 172.7zM354.4 157.1zM352.8 151.4zM357.1 139.9zM388.0 137.5zM387.4 145.6zM358.6 174.8zM386.0 141.6zM360.9 164.9zM382.4 151.9zM390.3 131.8zM359.2 144.5zM379.9 134.3zM384.9 127.8zM383.0 144.0zM360.0 164.8zM372.5 158.4zM378.7 132.9zM378.2 134.1zM352.6 166.8zM374.1 132.7zM380.5 151.5zM355.4 150.3zM391.5 140.2zM379.3 151.4zM357.6 146.3zM354.1 153.6zM365.5 165.2zM384.1 131.0zM382.0 124.4zM371.9 157.1zM383.2 144.2zM383.3 132.8zM354.1 163.9zM378.4 152.7zM385.4 140.4zM384.4 146.1zM357.6 166.2zM390.0 142.8zM347.9 167.7zM359.4 143.6zM383.4 134.9zM374.9 128.0zM385.6 131.0zM374.7 133.4zM362.8 138.3zM350.1 172.2zM386.7 150.3zM383.3 150.0zM387.1 130.4zM358.1 163.5zM353.7 158.3zM354.1 152.3zM360.8 162.3zM374.3 155.5zM371.8 162.7zM384.3 134.6zM354.0 158.8zM364.3 137.3zM353.9 167.5zM350.1 153.0zM357.0 149.4zM371.8 134.3zM357.4 164.6zM358.6 166.4zM352.4 151.7zM382.6 126.7zM383.3 133.3zM361.4 178.0zM354.2 161.9zM379.6 133.6zM352.5 153.6zM380.0 154.8zM384.8 131.9zM369.0 134.5zM365.7 161.6zM384.7 133.7zM380.4 157.7zM374.5 159.9zM385.7 128.9zM346.9 162.2zM381.9 151.1zM361.6 164.3zM352.4 164.4zM354.4 158.8zM366.7 134.6zM346.5 163.8zM387.6 141.7zM373.0 162.0zM349.3 162.1zM378.8 153.7zM350.4 164.7zM350.8 156.2zM354.0 159.4zM351.4 149.6zM355.4 169.6zM364.9 139.8zM354.6 143.0zM377.5 153.6zM354.5 159.4zM388.8 130.7zM364.8 138.1zM351.4 158.5zM383.5 141.2zM351.5 157.9zM362.2 140.8zM353.5 151.8zM351.1 165.0zM353.5 161.6zM382.5 148.0zM355.9 147.5zM360.3 165.0zM358.5 179.6zM370.1 134.8zM356.3 150.6zM374.1 158.2zM377.1 152.5zM349.9 158.2zM371.3 161.0zM381.8 135.4zM387.3 129.5zM352.6 155.4zM378.2 128.7zM373.8 161.9zM383.4 139.0zM356.3 150.9zM352.2 153.0zM333.8 152.5zM383.7 143.8zM341.5 152.1zM353.1 148.6zM388.3 135.4zM353.5 154.8zM370.9 135.0zM374.0 133.1zM377.5 154.8zM367.0 133.3zM353.4 170.9zM363.0 142.6zM356.6 161.9zM385.4 152.5zM354.3 154.6zM375.9 154.2zM364.0 135.9zM376.7 152.9zM389.7 135.5zM377.9 131.1zM382.4 144.4zM363.5 135.6zM369.3 160.2zM350.5 149.7zM379.2 151.8zM365.3 138.4zM378.6 151.0zM351.5 168.5zM374.5 135.0zM355.1 148.7zM351.5 156.2zM375.4 133.7zM368.3 137.0zM354.6 166.1zM353.2 158.1zM356.5 170.4zM353.9 170.5zM384.5 138.0zM367.3 133.0zM360.7 141.1zM379.1 131.0zM354.8 160.3zM369.3 133.2zM368.3 160.6zM370.3 136.3zM347.6 169.0zM371.8 135.6zM379.2 134.4zM352.8 151.0zM367.7 136.5zM382.9 144.6zM364.9 140.7zM381.5 131.5zM392.2 139.8zM363.0 163.4zM356.5 168.0zM380.4 127.4zM380.1 133.1zM357.0 144.3zM379.9 148.5zM390.9 138.7zM384.5 133.8zM383.7 143.7zM386.5 138.4zM366.1 161.8zM354.8 150.5zM392.3 125.6zM362.9 162.5zM369.3 159.4zM382.4 152.1zM372.3 133.6zM375.5 156.3zM348.6 155.6zM354.5 160.9zM375.9 156.3zM347.3 152.3zM381.2 146.8zM389.1 142.4zM370.9 131.8zM381.5 134.1zM341.6 172.2zM377.1 132.8zM355.4 166.4zM368.4 136.7zM359.2 165.2zM386.4 130.4zM388.9 135.6zM360.5 140.9zM364.1 137.3zM383.4 122.6zM384.7 140.2zM385.5 126.7zM359.4 144.9zM365.7 139.5zM377.4 154.1zM385.9 132.5zM353.3 145.5zM353.6 162.4zM361.1 143.1zM381.0 131.2zM361.4 144.0zM355.8 146.5zM359.5 144.2zM364.6 164.9zM354.6 176.5zM385.4 138.2zM391.3 141.6zM372.0 130.0zM354.6 154.9zM369.6 159.5zM369.4 135.0zM355.7 161.9zM356.0 170.9zM357.5 147.8zM377.4 154.4zM382.5 146.3zM343.3 169.9zM352.6 167.2zM371.4 158.1zM375.6 132.6zM367.1 162.1zM382.0 150.2zM350.0 168.7zM353.9 160.9zM363.7 141.3zM355.1 164.4zM352.4 157.8zM373.9 130.8zM366.3 169.4zM371.1 161.5zM358.2 163.4zM342.0 161.1zM379.0 129.7zM383.5 144.1zM378.1 154.0zM370.6 161.7zM362.2 141.9zM383.1 132.7zM357.3 142.1zM366.1 168.2zM366.8 138.8zM353.5 156.6zM362.6 143.0zM365.0 140.9zM363.3 141.9zM380.8 149.6zM368.2 163.2zM382.1 136.0zM376.7 131.6zM383.2 145.4zM383.0 157.2zM379.3 149.3zM361.7 162.5zM348.7 159.6zM359.4 142.0zM386.6 128.2zM383.3 143.0zM360.6 166.3zM359.9 142.4zM362.2 143.1zM354.1 157.5zM364.7 164.2zM360.6 165.0zM369.7 160.9zM377.4 156.8zM360.3 139.7zM361.8 143.5zM382.5 148.6zM363.4 138.8zM359.7 144.3zM384.1 138.3zM360.6 163.8zM362.3 142.7zM384.9 142.8zM364.5 140.8zM386.1 126.3zM372.6 156.6zM379.9 151.8zM384.8 136.2zM364.2 162.7zM356.5 162.6zM345.4 154.2zM379.7 131.1zM354.2 160.9zM353.0 168.2zM383.7 128.4zM375.8 157.1zM360.5 145.1zM348.8 152.4zM364.5 136.8zM393.6 141.4zM351.3 162.0zM344.9 164.7zM375.3 157.3zM384.5 146.0zM353.6 152.6zM353.5 168.1zM363.3 142.0zM354.5 166.5zM357.5 147.2zM357.2 141.2zM353.0 168.3zM369.7 135.4zM378.9 152.0zM380.6 147.9zM387.4 137.2zM355.7 172.3zM379.8 133.1zM363.6 139.4zM355.8 149.0zM350.5 149.3zM359.5 162.4zM382.4 133.2zM373.1 158.1zM386.0 155.2zM356.9 141.9zM372.3 160.9zM370.6 158.7zM377.8 152.9zM351.2 158.4zM387.1 140.0zM373.9 134.0zM379.9 131.9zM384.0 135.3zM379.4 128.1zM376.5 154.0zM381.4 133.8zM340.4 154.7zM352.9 160.6zM362.4 137.6zM356.5 146.9zM387.0 134.5zM386.7 149.4zM352.5 152.6zM352.6 155.1zM352.8 161.4zM380.8 127.9zM349.1 153.0zM385.8 135.0zM353.6 158.3zM350.5 167.4zM386.1 135.4zM348.6 156.6zM356.7 161.8zM384.0 145.1zM383.0 149.5zM358.2 147.1zM383.3 141.0zM356.8 145.1zM376.0 164.5zM375.5 167.2zM351.5 161.7zM357.9 163.1zM388.0 138.3zM383.6 132.1zM392.6 126.1zM352.7 168.1zM374.6 129.5zM349.3 156.9zM383.2 137.8zM393.6 142.2zM352.1 151.0zM392.8 136.1zM374.4 162.3zM343.6 172.1zM369.5 160.2zM384.1 136.9zM376.9 156.9zM374.6 156.3zM361.4 143.0zM380.2 155.6zM372.3 157.1zM389.4 136.8zM387.6 129.9zM381.6 149.2zM387.0 144.1zM385.0 134.7zM375.3 130.0zM354.9 150.2zM358.2 167.4zM384.3 139.8zM355.1 160.5zM351.1 165.2zM350.9 154.3zM378.9 150.0zM377.6 151.9zM352.1 158.8zM358.6 165.0zM369.9 133.2zM380.6 148.0zM365.0 161.9zM368.4 162.4zM356.5 149.8zM379.4 151.4zM348.1 163.2zM353.7 154.9zM376.8 134.7zM381.1 134.3zM353.0 153.3zM350.6 173.1zM384.1 140.8zM389.5 139.7zM394.4 132.3zM350.8 160.0zM361.2 165.3zM352.4 160.4zM382.7 144.5zM350.1 161.5zM353.4 168.5zM373.2 161.8zM353.8 167.7zM354.5 154.7zM369.5 135.2zM350.1 155.8zM378.3 151.0zM384.4 142.2zM355.4 150.2zM348.4 152.9zM384.1 136.1zM368.1 161.8zM385.8 141.9zM358.3 142.7zM358.9 145.7zM369.2 137.7zM340.2 163.0zM356.9 168.0zM355.3 171.2zM355.1 167.2zM367.3 134.8zM395.7 124.8zM377.9 153.1zM380.4 150.7zM367.9 133.9zM379.1 134.3zM384.0 153.9zM383.5 151.6zM386.3 140.1zM353.4 143.6zM372.4 156.7zM359.9 167.1zM382.1 130.3zM353.6 156.5zM346.8 168.2zM373.7 156.0zM371.4 158.8zM381.5 135.2zM379.6 133.6zM357.7 162.4zM381.8 130.5zM363.6 161.7zM378.4 158.9zM382.7 125.0zM355.8 149.7zM353.5 161.6zM361.6 142.5zM388.1 146.4zM379.9 153.1zM356.1 165.0zM346.8 159.6zM359.9 162.4zM352.7 164.8zM384.1 124.4zM378.5 155.5zM365.4 161.0zM386.1 136.4zM342.6 156.6zM355.9 151.2zM382.9 132.3zM353.3 166.6zM354.7 165.8zM384.1 135.2zM382.1 149.1zM369.8 159.4zM371.4 133.6zM353.5 152.3zM374.4 156.0zM372.4 158.2zM387.5 133.4zM369.1 161.0zM385.7 132.3zM348.9 161.1zM382.8 132.3zM376.8 154.2zM372.2 134.9zM367.7 138.5zM375.0 154.5zM355.8 147.7zM354.2 160.8zM384.0 126.8zM354.1 156.3zM379.9 148.7zM362.0 163.5zM365.5 161.9zM359.2 143.1zM353.4 153.1zM368.7 164.8zM354.9 150.8zM375.1 159.8zM372.1 135.5zM361.3 143.9zM372.4 158.2zM350.1 158.1zM349.1 156.0zM384.9 148.0zM365.3 140.3zM383.5 142.5zM376.2 131.7zM370.7 162.5zM361.8 166.8zM386.6 134.9zM380.7 134.3zM379.1 151.0zM372.4 160.4zM367.3 137.7zM354.6 157.1zM386.8 142.3zM387.4 163.6zM377.6 156.9zM370.2 134.7zM363.1 162.6zM360.2 162.4zM368.6 134.1zM359.0 146.9zM384.6 130.2zM359.5 140.2zM382.3 173.7zM355.2 148.8zM358.4 167.3zM369.2 159.4zM383.1 150.3zM360.4 162.3zM352.8 163.4zM371.9 159.2zM354.5 145.7zM356.1 163.2zM365.1 140.4zM360.4 144.7zM388.6 127.5zM389.6 141.5zM351.8 154.4zM372.5 134.2zM369.0 135.8zM370.0 160.0zM357.2 166.2zM378.0 153.1zM355.1 159.9zM354.6 166.8zM355.7 164.0zM370.5 131.3zM355.3 151.9zM382.4 144.8zM389.7 139.0zM358.7 168.4zM388.8 129.2zM353.0 150.0zM375.2 164.7zM355.6 164.1zM381.6 135.3zM387.2 141.0zM383.2 135.9zM362.0 140.4zM354.7 155.5zM370.9 133.5zM361.0 142.2zM352.3 164.3zM375.3 124.5zM365.7 162.2zM368.0 160.9zM382.9 144.5zM375.1 155.1zM372.6 135.0zM385.8 129.3zM348.3 163.2zM355.9 151.9zM381.4 133.4zM385.0 138.2zM381.2 147.2zM381.7 134.1zM360.4 140.9zM374.7 132.5zM357.6 145.0zM374.8 134.1zM365.2 140.2zM385.2 140.1zM369.2 137.7zM382.6 134.9zM357.3 169.9zM353.9 157.4zM383.3 137.2zM374.9 132.0zM379.4 134.5zM359.2 165.7zM353.3 151.0zM363.0 139.6zM349.1 175.5zM353.8 146.5zM387.7 146.1zM371.8 160.5zM388.1 137.5zM363.3 139.9zM378.4 134.6zM364.1 166.4zM385.7 136.3zM387.0 130.6zM360.5 167.0zM357.3 149.6zM384.1 134.1zM386.0 149.6zM342.1 152.5zM386.9 126.1zM350.2 159.2zM387.5 131.1zM344.2 174.2zM358.5 162.4zM388.2 162.6zM375.2 154.5zM351.6 149.7zM373.8 158.8zM371.3 157.9zM367.5 164.8zM354.0 160.6zM357.0 165.1zM384.4 142.5zM377.0 131.8zM380.9 147.8zM382.2 144.9zM375.0 128.9zM388.8 134.5zM383.5 141.7zM359.2 143.5zM363.6 162.7zM383.5 149.2zM364.3 141.1zM347.0 164.9zM364.2 136.3zM352.4 165.8zM358.0 132.8zM350.4 158.3zM390.7 127.8zM369.5 136.3zM343.5 159.4zM366.1 163.6zM364.3 163.7zM358.6 163.0zM381.9 133.1zM356.4 163.1zM352.8 167.0zM384.0 126.6zM346.3 167.2zM382.1 129.8zM358.0 170.8zM383.1 145.5zM367.3 135.9zM385.0 134.4zM378.3 127.0zM372.2 134.0zM373.0 169.8zM362.0 142.2zM350.2 156.0zM385.1 139.1zM370.4 136.9zM351.8 163.2zM369.1 163.7zM358.3 165.3zM381.1 149.5zM387.9 145.0zM369.6 162.1zM357.3 162.4zM358.9 141.5zM358.0 148.6zM361.8 143.8zM356.6 167.4zM364.5 161.6zM360.3 163.3zM347.3 159.9zM375.2 155.1zM358.7 167.2zM378.5 151.0zM355.3 151.3zM352.6 147.8zM379.4 150.2zM386.6 129.0zM354.1 168.6zM381.7 129.6zM343.3 177.8zM346.7 159.9zM377.7 154.7zM379.1 150.1zM386.4 138.4zM371.4 136.5zM365.8 136.7zM368.5 137.5zM376.1 154.1zM383.6 144.1zM378.9 134.5zM389.6 136.6zM362.6 173.1zM360.7 140.5zM377.1 154.5zM360.6 163.7zM359.3 141.5zM376.6 158.9zM364.7 163.0zM351.7 171.8zM382.8 136.3zM374.6 157.9zM361.0 143.3zM384.2 135.4zM383.8 139.9zM353.7 152.9zM388.9 133.5zM385.9 139.0zM381.7 127.6zM382.5 125.0zM359.0 143.8zM376.1 133.0zM346.8 160.4zM351.1 145.3zM375.8 159.6zM349.5 172.6zM366.4 161.8zM379.4 152.5zM383.1 142.7zM384.2 134.5zM383.1 144.2zM356.6 168.6zM351.9 154.3zM380.0 131.1zM354.5 149.8zM383.9 139.4zM354.4 158.6zM371.6 159.6zM350.9 153.3zM353.0 152.9zM371.3 134.9zM380.6 134.0zM374.1 131.7zM383.7 140.8zM385.3 139.0zM367.2 135.5zM349.5 165.3zM382.8 133.1zM368.1 161.0zM386.7 123.6zM360.1 145.3zM350.1 148.1zM354.6 167.9zM380.0 152.5zM364.3 168.1zM383.5 150.4zM355.6 162.6zM362.5 140.7zM381.5 153.7zM379.4 151.6zM375.5 134.7zM375.8 129.4zM380.4 149.4zM352.3 159.5zM361.0 143.7zM374.7 134.1zM381.5 134.2zM353.5 163.6zM354.6 156.2zM352.0 159.6zM351.8 157.8zM382.4 130.1zM359.6 169.9zM355.2 152.5zM353.8 157.5zM351.2 159.7zM353.2 161.4zM356.0 163.0zM378.5 158.2zM362.2 143.0zM380.2 134.5zM357.4 165.2zM350.0 165.9zM383.9 140.0zM361.1 143.2zM355.4 147.5zM352.8 158.4zM356.9 162.0zM358.9 164.8zM353.9 150.4zM381.6 146.5zM380.8 150.5zM352.8 154.3zM383.8 138.0zM383.9 140.9zM355.3 151.2zM363.6 164.0zM368.3 160.6zM372.9 158.9zM384.9 138.7zM390.5 135.7zM361.9 164.3zM351.3 146.3zM373.6 135.6zM384.4 135.8zM373.9 161.5zM345.1 161.5zM381.3 134.7zM360.0 143.6zM352.2 157.5zM351.1 161.8zM367.5 137.2zM353.0 151.2zM384.9 130.7zM375.1 134.7zM384.5 136.9zM354.4 164.9zM396.6 132.1zM390.8 143.0zM353.3 161.4zM346.2 173.6zM386.7 138.6zM354.2 152.4zM385.3 134.6zM353.4 156.6zM382.0 131.8zM384.4 133.8zM394.1 146.2zM394.0 123.4zM364.8 138.0zM349.6 153.7zM369.0 160.8zM377.1 133.0zM367.5 161.1zM347.0 169.7zM383.1 134.6zM361.8 167.3zM359.5 165.1zM362.7 141.3zM371.5 157.9zM376.0 155.3zM351.7 158.3zM361.7 141.6zM382.3 148.0zM367.6 138.1zM363.1 162.1zM359.0 167.9zM360.8 143.0zM380.9 151.9zM381.8 150.5zM389.8 136.0zM370.3 132.9zM364.3 163.7zM361.8 163.2zM353.0 164.6zM377.3 130.2zM353.7 147.7zM348.4 163.0zM355.1 161.2zM375.4 157.0zM373.9 155.8zM355.2 167.0zM353.3 162.3zM383.6 138.5zM365.8 163.6zM348.8 167.3zM352.3 161.6zM389.1 134.5zM386.4 135.1zM383.8 143.1zM345.3 169.5zM381.5 134.0zM375.8 159.3zM351.0 164.2zM383.2 135.5zM354.5 157.6zM373.0 160.1zM383.2 151.2zM353.3 164.3zM360.5 143.9zM384.6 127.8zM372.7 130.8zM367.5 136.1zM354.6 165.6zM354.5 146.8zM370.0 159.9zM351.4 157.2zM345.6 166.4zM356.2 147.1zM348.8 165.9zM353.1 161.1zM383.1 126.6zM363.4 162.2zM379.5 131.3zM350.9 156.6zM373.3 156.4zM364.0 137.5zM372.9 159.0zM358.9 147.4zM381.8 150.1zM381.2 148.0zM378.5 132.8zM365.4 136.4zM358.8 166.0zM370.4 163.0zM374.1 155.4zM369.8 164.4zM376.5 132.1zM394.0 129.3zM386.1 139.7zM383.1 141.9zM387.3 140.5zM362.7 173.0zM349.9 171.1zM351.5 164.3zM359.8 166.0zM384.4 145.1zM354.0 166.9zM374.8 134.3zM382.9 133.0zM361.0 141.3zM383.9 145.7zM365.8 167.4zM385.5 132.7zM385.2 139.6zM368.2 134.0zM360.9 144.8zM357.2 147.2zM351.2 171.2zM388.4 138.7zM369.3 131.8zM364.7 166.8zM358.4 137.4zM354.5 155.0zM369.2 137.5zM364.7 133.7zM387.9 131.9zM353.0 149.5zM356.3 161.7zM370.4 159.4zM372.8 127.7zM366.8 136.9zM382.3 150.4zM382.2 145.5zM385.5 138.3zM377.2 156.2zM388.1 149.6zM375.7 154.1zM353.4 164.0zM350.6 162.9zM374.8 156.2zM363.8 140.5zM354.9 152.3zM382.7 133.6zM351.4 161.7zM380.1 131.4zM358.7 146.9zM374.9 155.2zM383.8 130.4zM354.3 160.5zM364.2 140.1zM352.4 152.0zM361.1 141.2zM380.4 131.2zM345.0 151.0zM360.1 162.7zM381.5 155.4zM353.8 159.5zM381.4 133.5zM359.0 163.6zM380.0 134.5zM382.0 156.1zM369.6 135.4zM350.2 157.8zM383.1 137.6zM370.7 160.8zM385.7 135.5zM376.7 133.0z" stroke="#000" stroke-width=".85" stroke-linecap="round" stroke-linejoin="round" fill="none"/>
<g font-family="Liberation Sans, sans-serif" font-size="2.7" fill="#555">
<text x="330.0" y="195.6" text-anchor="middle">0</text>
<rect x="329.85" y="190.7" width=".3" height="1" fill="#888" stroke="none"/>
<text x="348.2" y="195.6" text-anchor="middle">2</text>
<rect x="348.05" y="190.7" width=".3" height="1" fill="#888" stroke="none"/>
<text x="366.3" y="195.6" text-anchor="middle">4</text>
<rect x="366.15" y="190.7" width=".3" height="1" fill="#888" stroke="none"/>
<text x="384.5" y="195.6" text-anchor="middle">6</text>
<rect x="384.35" y="190.7" width=".3" height="1" fill="#888" stroke="none"/>
<text x="323.8" y="188.8" text-anchor="end">0</text>
<rect x="326.2" y="187.65" width="1" height=".3" fill="#888" stroke="none"/>
<text x="323.8" y="179.5" text-anchor="end">1</text>
<rect x="326.2" y="178.35" width="1" height=".3" fill="#888" stroke="none"/>
<text x="323.8" y="170.3" text-anchor="end">2</text>
<rect x="326.2" y="169.15" width="1" height=".3" fill="#888" stroke="none"/>
<text x="323.8" y="161.0" text-anchor="end">3</text>
<rect x="326.2" y="159.85" width="1" height=".3" fill="#888" stroke="none"/>
<text x="323.8" y="151.8" text-anchor="end">4</text>
<rect x="326.2" y="150.65" width="1" height=".3" fill="#888" stroke="none"/>
<text x="323.8" y="142.5" text-anchor="end">5</text>
<rect x="326.2" y="141.35" width="1" height=".3" fill="#888" stroke="none"/>
<text x="323.8" y="133.3" text-anchor="end">6</text>
<rect x="326.2" y="132.15" width="1" height=".3" fill="#888" stroke="none"/>
<text x="323.8" y="124.0" text-anchor="end">7</text>
<rect x="326.2" y="122.85" width="1" height=".3" fill="#888" stroke="none"/>
<text x="331.1" y="125.1" font-size="3.3" fill="#111">P&lt;0.01</text>
<text x="331.1" y="129.5" font-size="3.3" fill="#111">R = 0.5</text>
</g>
<text x="349.3" y="201.4" textLength="28.1" lengthAdjust="spacingAndGlyphs" font-family="Liberation Sans, sans-serif" font-size="3.95" fill="#222" stroke="#222" stroke-width=".1">log2(stk38 TPM)</text>
<text transform="translate(316.6 168.2) rotate(-90)" textLength="26.2" lengthAdjust="spacingAndGlyphs" font-family="Liberation Sans, sans-serif" font-size="3.95" fill="#222" stroke-width=".1" stroke="#222">log2(<tspan fill="#e8332a" stroke="#e8332a">SP1</tspan> TPM)</text>
<rect x="421.9" y="120.5" width="73.0" height="70.2" fill="#fff" stroke="#c4c4c4" stroke-width=".5"/>
<ellipse cx="463.4" cy="151" rx="19.6" ry="8.0" transform="rotate(-42 463.4 151)" fill="#000"/>
<path d="M480.3 148.4zM457.7 145.3zM449.5 163.7zM469.1 158.5zM473.0 172.2zM456.4 146.3zM482.3 146.8zM478.0 135.6zM473.1 125.2zM463.8 140.3zM476.2 131.2zM456.4 170.1zM476.3 147.3zM449.0 153.6zM448.5 157.6zM446.4 156.3zM449.2 156.4zM479.4 141.8zM467.6 137.6zM470.3 160.2zM448.2 166.5zM450.0 152.9zM457.7 165.2zM480.6 144.2zM438.5 166.1zM481.6 136.1zM464.8 140.2zM475.5 136.0zM448.7 167.1zM447.9 160.7zM446.9 153.5zM455.3 165.1zM465.1 166.4zM455.0 146.3zM464.0 162.3zM474.3 151.4zM477.2 132.3zM463.9 165.8zM478.2 141.7zM447.4 156.0zM442.9 169.5zM479.2 138.2zM449.8 152.9zM448.4 163.9zM445.8 158.7zM444.8 167.4zM478.1 148.0zM477.0 133.3zM470.8 157.6zM469.5 135.8zM488.2 128.0zM485.9 134.9zM467.1 138.7zM451.7 167.3zM484.5 142.6zM476.1 136.4zM455.0 165.5zM450.6 166.1zM447.9 155.0zM447.1 159.0zM459.9 162.7zM474.7 136.5zM454.6 165.9zM480.8 147.4zM461.7 170.1zM464.7 160.6zM445.7 158.5zM446.8 157.1zM447.8 166.7zM477.0 130.0zM443.7 163.7zM479.2 142.3zM471.6 135.6zM451.4 152.5zM454.5 164.6zM444.6 155.4zM465.6 139.0zM460.3 165.5zM485.9 138.2zM455.7 142.9zM483.6 141.8zM472.2 137.3zM468.5 158.9zM451.7 164.9zM472.0 133.8zM485.3 139.0zM483.8 140.7zM448.8 168.8zM454.7 137.4zM483.5 141.7zM479.1 145.9zM457.4 140.0zM476.6 136.8zM487.7 140.1zM479.0 139.0zM487.5 141.4zM443.3 160.1zM466.9 136.0zM475.4 133.6zM451.1 166.4zM448.4 162.4zM469.9 157.3zM474.2 165.0zM448.9 168.8zM476.4 151.9zM479.6 140.1zM465.7 139.1zM483.8 140.0zM478.9 135.6zM466.7 160.1zM464.4 161.9zM483.8 141.9zM448.5 164.7zM460.0 163.1zM478.6 149.2zM473.1 135.3zM470.9 136.7zM450.0 167.1zM482.0 132.8zM476.0 147.9zM477.7 131.6zM470.0 137.0zM477.3 137.9zM478.3 143.5zM452.6 148.7zM452.7 166.2zM445.6 159.1zM474.8 154.4zM446.7 166.1zM473.7 135.2zM444.4 164.6zM472.1 134.1zM482.7 130.2zM454.0 149.2zM476.4 154.3zM487.8 147.5zM459.4 141.8zM447.9 158.3zM492.5 121.5zM444.5 170.3zM447.1 162.9zM456.2 142.8zM468.8 156.7zM450.8 150.6zM453.6 167.0zM479.3 147.4zM465.0 162.7zM447.3 160.1zM463.6 137.7zM475.3 156.9zM463.3 162.2zM475.8 137.1zM451.5 167.2zM452.9 171.0zM447.7 158.1zM468.3 161.3zM453.9 165.9zM481.0 142.2zM471.3 155.6zM443.1 159.7zM450.9 165.2zM480.5 130.6zM441.4 156.4zM477.2 151.1zM461.8 137.4zM482.7 139.9zM482.2 146.3zM476.5 150.5zM446.6 160.6zM451.9 149.0zM470.5 155.4zM452.7 151.3zM444.7 158.6zM470.7 136.2zM448.4 158.7zM471.4 155.2zM463.8 170.8zM484.6 122.6zM458.8 141.0zM456.2 166.6zM474.5 135.6zM483.8 131.0zM473.6 133.6zM451.8 166.5zM443.9 166.4zM477.0 136.2zM463.0 141.4zM462.1 129.9zM474.0 150.9zM478.2 149.0zM456.4 145.5zM442.9 155.9zM472.4 157.8zM487.2 142.5zM449.5 166.3zM467.4 159.7zM448.3 162.9zM477.7 148.9zM473.1 133.4zM457.9 164.4zM477.8 152.2zM477.8 150.3zM461.2 162.3zM467.1 136.2zM448.5 151.2zM463.6 141.3zM483.0 139.2zM470.4 158.4zM458.4 139.6zM455.7 145.9zM466.3 139.0zM473.3 135.6zM452.3 164.7zM477.8 147.8zM474.6 136.5zM458.3 166.3zM469.4 136.4zM470.3 133.9zM473.5 152.2zM441.1 162.3zM445.1 159.5zM457.8 142.1zM444.5 162.6zM467.2 136.2zM470.1 134.6zM469.5 135.7zM472.0 131.7zM463.9 140.9zM440.2 164.4zM465.1 164.3zM445.6 160.4zM440.9 175.0zM442.8 170.6zM449.2 164.0zM478.8 143.4zM461.8 163.4zM474.9 136.1zM465.0 135.8zM481.2 137.4zM452.2 169.7zM473.8 152.5zM484.3 138.2zM464.6 162.1zM477.0 145.8zM475.8 136.4zM481.9 132.9zM448.7 153.9zM471.7 154.8zM478.5 141.4zM487.0 131.2zM464.3 139.3zM462.4 165.5zM472.5 153.7zM483.2 138.9zM443.1 161.8zM461.4 162.4zM445.9 169.7zM482.9 154.3zM455.8 165.4zM449.7 163.7zM444.0 168.5zM462.6 140.4zM463.8 137.7zM473.1 137.4zM462.2 162.2zM472.2 153.6zM473.0 152.6zM459.0 140.9zM484.6 138.6zM453.3 135.7zM479.6 148.9zM445.3 171.8zM471.8 155.6zM468.5 160.5zM445.1 165.9zM473.3 137.3zM479.9 141.6zM478.7 130.8zM447.8 159.5zM477.1 154.9zM447.4 182.4zM459.6 163.2zM471.7 135.0zM469.6 131.3zM479.7 140.1zM481.7 142.1zM472.9 135.3zM472.4 133.5zM456.1 147.3zM454.0 146.2zM482.2 144.0zM473.5 134.4zM464.5 138.0zM464.3 164.7zM445.5 171.4zM450.6 168.1zM479.1 133.5zM449.4 163.8zM446.2 162.4zM456.5 146.9zM450.1 153.2zM478.7 144.7zM479.4 143.4zM455.7 171.3zM487.9 126.2zM453.1 166.7zM476.9 148.9zM459.4 137.6zM446.4 155.8zM475.7 135.4zM478.2 138.5zM467.1 161.2zM450.1 166.9zM447.5 159.9zM440.1 166.1zM477.8 147.9zM469.8 137.3zM475.6 137.1zM463.7 139.1zM463.1 140.4zM475.0 137.2zM475.9 147.9zM475.4 149.4zM466.0 137.0zM464.6 139.3zM445.4 158.1zM447.0 160.2zM465.7 160.0zM478.1 142.3zM473.2 156.6zM452.7 151.4zM457.3 143.5zM468.4 137.1zM446.0 156.3zM449.1 167.3zM469.5 136.8zM480.5 130.3zM478.2 142.2zM479.0 140.8zM450.2 150.8zM448.5 157.7zM446.2 152.0zM458.2 144.3zM483.5 142.3zM445.2 161.2zM448.0 163.1zM480.1 146.3zM486.3 126.1zM465.5 138.3zM477.6 130.2zM476.3 154.1zM451.9 148.5zM461.1 143.1zM481.7 145.4zM479.1 146.8zM469.1 159.1zM470.1 157.7zM464.5 160.3zM459.5 165.3zM466.8 131.9zM470.6 156.1zM478.3 141.8zM445.3 160.0zM480.1 141.0zM463.2 165.8zM457.8 143.8zM455.2 164.7zM466.5 137.0zM476.7 147.6zM473.1 136.4zM463.3 135.5zM485.3 134.6zM436.9 163.4zM437.5 164.0zM451.3 166.9zM446.3 163.1zM448.2 154.5zM449.4 164.5zM457.2 169.0zM470.9 136.6zM471.6 136.3zM448.9 163.8zM477.8 149.2zM481.2 139.9zM456.5 167.5zM479.6 139.6zM449.9 169.1zM447.8 165.9zM453.4 147.1zM444.6 166.9zM450.1 147.4zM473.3 137.3zM479.2 128.2zM489.8 124.1zM483.2 137.5zM493.7 125.7zM461.4 142.1zM466.5 160.7zM478.9 142.7zM450.9 165.7zM431.1 162.2zM478.2 147.1zM454.1 148.4zM480.2 140.3zM449.6 165.1zM465.1 167.0zM475.6 149.6zM481.9 140.9zM478.3 139.8zM481.7 133.9zM473.3 151.9zM469.9 155.4zM453.0 168.6zM462.2 161.4zM452.6 171.6zM460.8 142.5zM448.6 167.8zM460.5 142.0zM455.1 146.9zM464.6 161.8zM477.2 137.7zM475.3 154.1zM445.3 155.9zM448.3 164.5zM447.3 156.9zM459.8 163.9zM449.9 153.1zM449.6 164.9zM451.4 165.0zM481.3 138.2zM445.1 160.5zM447.2 168.8zM471.8 154.2zM449.7 152.4zM446.9 163.1zM471.1 155.7zM476.0 148.8zM449.4 156.8zM447.8 174.3zM464.9 160.2zM438.5 156.7zM448.2 164.7zM455.5 165.2zM476.3 131.3zM449.9 165.1zM455.9 164.2zM453.1 138.3zM469.5 133.4zM458.6 145.0zM465.4 139.2zM434.1 163.7zM447.6 163.1zM448.8 156.6zM453.1 166.8zM474.8 149.6zM449.4 153.4zM451.6 172.5zM478.2 135.8zM445.5 165.2zM464.9 160.8zM482.6 143.3zM479.5 138.2zM483.4 144.8zM448.3 153.9zM471.1 130.6zM472.5 131.4zM472.5 135.1zM440.0 165.1zM472.8 153.9zM465.0 164.7zM474.2 135.8zM448.1 164.0zM446.9 158.3zM459.2 173.5zM466.0 164.3zM465.3 135.6zM471.6 137.1zM449.1 151.0zM447.1 161.3zM463.3 141.4zM463.4 136.5zM468.1 138.6zM469.7 157.8zM470.3 156.2zM447.3 162.8zM469.8 134.4zM469.4 157.2zM481.9 132.0zM459.2 167.0zM458.7 164.8zM448.2 156.4zM467.4 166.0zM456.9 141.4zM448.1 166.9zM427.9 178.3zM448.6 181.4zM441.2 158.3zM455.7 164.4zM448.4 155.7zM455.1 147.8zM480.9 155.7zM443.5 157.6zM445.5 158.4zM478.1 147.1zM447.5 164.8zM447.6 166.0zM477.2 133.9zM476.1 135.6zM451.5 146.1zM459.1 163.2zM457.8 172.4zM456.4 143.1zM478.0 158.7zM450.5 164.4zM454.4 149.0zM472.2 137.1zM455.4 170.5zM452.4 167.7zM469.3 155.9zM468.2 157.7zM455.3 169.6zM446.8 163.2zM438.7 162.9zM475.3 153.4zM469.3 125.6zM447.3 151.7zM443.6 161.5zM444.2 152.8zM479.7 139.8zM482.0 139.6zM482.1 138.6zM473.0 154.9zM478.4 138.4zM477.9 148.7zM451.7 152.0zM446.3 164.9zM464.0 139.3zM477.9 154.2zM434.1 167.5zM472.8 135.8zM474.6 152.0zM455.6 142.2zM464.8 139.5zM476.4 147.4zM462.6 140.1zM451.3 165.1zM456.2 165.4zM468.0 138.6zM441.5 151.9zM447.6 159.3zM440.2 161.9zM457.9 164.9zM454.2 167.2zM465.0 139.4zM472.1 134.7zM448.3 159.6zM446.6 165.0zM434.3 174.1zM445.2 172.1zM445.9 165.1zM480.8 141.0zM433.2 156.9zM449.0 156.1zM448.0 154.7zM447.5 152.4zM445.0 171.0zM452.6 164.8zM469.1 138.4zM458.1 144.0zM470.2 156.9zM476.7 137.9zM482.5 142.3zM447.7 166.9zM478.7 152.3zM491.3 131.7zM448.7 161.8zM468.6 137.4zM483.4 131.2zM476.9 132.0zM475.6 135.5zM481.8 144.0zM451.5 152.5zM446.8 164.8zM457.3 164.7zM443.7 166.8zM455.6 165.3zM445.6 167.4zM474.6 136.6zM464.0 137.3zM449.8 165.9zM458.9 163.8zM462.7 163.8zM464.8 136.9zM460.0 143.7zM477.6 146.7zM450.3 153.1zM472.1 158.1zM490.0 143.9zM465.0 159.6zM484.6 146.6zM457.1 164.5zM455.5 169.3zM465.6 160.4zM474.7 132.8zM451.6 169.9zM483.9 138.5zM475.2 153.2zM474.8 151.8zM452.9 150.0zM454.6 145.3zM459.8 142.8zM454.5 165.2zM459.4 139.6zM476.4 147.2zM470.7 136.8zM443.6 161.2zM446.8 165.9zM483.4 129.7zM473.2 136.2zM449.0 164.0zM453.0 147.6zM464.5 163.3zM460.2 163.0zM473.4 151.5zM452.6 171.4zM454.2 168.8zM471.3 164.3zM445.7 160.8zM477.3 145.2zM448.9 164.5zM450.8 168.5zM471.0 137.0zM485.1 149.1zM478.7 138.2zM467.6 164.5zM479.9 145.1zM451.1 150.3zM449.2 153.0zM472.3 156.3zM442.6 160.4zM448.4 168.4zM447.4 156.6zM442.3 149.2zM452.8 147.2zM481.5 145.5zM463.1 139.5zM457.4 165.0zM466.3 162.9zM474.9 133.5zM476.5 148.3zM448.4 150.8zM468.0 157.4zM472.8 155.7zM451.1 165.2zM442.1 151.6zM448.9 165.2zM460.3 164.5zM464.3 138.7zM479.0 135.0zM446.4 169.2zM475.3 150.4zM447.3 161.9zM443.2 166.7zM449.3 163.2zM461.7 162.4zM474.4 155.9zM454.6 145.0zM478.7 144.1zM469.0 132.5zM446.4 160.0zM435.7 160.3zM450.1 152.5zM467.4 160.0zM477.5 137.8zM489.0 134.2zM478.8 137.8zM469.1 134.3zM446.2 167.5zM446.4 149.5zM455.6 146.1zM443.5 167.2zM454.1 167.3zM459.4 169.5zM455.0 166.2zM442.1 164.8zM467.5 166.0zM471.1 136.8zM450.6 154.4zM454.6 143.0zM447.8 157.4zM459.6 141.7zM462.2 141.6zM474.3 150.8zM449.2 148.9zM442.7 168.9zM448.2 159.8zM469.9 157.1zM453.2 150.3zM477.3 150.5zM463.4 161.5zM458.2 131.2zM473.2 137.0zM454.4 140.0zM477.6 137.7zM479.0 141.7zM475.2 135.5zM471.2 156.9zM447.4 151.4zM459.8 143.3zM446.9 165.8zM451.4 165.0zM455.5 165.4zM459.2 143.1zM459.2 143.2zM463.6 162.5zM458.9 168.3zM476.7 148.7zM467.9 159.4zM468.2 164.4zM452.9 148.4zM450.4 171.4zM477.9 155.3zM483.8 133.1zM477.0 135.1zM448.9 154.6zM483.0 142.7zM474.0 132.1zM479.3 148.5zM479.4 143.1zM480.7 139.6zM489.4 138.8zM451.7 164.8zM480.4 148.0zM471.1 158.3zM471.9 137.3zM474.9 150.7zM458.1 144.6zM468.0 137.2zM444.4 155.6zM455.3 143.5zM476.5 133.9zM478.6 152.7zM459.1 164.2zM470.7 136.9zM461.1 141.4zM478.0 144.6zM478.3 146.0zM445.8 162.2zM476.7 135.2zM454.8 146.9zM464.9 137.2zM477.3 135.0zM446.2 157.8zM443.6 170.0zM460.2 138.4zM470.9 155.1zM446.7 180.7zM449.2 156.1zM447.9 168.9zM451.5 150.7zM466.1 160.9zM471.5 154.5zM458.6 167.8zM468.4 162.7zM460.7 162.7zM443.7 166.0zM462.2 161.8zM470.6 158.0zM439.3 168.2zM456.3 145.7zM478.2 141.1zM475.6 135.6zM457.8 167.9zM458.4 164.1zM477.2 133.8zM481.1 139.6zM464.4 161.7zM451.0 167.3zM460.5 163.8zM482.8 136.2zM451.6 149.1zM474.3 157.2zM453.2 165.6zM448.0 159.7zM464.4 138.4zM452.0 167.2zM449.1 165.1zM462.8 138.0zM445.7 167.4zM448.0 159.0zM469.6 155.7zM479.9 137.9zM464.0 161.5zM477.4 136.8zM464.7 139.5zM451.4 166.7zM484.6 132.1zM446.4 172.5zM448.0 163.5zM462.5 161.3zM440.7 172.4zM478.1 147.8zM457.4 143.1zM448.3 167.5zM474.9 137.2zM465.4 160.7zM460.1 163.0zM464.2 160.3zM473.8 131.7zM448.9 165.6zM447.2 157.7zM462.5 140.9zM466.5 159.4zM468.2 158.1zM445.5 148.5zM464.0 160.4zM459.5 164.0zM443.8 154.7zM471.6 156.5zM461.8 163.6zM440.1 166.3zM450.0 151.1zM479.3 137.3zM458.5 170.5zM441.0 173.5zM465.0 163.2zM477.0 146.4zM477.3 132.0zM444.9 167.8zM478.6 140.6zM457.7 144.2zM479.9 141.9zM435.6 153.9zM478.7 139.1zM466.1 130.9zM467.9 137.3zM446.0 153.5zM447.3 160.5zM445.6 158.9zM476.9 137.7zM475.3 153.0zM477.7 133.8zM478.5 146.5zM458.3 164.6zM437.7 170.0zM463.5 140.4zM449.1 166.3zM467.4 159.3zM478.6 137.5zM471.9 133.4zM450.9 148.1zM457.3 164.6zM448.5 163.6zM466.6 136.8zM455.8 145.7zM449.8 151.3zM456.7 166.4zM463.4 166.3zM485.8 132.4zM447.0 176.1zM465.7 136.3zM476.1 147.9zM463.0 162.4zM449.7 174.0zM482.0 143.6zM458.4 143.7zM473.2 134.4zM444.4 167.1zM476.8 134.8zM473.5 153.6zM476.8 149.3zM488.6 130.1zM464.5 139.2zM457.9 144.1zM464.6 161.1zM480.3 130.2zM444.0 155.1zM445.3 170.7zM451.9 170.6zM436.5 177.2zM449.8 166.8zM448.2 156.1zM458.4 166.4zM453.2 147.2zM438.7 165.5zM467.9 137.3zM481.0 138.7zM472.8 156.5zM474.9 151.4zM424.6 169.3zM478.1 142.5zM478.4 147.2zM468.7 157.1zM447.1 166.1zM458.7 163.4zM448.3 164.9zM469.8 157.1zM481.4 144.8zM479.9 135.3zM451.5 167.9zM445.0 169.3zM463.5 137.1zM469.2 157.1zM461.6 163.0zM449.6 151.6zM454.7 168.1zM481.3 140.8zM480.8 134.6zM450.7 166.3zM448.6 168.5zM463.3 140.0zM473.9 152.3zM448.8 165.2zM448.3 172.6zM469.4 156.8zM467.7 158.1zM443.1 159.9zM453.3 167.0zM478.3 137.1zM449.0 171.1zM486.6 137.4zM457.7 166.6zM449.8 153.2zM461.1 166.7zM459.5 169.5zM474.0 151.4zM448.5 162.1zM467.8 137.1zM446.0 159.4zM484.4 127.3zM471.2 133.9zM445.2 165.8zM449.4 167.3zM479.3 145.5zM442.6 168.2zM443.4 143.9zM465.3 139.5zM452.6 150.8zM459.0 167.7zM482.9 134.8zM447.8 156.2zM447.7 155.9zM445.9 173.1zM474.6 155.1zM447.4 158.9zM453.2 146.4zM469.0 159.0zM450.5 170.9zM479.6 138.8zM450.9 167.0zM442.9 163.3zM486.4 135.2zM475.6 148.5zM481.2 148.7zM476.5 128.3zM438.6 167.7zM439.0 170.7zM449.4 155.0zM468.8 159.1zM481.5 134.2zM462.4 164.7zM473.7 154.1zM483.7 127.3zM451.3 152.3zM457.7 144.2zM455.7 143.7zM464.8 160.7zM446.1 160.4zM449.1 154.9zM458.5 169.9zM485.3 133.5zM478.3 138.3zM468.7 157.9zM479.5 140.6zM473.1 159.4zM477.5 146.5zM451.5 167.4zM446.5 163.4zM453.2 149.4zM476.7 130.0zM453.8 166.5zM459.4 164.9zM454.4 144.7zM460.1 140.6zM475.6 150.2zM467.7 161.0zM450.5 153.8zM470.9 134.6zM472.4 135.7zM448.6 163.3zM477.2 131.2zM472.6 134.6zM480.2 141.5zM465.2 140.1zM445.3 166.5zM481.9 143.1zM475.6 135.4zM454.9 147.0zM476.9 135.4zM447.8 159.2zM450.4 153.9zM447.4 171.2zM452.6 149.6zM483.8 135.2zM450.2 165.9zM455.1 168.1zM457.3 145.3zM446.2 163.9zM480.3 143.9zM453.9 148.6zM460.8 162.8zM478.1 145.1zM448.4 154.9zM475.9 137.0zM446.7 166.2zM473.5 156.2zM444.4 156.7zM474.6 133.7zM473.3 152.9zM450.6 174.4zM484.5 137.1zM446.5 171.0zM464.4 138.8zM457.8 145.0zM467.1 139.2zM458.4 167.6zM471.8 134.4zM456.8 167.4zM441.5 171.5zM468.5 158.1zM481.6 141.4zM470.4 157.3zM465.1 138.5zM448.5 164.7zM463.2 139.1zM482.8 146.2zM451.8 149.1zM472.6 155.0zM449.9 153.2zM479.8 136.6zM457.2 164.1zM453.5 144.5zM485.2 128.2zM441.0 160.6zM479.1 137.9zM450.2 153.9zM453.4 150.1zM461.1 141.6zM458.5 144.0zM481.7 145.3zM469.9 157.7zM480.7 142.7zM478.1 164.7zM487.2 140.7zM471.7 134.7zM467.2 137.7zM475.4 157.8zM463.9 134.8zM482.4 133.8zM479.0 134.5zM479.0 148.7zM479.8 135.4zM484.4 136.8zM452.2 173.3zM466.6 159.6zM451.8 151.5zM479.8 134.4zM448.9 152.0zM479.3 141.7zM442.9 159.5zM449.4 175.5zM460.7 142.7zM474.1 163.4zM441.2 167.9zM472.0 136.0zM446.8 166.8zM454.4 147.4zM448.2 168.7zM463.4 138.2zM458.3 167.7zM479.1 141.9zM459.3 167.5zM444.0 159.5zM457.5 165.2zM483.6 133.0zM435.6 170.2zM477.4 150.5zM475.4 136.5zM452.5 150.4zM462.1 137.9zM484.8 136.8zM468.3 134.1zM444.4 160.4zM455.2 147.3zM473.3 154.7zM437.5 185.4zM465.1 133.6zM481.9 146.6zM448.2 152.7zM476.8 153.5zM480.6 149.7zM471.4 137.6zM475.2 135.7zM483.0 130.3zM449.6 154.8zM448.3 171.7zM448.0 166.9zM442.3 176.2zM452.3 149.1zM455.0 144.7zM478.3 133.8zM470.0 137.2zM452.4 150.5zM475.0 150.9zM461.8 140.6zM461.4 137.0zM468.3 137.6zM486.5 141.3zM475.9 151.5zM476.1 149.4zM446.9 149.8zM449.9 151.0zM456.9 167.2zM457.6 145.8zM473.5 135.7zM450.5 151.8zM447.9 167.4zM458.7 143.2zM462.3 162.2zM480.5 145.5zM475.1 135.5zM449.4 165.4zM475.7 148.5zM472.7 134.6zM448.3 156.9zM447.7 171.0zM441.2 164.7zM453.2 165.3zM484.9 146.6zM445.9 156.2zM478.1 134.1zM456.8 164.3zM469.1 157.3zM449.5 164.2zM480.2 136.7zM456.8 143.4zM448.4 169.5zM475.5 151.9zM473.9 136.0zM482.5 128.9zM473.1 155.8zM478.0 144.5zM482.0 133.3zM470.6 158.3zM463.1 167.2zM476.8 152.5zM459.1 164.5zM446.1 165.7zM475.1 150.8zM467.8 161.0zM466.3 162.1zM468.4 137.1zM446.9 160.6zM480.1 139.2zM466.3 135.4zM448.4 162.2zM437.6 161.4zM482.2 140.1zM470.2 157.2zM450.4 151.6zM480.4 149.4zM455.3 148.3zM473.3 135.1zM445.4 164.4zM447.5 166.1zM459.9 139.7zM480.0 146.7zM450.1 167.5zM483.0 146.4zM467.3 165.9zM476.4 150.0zM450.9 146.0zM471.2 160.3zM446.0 146.6zM480.3 128.1zM454.8 146.8zM443.9 171.6zM475.5 151.4zM485.9 128.5zM457.4 165.7zM481.6 137.5zM450.0 166.2zM460.1 143.8zM471.6 156.8zM447.3 163.8zM464.8 138.6zM477.8 137.3zM451.9 169.0zM468.1 158.1zM485.0 138.9zM458.0 142.4zM442.6 159.5zM444.4 155.8zM478.5 134.8zM468.4 158.0zM461.3 139.9zM452.8 165.2zM465.1 135.3zM480.0 135.8zM462.4 163.9zM482.6 142.4zM445.8 153.1zM475.6 156.5zM468.5 138.3zM443.5 167.8zM478.5 166.1zM477.1 146.2zM471.2 155.5zM451.1 166.4zM451.2 172.9zM477.8 136.6zM449.5 152.2zM473.9 136.7zM473.3 124.5zM447.8 157.1zM452.3 166.0zM444.3 158.7zM448.8 170.8zM483.9 145.4zM473.6 153.9zM458.7 175.3zM455.9 164.5zM452.7 165.3zM486.8 149.7zM478.1 133.9zM455.8 144.4zM451.9 165.5zM489.2 133.7zM478.3 138.6zM446.9 161.8zM450.7 167.5zM461.8 142.0zM462.8 137.8zM475.8 137.6zM453.6 166.6zM466.7 158.9zM477.7 136.9zM475.5 151.1zM448.2 159.8zM480.8 139.8zM458.6 164.0zM445.7 160.4zM474.1 135.2zM471.8 132.0zM477.1 136.4zM450.7 165.5zM453.4 168.8zM475.2 133.5zM447.1 168.2zM478.6 140.6zM470.8 160.7zM456.1 165.8zM473.1 151.9zM439.9 166.7zM441.6 153.3zM475.0 137.0zM479.7 135.3zM460.8 165.1zM466.0 159.3zM487.6 137.4zM479.4 141.3zM442.1 173.3zM449.5 151.8zM465.1 135.0zM439.1 165.7zM457.0 143.9zM471.7 135.9zM462.8 164.1zM485.0 143.2zM450.7 154.3zM455.9 164.4zM490.3 131.8zM478.1 137.5zM464.6 139.7zM476.8 133.2zM454.6 166.6zM468.2 159.2zM474.4 129.3zM476.2 148.2zM480.7 153.7zM461.1 163.6zM446.4 170.3zM447.3 175.5zM476.0 135.2zM461.1 164.1zM451.4 149.5zM450.6 152.3zM466.5 138.1zM478.5 143.2zM453.5 148.1zM476.1 132.1zM448.0 160.3zM473.3 157.7zM447.0 158.5zM483.3 141.1zM445.8 158.8zM457.4 165.8zM463.7 138.1zM447.5 171.1zM459.4 142.0zM462.3 174.8zM456.7 145.8zM486.6 138.6zM481.6 129.0zM449.7 167.4zM470.4 135.5zM452.5 165.3zM465.9 138.5zM476.2 136.4zM453.7 138.6zM441.7 167.8zM479.3 135.3zM451.2 147.9zM439.7 153.8zM481.3 135.3zM463.0 141.5zM458.7 144.1zM447.7 160.8zM481.3 136.8zM427.6 162.7zM477.9 132.8zM476.1 148.1zM458.1 144.4zM455.9 146.4zM477.9 131.7zM448.3 154.6zM452.4 170.9zM473.0 155.0zM454.3 167.4zM452.5 150.6zM444.2 173.3zM481.6 137.0zM482.7 131.4zM450.5 164.2zM458.0 164.7zM445.6 157.6zM465.4 160.6zM474.7 136.6zM455.2 167.0zM466.0 158.8zM448.1 162.6zM446.5 161.5zM474.6 136.4zM480.8 127.4zM473.5 153.7zM471.2 136.3zM476.5 150.7zM470.4 156.4zM452.1 168.7zM452.9 165.9zM476.9 152.4zM479.0 135.8zM446.1 161.7zM484.0 132.3zM477.9 139.5zM440.9 173.1zM452.1 149.4zM476.8 146.4zM447.3 158.9zM443.2 159.5zM451.1 168.3zM479.5 129.7zM478.8 141.0zM480.1 142.4zM449.2 163.8zM483.5 144.6zM444.2 170.1zM483.6 134.8zM457.0 143.6zM479.7 142.4zM436.8 169.6zM448.2 162.3zM481.6 139.8zM484.3 128.5zM471.5 157.0zM452.8 166.1zM483.2 137.8zM465.9 161.6zM454.7 171.0zM445.0 158.2zM450.2 165.0zM448.8 152.3zM465.3 159.4zM441.9 170.1zM474.3 135.4zM491.4 131.6zM472.0 135.5zM441.7 162.0zM450.6 152.9zM465.3 159.8zM445.0 172.4zM448.0 157.1zM458.4 166.1zM472.2 136.1zM446.2 161.9zM467.3 159.8zM470.7 158.3zM478.2 135.3zM483.7 137.3zM484.6 141.9zM478.2 145.1zM456.3 135.5zM478.5 141.5zM479.3 132.3zM452.7 148.6zM442.5 171.0zM446.8 168.6zM452.8 173.3zM465.2 159.3zM451.6 173.0zM470.6 158.1zM454.9 166.1zM484.9 134.3zM472.6 128.9zM478.6 139.1zM477.0 135.4zM449.6 153.5zM477.1 136.3zM475.4 135.4zM482.8 137.5zM460.4 139.8zM466.8 137.8zM477.6 138.6zM461.4 165.9zM447.0 164.1zM473.0 152.5zM447.1 146.3zM456.4 165.3zM456.7 164.8zM460.8 140.5zM449.2 165.1zM473.4 136.4zM465.6 169.9zM457.6 142.5zM478.8 136.7zM463.7 163.2zM479.5 139.7zM476.0 131.7zM460.3 142.7zM460.7 136.3zM452.2 166.5zM451.4 167.4zM477.2 137.2zM482.0 145.2zM482.7 138.1zM448.0 160.4zM450.1 154.5zM474.5 135.3zM445.4 147.1zM445.2 144.9zM434.8 173.0zM479.2 135.3zM483.3 140.3zM446.0 165.1zM485.5 137.9zM450.3 155.1zM461.0 164.7zM471.5 137.2zM483.3 137.4zM448.2 159.8zM468.7 157.7zM448.2 165.6zM478.3 139.2zM473.1 156.2zM474.9 154.4zM477.3 148.0zM483.4 147.0zM444.5 172.0zM470.3 157.6zM448.3 157.6zM474.4 151.1zM441.7 166.2zM459.6 163.6zM478.5 155.7zM471.7 158.7zM481.7 149.2zM478.0 147.2zM482.1 139.4zM461.6 142.2zM452.8 165.7zM448.6 165.8zM454.6 147.4zM477.4 132.1zM474.5 150.3zM445.1 166.0zM448.2 160.2zM470.7 133.2zM456.0 145.1zM475.0 135.8zM455.5 143.8zM451.2 170.2zM437.8 163.5zM486.6 141.1zM443.2 164.9zM452.8 150.3zM455.7 164.5zM478.2 145.4zM472.7 129.0zM461.3 162.5zM465.2 140.0zM447.6 161.7zM446.0 144.8zM486.1 137.0zM455.0 164.5zM450.9 165.6zM469.7 132.9zM480.3 138.0zM479.3 144.7zM448.1 167.1zM478.6 143.8zM454.2 168.4zM447.5 156.0zM465.1 160.6zM447.0 154.6zM453.0 164.7zM477.6 150.7zM444.6 167.9zM483.5 130.9zM454.0 164.8zM463.2 140.0zM480.4 140.1zM463.0 138.4zM444.0 162.9zM481.7 145.9zM473.2 133.5zM462.5 135.1zM449.1 154.0zM452.8 150.6zM482.4 141.4zM445.7 152.4zM475.3 150.6zM485.1 133.3zM444.4 153.5zM448.2 166.3zM462.0 141.3zM461.7 142.2zM448.4 156.9zM439.0 167.1zM454.1 148.3zM469.0 163.8zM470.1 156.0zM482.9 143.0zM464.3 138.3zM438.8 173.7zM479.6 132.9zM484.7 136.9zM447.1 164.4zM482.9 142.8zM480.3 147.2zM447.2 148.4zM442.7 176.6zM467.5 135.9zM451.1 167.5zM475.2 155.5zM473.4 129.6zM467.3 135.2zM470.1 156.1zM451.5 141.3zM447.7 165.0zM470.1 136.8zM467.8 157.4zM485.5 139.8zM473.1 135.5zM458.9 137.7zM479.9 130.9zM479.5 134.4zM483.7 134.2zM448.5 162.5zM479.8 138.8zM460.0 141.3zM489.4 129.2zM448.1 165.6zM478.3 137.3zM478.9 139.5zM475.6 155.3zM478.9 140.2zM451.7 175.9zM481.1 144.8zM458.5 165.2zM443.3 166.1zM477.9 150.4zM451.2 165.1zM442.9 162.1zM482.3 143.8zM491.0 131.7zM449.6 151.4zM448.9 176.1zM455.9 165.1zM465.7 159.4zM479.7 143.3zM452.0 165.5zM478.0 152.0zM477.3 147.5zM450.0 155.8zM447.5 155.7zM458.4 139.8zM484.2 133.4zM451.2 168.5zM450.0 164.9zM442.8 159.4zM478.7 139.3zM478.9 135.2z" stroke="#000" stroke-width=".85" stroke-linecap="round" stroke-linejoin="round" fill="none"/>
<g font-family="Liberation Sans, sans-serif" font-size="2.7" fill="#555">
<text x="424.5" y="195.6" text-anchor="middle">0</text>
<rect x="424.35" y="190.7" width=".3" height="1" fill="#888" stroke="none"/>
<text x="442.7" y="195.6" text-anchor="middle">2</text>
<rect x="442.55" y="190.7" width=".3" height="1" fill="#888" stroke="none"/>
<text x="460.8" y="195.6" text-anchor="middle">4</text>
<rect x="460.65" y="190.7" width=".3" height="1" fill="#888" stroke="none"/>
<text x="479.0" y="195.6" text-anchor="middle">6</text>
<rect x="478.85" y="190.7" width=".3" height="1" fill="#888" stroke="none"/>
<text x="418.5" y="188.5" text-anchor="end">0</text>
<rect x="420.9" y="187.35" width="1" height=".3" fill="#888" stroke="none"/>
<text x="418.5" y="172.5" text-anchor="end">2</text>
<rect x="420.9" y="171.35" width="1" height=".3" fill="#888" stroke="none"/>
<text x="418.5" y="156.5" text-anchor="end">4</text>
<rect x="420.9" y="155.35" width="1" height=".3" fill="#888" stroke="none"/>
<text x="418.5" y="140.5" text-anchor="end">6</text>
<rect x="420.9" y="139.35" width="1" height=".3" fill="#888" stroke="none"/>
<text x="418.5" y="124.5" text-anchor="end">8</text>
<rect x="420.9" y="123.35" width="1" height=".3" fill="#888" stroke="none"/>
<text x="425.8" y="125.1" font-size="3.3" fill="#111">P&lt;0.01</text>
<text x="425.8" y="129.5" font-size="3.3" fill="#111">R = 0.66</text>
</g>
<text x="443.9" y="201.4" textLength="28.1" lengthAdjust="spacingAndGlyphs" font-family="Liberation Sans, sans-serif" font-size="3.95" fill="#222" stroke="#222" stroke-width=".1">log2(stk38 TPM)</text>
<text transform="translate(411.6 171.0) rotate(-90)" textLength="35.6" lengthAdjust="spacingAndGlyphs" font-family="Liberation Sans, sans-serif" font-size="3.95" fill="#222" stroke-width=".1" stroke="#222">log2(<tspan fill="#e8332a" stroke="#e8332a">SRPK1</tspan> TPM)</text>
</g>
<g id="heatmap">
<rect x="244.2" y="298.2" width="277.40000000000003" height="36.0" fill="#f7f7f7" stroke="#d9d9d9" stroke-width=".5"/>
<rect x="246.05" y="300.10" width="5.2" height="4.8" fill="rgb(217, 82, 72)"/>
<rect x="252.95" y="300.10" width="5.2" height="4.8" fill="rgb(223, 103, 94)"/>
<rect x="259.85" y="300.10" width="5.2" height="4.8" fill="rgb(228, 124, 116)"/>
<rect x="266.75" y="300.10" width="5.2" height="4.8" fill="rgb(234, 146, 138)"/>
<rect x="273.75" y="300.20" width="5" height="4.6" fill="#fdf3f1"/>
<rect x="280.55" y="300.10" width="5.2" height="4.8" fill="rgb(228, 124, 116)"/>
<rect x="287.45" y="300.10" width="5.2" height="4.8" fill="rgb(234, 146, 138)"/>
<rect x="294.35" y="300.10" width="5.2" height="4.8" fill="rgb(217, 82, 72)"/>
<rect x="301.25" y="300.10" width="5.2" height="4.8" fill="rgb(223, 103, 94)"/>
<rect x="308.15" y="300.10" width="5.2" height="4.8" fill="rgb(223, 103, 94)"/>
<rect x="315.05" y="300.10" width="5.2" height="4.8" fill="rgb(234, 146, 138)"/>
<rect x="321.95" y="300.10" width="5.2" height="4.8" fill="rgb(234, 146, 138)"/>
<rect x="328.85" y="300.10" width="5.2" height="4.8" fill="rgb(217, 82, 72)"/>
<rect x="335.75" y="300.10" width="5.2" height="4.8" fill="rgb(244, 189, 183)"/>
<rect x="342.65" y="300.10" width="5.2" height="4.8" fill="rgb(228, 124, 116)"/>
<rect x="349.55" y="300.10" width="5.2" height="4.8" fill="rgb(217, 82, 72)"/>
<rect x="356.45" y="300.10" width="5.2" height="4.8" fill="rgb(234, 146, 138)"/>
<rect x="363.35" y="300.10" width="5.2" height="4.8" fill="rgb(239, 168, 161)"/>
<rect x="370.25" y="300.10" width="5.2" height="4.8" fill="rgb(234, 146, 138)"/>
<rect x="377.15" y="300.10" width="5.2" height="4.8" fill="rgb(223, 103, 94)"/>
<rect x="384.05" y="300.10" width="5.2" height="4.8" fill="rgb(244, 189, 183)"/>
<rect x="390.95" y="300.10" width="5.2" height="4.8" fill="rgb(234, 146, 138)"/>
<rect x="397.85" y="300.10" width="5.2" height="4.8" fill="rgb(223, 103, 94)"/>
<rect x="404.75" y="300.10" width="5.2" height="4.8" fill="rgb(217, 82, 72)"/>
<rect x="411.65" y="300.10" width="5.2" height="4.8" fill="rgb(234, 146, 138)"/>
<rect x="418.55" y="300.10" width="5.2" height="4.8" fill="rgb(234, 146, 138)"/>
<rect x="425.45" y="300.10" width="5.2" height="4.8" fill="rgb(234, 146, 138)"/>
<rect x="432.35" y="300.10" width="5.2" height="4.8" fill="rgb(228, 124, 116)"/>
<rect x="439.25" y="300.10" width="5.2" height="4.8" fill="rgb(239, 168, 161)"/>
<rect x="446.15" y="300.10" width="5.2" height="4.8" fill="rgb(223, 103, 94)"/>
<rect x="453.05" y="300.10" width="5.2" height="4.8" fill="rgb(228, 124, 116)"/>
<rect x="460.05" y="300.20" width="5" height="4.6" fill="#fff" stroke="#f3c9c2" stroke-width=".3" stroke-dasharray=".6 .5"/>
<rect x="466.85" y="300.10" width="5.2" height="4.8" fill="rgb(234, 146, 138)"/>
<rect x="473.75" y="300.10" width="5.2" height="4.8" fill="rgb(228, 124, 116)"/>
<rect x="480.65" y="300.10" width="5.2" height="4.8" fill="rgb(223, 103, 94)"/>
<rect x="487.55" y="300.10" width="5.2" height="4.8" fill="rgb(217, 82, 72)"/>
<rect x="494.45" y="300.10" width="5.2" height="4.8" fill="rgb(223, 103, 94)"/>
<rect x="501.35" y="300.10" width="5.2" height="4.8" fill="rgb(228, 124, 116)"/>
<rect x="508.25" y="300.10" width="5.2" height="4.8" fill="rgb(244, 189, 183)"/>
<rect x="515.15" y="300.10" width="5.2" height="4.8" fill="rgb(223, 103, 94)"/>
<rect x="246.05" y="306.95" width="5.2" height="4.8" fill="rgb(223, 103, 94)"/>
<rect x="252.95" y="306.95" width="5.2" height="4.8" fill="rgb(244, 189, 183)"/>
<rect x="259.85" y="306.95" width="5.2" height="4.8" fill="rgb(250, 210, 205)"/>
<rect x="266.75" y="306.95" width="5.2" height="4.8" fill="rgb(239, 168, 161)"/>
<rect x="273.75" y="307.05" width="5" height="4.6" fill="#fdf3f1"/>
<rect x="280.55" y="306.95" width="5.2" height="4.8" fill="rgb(223, 103, 94)"/>
<rect x="287.45" y="306.95" width="5.2" height="4.8" fill="rgb(234, 146, 138)"/>
<rect x="294.35" y="306.95" width="5.2" height="4.8" fill="rgb(228, 124, 116)"/>
<rect x="301.25" y="306.95" width="5.2" height="4.8" fill="rgb(244, 189, 183)"/>
<rect x="308.15" y="306.95" width="5.2" height="4.8" fill="rgb(234, 146, 138)"/>
<rect x="315.05" y="306.95" width="5.2" height="4.8" fill="rgb(250, 210, 205)"/>
<rect x="322.05" y="307.05" width="5" height="4.6" fill="#fff" stroke="#f3c9c2" stroke-width=".3" stroke-dasharray=".6 .5"/>
<rect x="328.85" y="306.95" width="5.2" height="4.8" fill="rgb(228, 124, 116)"/>
<rect x="335.75" y="306.95" width="5.2" height="4.8" fill="rgb(239, 168, 161)"/>
<rect x="342.65" y="306.95" width="5.2" height="4.8" fill="rgb(228, 124, 116)"/>
<rect x="349.55" y="306.95" width="5.2" height="4.8" fill="rgb(239, 168, 161)"/>
<rect x="356.45" y="306.95" width="5.2" height="4.8" fill="rgb(244, 189, 183)"/>
<rect x="363.35" y="306.95" width="5.2" height="4.8" fill="rgb(239, 168, 161)"/>
<rect x="370.25" y="306.95" width="5.2" height="4.8" fill="rgb(239, 168, 161)"/>
<rect x="377.15" y="306.95" width="5.2" height="4.8" fill="rgb(234, 146, 138)"/>
<rect x="384.05" y="306.95" width="5.2" height="4.8" fill="rgb(244, 189, 183)"/>
<rect x="390.95" y="306.95" width="5.2" height="4.8" fill="rgb(234, 146, 138)"/>
<rect x="397.85" y="306.95" width="5.2" height="4.8" fill="rgb(234, 146, 138)"/>
<rect x="404.75" y="306.95" width="5.2" height="4.8" fill="rgb(239, 168, 161)"/>
<rect x="411.65" y="306.95" width="5.2" height="4.8" fill="rgb(250, 210, 205)"/>
<rect x="418.55" y="306.95" width="5.2" height="4.8" fill="rgb(244, 189, 183)"/>
<rect x="425.45" y="306.95" width="5.2" height="4.8" fill="rgb(244, 189, 183)"/>
<rect x="432.35" y="306.95" width="5.2" height="4.8" fill="rgb(234, 146, 138)"/>
<rect x="439.25" y="306.95" width="5.2" height="4.8" fill="rgb(244, 189, 183)"/>
<rect x="446.15" y="306.95" width="5.2" height="4.8" fill="rgb(223, 103, 94)"/>
<rect x="453.05" y="306.95" width="5.2" height="4.8" fill="rgb(250, 210, 205)"/>
<rect x="460.05" y="307.05" width="5" height="4.6" fill="#fff" stroke="#f3c9c2" stroke-width=".3" stroke-dasharray=".6 .5"/>
<rect x="466.85" y="306.95" width="5.2" height="4.8" fill="rgb(239, 168, 161)"/>
<rect x="473.75" y="306.95" width="5.2" height="4.8" fill="rgb(234, 146, 138)"/>
<rect x="480.65" y="306.95" width="5.2" height="4.8" fill="rgb(228, 124, 116)"/>
<rect x="487.55" y="306.95" width="5.2" height="4.8" fill="rgb(234, 146, 138)"/>
<rect x="494.45" y="306.95" width="5.2" height="4.8" fill="rgb(239, 168, 161)"/>
<rect x="501.35" y="306.95" width="5.2" height="4.8" fill="rgb(250, 210, 205)"/>
<rect x="508.25" y="306.95" width="5.2" height="4.8" fill="rgb(239, 168, 161)"/>
<rect x="515.15" y="306.95" width="5.2" height="4.8" fill="rgb(228, 124, 116)"/>
<rect x="246.05" y="313.80" width="5.2" height="4.8" fill="rgb(223, 103, 94)"/>
<rect x="252.95" y="313.80" width="5.2" height="4.8" fill="rgb(228, 124, 116)"/>
<rect x="259.85" y="313.80" width="5.2" height="4.8" fill="rgb(228, 124, 116)"/>
<rect x="266.75" y="313.80" width="5.2" height="4.8" fill="rgb(244, 189, 183)"/>
<rect x="273.65" y="313.80" width="5.2" height="4.8" fill="rgb(250, 210, 205)"/>
<rect x="280.55" y="313.80" width="5.2" height="4.8" fill="rgb(250, 210, 205)"/>
<rect x="287.45" y="313.80" width="5.2" height="4.8" fill="rgb(234, 146, 138)"/>
<rect x="294.35" y="313.80" width="5.2" height="4.8" fill="rgb(223, 103, 94)"/>
<rect x="301.25" y="313.80" width="5.2" height="4.8" fill="rgb(234, 146, 138)"/>
<rect x="308.15" y="313.80" width="5.2" height="4.8" fill="rgb(234, 146, 138)"/>
<rect x="315.05" y="313.80" width="5.2" height="4.8" fill="rgb(244, 189, 183)"/>
<rect x="321.95" y="313.80" width="5.2" height="4.8" fill="rgb(239, 168, 161)"/>
<rect x="328.85" y="313.80" width="5.2" height="4.8" fill="rgb(228, 124, 116)"/>
<rect x="335.75" y="313.80" width="5.2" height="4.8" fill="rgb(239, 168, 161)"/>
<rect x="342.65" y="313.80" width="5.2" height="4.8" fill="rgb(234, 146, 138)"/>
<rect x="349.55" y="313.80" width="5.2" height="4.8" fill="rgb(234, 146, 138)"/>
<rect x="356.45" y="313.80" width="5.2" height="4.8" fill="rgb(239, 168, 161)"/>
<rect x="363.35" y="313.80" width="5.2" height="4.8" fill="rgb(239, 168, 161)"/>
<rect x="370.25" y="313.80" width="5.2" height="4.8" fill="rgb(234, 146, 138)"/>
<rect x="377.15" y="313.80" width="5.2" height="4.8" fill="rgb(228, 124, 116)"/>
<rect x="384.05" y="313.80" width="5.2" height="4.8" fill="rgb(223, 103, 94)"/>
<rect x="390.95" y="313.80" width="5.2" height="4.8" fill="rgb(228, 124, 116)"/>
<rect x="397.85" y="313.80" width="5.2" height="4.8" fill="rgb(228, 124, 116)"/>
<rect x="404.75" y="313.80" width="5.2" height="4.8" fill="rgb(228, 124, 116)"/>
<rect x="411.65" y="313.80" width="5.2" height="4.8" fill="rgb(223, 103, 94)"/>
<rect x="418.55" y="313.80" width="5.2" height="4.8" fill="rgb(239, 168, 161)"/>
<rect x="425.45" y="313.80" width="5.2" height="4.8" fill="rgb(234, 146, 138)"/>
<rect x="432.35" y="313.80" width="5.2" height="4.8" fill="rgb(228, 124, 116)"/>
<rect x="439.25" y="313.80" width="5.2" height="4.8" fill="rgb(234, 146, 138)"/>
<rect x="446.15" y="313.80" width="5.2" height="4.8" fill="rgb(228, 124, 116)"/>
<rect x="453.05" y="313.80" width="5.2" height="4.8" fill="rgb(244, 189, 183)"/>
<rect x="459.95" y="313.80" width="5.2" height="4.8" fill="rgb(244, 189, 183)"/>
<rect x="466.85" y="313.80" width="5.2" height="4.8" fill="rgb(228, 124, 116)"/>
<rect x="473.75" y="313.80" width="5.2" height="4.8" fill="rgb(239, 168, 161)"/>
<rect x="480.65" y="313.80" width="5.2" height="4.8" fill="rgb(234, 146, 138)"/>
<rect x="487.55" y="313.80" width="5.2" height="4.8" fill="rgb(223, 103, 94)"/>
<rect x="494.45" y="313.80" width="5.2" height="4.8" fill="rgb(228, 124, 116)"/>
<rect x="501.35" y="313.80" width="5.2" height="4.8" fill="rgb(234, 146, 138)"/>
<rect x="508.25" y="313.80" width="5.2" height="4.8" fill="rgb(244, 189, 183)"/>
<rect x="515.15" y="313.80" width="5.2" height="4.8" fill="rgb(234, 146, 138)"/>
<rect x="246.05" y="320.65" width="5.2" height="4.8" fill="rgb(223, 103, 94)"/>
<rect x="252.95" y="320.65" width="5.2" height="4.8" fill="rgb(228, 124, 116)"/>
<rect x="259.85" y="320.65" width="5.2" height="4.8" fill="rgb(244, 189, 183)"/>
<rect x="266.75" y="320.65" width="5.2" height="4.8" fill="rgb(239, 168, 161)"/>
<rect x="273.65" y="320.65" width="5.2" height="4.8" fill="rgb(234, 146, 138)"/>
<rect x="280.55" y="320.65" width="5.2" height="4.8" fill="rgb(250, 210, 205)"/>
<rect x="287.45" y="320.65" width="5.2" height="4.8" fill="rgb(234, 146, 138)"/>
<rect x="294.35" y="320.65" width="5.2" height="4.8" fill="rgb(223, 103, 94)"/>
<rect x="301.25" y="320.65" width="5.2" height="4.8" fill="rgb(234, 146, 138)"/>
<rect x="308.15" y="320.65" width="5.2" height="4.8" fill="rgb(234, 146, 138)"/>
<rect x="315.05" y="320.65" width="5.2" height="4.8" fill="rgb(250, 210, 205)"/>
<rect x="321.95" y="320.65" width="5.2" height="4.8" fill="rgb(234, 146, 138)"/>
<rect x="328.85" y="320.65" width="5.2" height="4.8" fill="rgb(223, 103, 94)"/>
<rect x="335.75" y="320.65" width="5.2" height="4.8" fill="rgb(228, 124, 116)"/>
<rect x="342.65" y="320.65" width="5.2" height="4.8" fill="rgb(228, 124, 116)"/>
<rect x="349.55" y="320.65" width="5.2" height="4.8" fill="rgb(239, 168, 161)"/>
<rect x="356.45" y="320.65" width="5.2" height="4.8" fill="rgb(239, 168, 161)"/>
<rect x="363.35" y="320.65" width="5.2" height="4.8" fill="rgb(239, 168, 161)"/>
<rect x="370.25" y="320.65" width="5.2" height="4.8" fill="rgb(234, 146, 138)"/>
<rect x="377.15" y="320.65" width="5.2" height="4.8" fill="rgb(223, 103, 94)"/>
<rect x="384.05" y="320.65" width="5.2" height="4.8" fill="rgb(239, 168, 161)"/>
<rect x="390.95" y="320.65" width="5.2" height="4.8" fill="rgb(223, 103, 94)"/>
<rect x="397.85" y="320.65" width="5.2" height="4.8" fill="rgb(228, 124, 116)"/>
<rect x="404.75" y="320.65" width="5.2" height="4.8" fill="rgb(223, 103, 94)"/>
<rect x="411.65" y="320.65" width="5.2" height="4.8" fill="rgb(228, 124, 116)"/>
<rect x="418.55" y="320.65" width="5.2" height="4.8" fill="rgb(239, 168, 161)"/>
<rect x="425.45" y="320.65" width="5.2" height="4.8" fill="rgb(234, 146, 138)"/>
<rect x="432.35" y="320.65" width="5.2" height="4.8" fill="rgb(234, 146, 138)"/>
<rect x="439.25" y="320.65" width="5.2" height="4.8" fill="rgb(234, 146, 138)"/>
<rect x="446.15" y="320.65" width="5.2" height="4.8" fill="rgb(228, 124, 116)"/>
<rect x="453.05" y="320.65" width="5.2" height="4.8" fill="rgb(234, 146, 138)"/>
<rect x="459.95" y="320.65" width="5.2" height="4.8" fill="rgb(239, 168, 161)"/>
<rect x="466.85" y="320.65" width="5.2" height="4.8" fill="rgb(234, 146, 138)"/>
<rect x="473.75" y="320.65" width="5.2" height="4.8" fill="rgb(228, 124, 116)"/>
<rect x="480.65" y="320.65" width="5.2" height="4.8" fill="rgb(234, 146, 138)"/>
<rect x="487.55" y="320.65" width="5.2" height="4.8" fill="rgb(234, 146, 138)"/>
<rect x="494.45" y="320.65" width="5.2" height="4.8" fill="rgb(234, 146, 138)"/>
<rect x="501.35" y="320.65" width="5.2" height="4.8" fill="rgb(234, 146, 138)"/>
<rect x="508.25" y="320.65" width="5.2" height="4.8" fill="rgb(239, 168, 161)"/>
<rect x="515.15" y="320.65" width="5.2" height="4.8" fill="rgb(234, 146, 138)"/>
<rect x="246.05" y="327.50" width="5.2" height="4.8" fill="rgb(217, 82, 72)"/>
<rect x="252.95" y="327.50" width="5.2" height="4.8" fill="rgb(239, 168, 161)"/>
<rect x="259.85" y="327.50" width="5.2" height="4.8" fill="rgb(228, 124, 116)"/>
<rect x="266.75" y="327.50" width="5.2" height="4.8" fill="rgb(217, 82, 72)"/>
<rect x="273.65" y="327.50" width="5.2" height="4.8" fill="rgb(234, 146, 138)"/>
<rect x="280.65" y="327.60" width="5" height="4.6" fill="#fdf3f1"/>
<rect x="287.45" y="327.50" width="5.2" height="4.8" fill="rgb(234, 146, 138)"/>
<rect x="294.35" y="327.50" width="5.2" height="4.8" fill="rgb(217, 82, 72)"/>
<rect x="301.25" y="327.50" width="5.2" height="4.8" fill="rgb(228, 124, 116)"/>
<rect x="308.15" y="327.50" width="5.2" height="4.8" fill="rgb(234, 146, 138)"/>
<rect x="315.05" y="327.50" width="5.2" height="4.8" fill="rgb(244, 189, 183)"/>
<rect x="321.95" y="327.50" width="5.2" height="4.8" fill="rgb(234, 146, 138)"/>
<rect x="328.85" y="327.50" width="5.2" height="4.8" fill="rgb(228, 124, 116)"/>
<rect x="335.75" y="327.50" width="5.2" height="4.8" fill="rgb(234, 146, 138)"/>
<rect x="342.65" y="327.50" width="5.2" height="4.8" fill="rgb(228, 124, 116)"/>
<rect x="349.55" y="327.50" width="5.2" height="4.8" fill="rgb(223, 103, 94)"/>
<rect x="356.45" y="327.50" width="5.2" height="4.8" fill="rgb(234, 146, 138)"/>
<rect x="363.35" y="327.50" width="5.2" height="4.8" fill="rgb(239, 168, 161)"/>
<rect x="370.25" y="327.50" width="5.2" height="4.8" fill="rgb(234, 146, 138)"/>
<rect x="377.15" y="327.50" width="5.2" height="4.8" fill="rgb(228, 124, 116)"/>
<rect x="384.05" y="327.50" width="5.2" height="4.8" fill="rgb(250, 210, 205)"/>
<rect x="390.95" y="327.50" width="5.2" height="4.8" fill="rgb(234, 146, 138)"/>
<rect x="397.85" y="327.50" width="5.2" height="4.8" fill="rgb(228, 124, 116)"/>
<rect x="404.75" y="327.50" width="5.2" height="4.8" fill="rgb(223, 103, 94)"/>
<rect x="411.65" y="327.50" width="5.2" height="4.8" fill="rgb(228, 124, 116)"/>
<rect x="418.55" y="327.50" width="5.2" height="4.8" fill="rgb(239, 168, 161)"/>
<rect x="425.45" y="327.50" width="5.2" height="4.8" fill="rgb(234, 146, 138)"/>
<rect x="432.35" y="327.50" width="5.2" height="4.8" fill="rgb(228, 124, 116)"/>
<rect x="439.25" y="327.50" width="5.2" height="4.8" fill="rgb(234, 146, 138)"/>
<rect x="446.15" y="327.50" width="5.2" height="4.8" fill="rgb(228, 124, 116)"/>
<rect x="453.05" y="327.50" width="5.2" height="4.8" fill="rgb(223, 103, 94)"/>
<rect x="459.95" y="327.50" width="5.2" height="4.8" fill="rgb(239, 168, 161)"/>
<rect x="466.85" y="327.50" width="5.2" height="4.8" fill="rgb(234, 146, 138)"/>
<rect x="473.75" y="327.50" width="5.2" height="4.8" fill="rgb(239, 168, 161)"/>
<rect x="480.65" y="327.50" width="5.2" height="4.8" fill="rgb(234, 146, 138)"/>
<rect x="487.55" y="327.50" width="5.2" height="4.8" fill="rgb(234, 146, 138)"/>
<rect x="494.45" y="327.50" width="5.2" height="4.8" fill="rgb(234, 146, 138)"/>
<rect x="501.35" y="327.50" width="5.2" height="4.8" fill="rgb(223, 103, 94)"/>
<rect x="508.25" y="327.50" width="5.2" height="4.8" fill="rgb(239, 168, 161)"/>
<rect x="515.15" y="327.50" width="5.2" height="4.8" fill="rgb(228, 124, 116)"/>
<g font-family="Liberation Sans, sans-serif" font-size="3.25" fill="#222" stroke="#222" stroke-width=".08">
<text transform="translate(247.55 296.0) rotate(90)" text-anchor="end">UVM (n=80)</text>
<text transform="translate(254.45 296.0) rotate(90)" text-anchor="end">UCS (n=57)</text>
<text transform="translate(261.35 296.0) rotate(90)" text-anchor="end">UCEC (n=545)</text>
<text transform="translate(268.25 296.0) rotate(90)" text-anchor="end">THYM (n=120)</text>
<text transform="translate(275.15 296.0) rotate(90)" text-anchor="end">THCA (n=509)</text>
<text transform="translate(282.05 296.0) rotate(90)" text-anchor="end">TGCT (n=150)</text>
<text transform="translate(288.95 296.0) rotate(90)" text-anchor="end">STAD (n=415)</text>
<text transform="translate(295.85 296.0) rotate(90)" text-anchor="end">SKCM-Primary (n=103)</text>
<text transform="translate(302.75 296.0) rotate(90)" text-anchor="end">SKCM-Metastasis (n=368)</text>
<text transform="translate(309.65 296.0) rotate(90)" text-anchor="end">SKCM (n=471)</text>
<text transform="translate(316.55 296.0) rotate(90)" text-anchor="end">SARC (n=260)</text>
<text transform="translate(323.45 296.0) rotate(90)" text-anchor="end">READ (n=166)</text>
<text transform="translate(330.35 296.0) rotate(90)" text-anchor="end">PRAD (n=498)</text>
<text transform="translate(337.25 296.0) rotate(90)" text-anchor="end">PCPG (n=181)</text>
<text transform="translate(344.15 296.0) rotate(90)" text-anchor="end">PAAD (n=179)</text>
<text transform="translate(351.05 296.0) rotate(90)" text-anchor="end">OV (n=303)</text>
<text transform="translate(357.95 296.0) rotate(90)" text-anchor="end">MESO (n=87)</text>
<text transform="translate(364.85 296.0) rotate(90)" text-anchor="end">LUSC (n=501)</text>
<text transform="translate(371.75 296.0) rotate(90)" text-anchor="end">LUAD (n=515)</text>
<text transform="translate(378.65 296.0) rotate(90)" text-anchor="end">LIHC (n=371)</text>
<text transform="translate(385.55 296.0) rotate(90)" text-anchor="end">LGG (n=516)</text>
<text transform="translate(392.45 296.0) rotate(90)" text-anchor="end">KIRP (n=290)</text>
<text transform="translate(399.35 296.0) rotate(90)" text-anchor="end">KIRC (n=533)</text>
<text transform="translate(406.25 296.0) rotate(90)" text-anchor="end">KICH (n=66)</text>
<text transform="translate(413.15 296.0) rotate(90)" text-anchor="end">HNSC-HPV+ (n=98)</text>
<text transform="translate(420.05 296.0) rotate(90)" text-anchor="end">HNSC-HPV- (n=422)</text>
<text transform="translate(426.95 296.0) rotate(90)" text-anchor="end">HNSC (n=522)</text>
<text transform="translate(433.85 296.0) rotate(90)" text-anchor="end">GBM (n=153)</text>
<text transform="translate(440.75 296.0) rotate(90)" text-anchor="end">ESCA (n=185)</text>
<text transform="translate(447.65 296.0) rotate(90)" text-anchor="end">DLBC (n=48)</text>
<text transform="translate(454.55 296.0) rotate(90)" text-anchor="end">COAD (n=458)</text>
<text transform="translate(461.45 296.0) rotate(90)" text-anchor="end">CHOL (n=36)</text>
<text transform="translate(468.35 296.0) rotate(90)" text-anchor="end">CESC (n=306)</text>
<text transform="translate(475.25 296.0) rotate(90)" text-anchor="end">BRCA-LumB (n=219)</text>
<text transform="translate(482.15 296.0) rotate(90)" text-anchor="end">BRCA-LumA (n=568)</text>
<text transform="translate(489.05 296.0) rotate(90)" text-anchor="end">BRCA-Her2 (n=82)</text>
<text transform="translate(495.95 296.0) rotate(90)" text-anchor="end">BRCA-Basal (n=191)</text>
<text transform="translate(502.85 296.0) rotate(90)" text-anchor="end">BRCA (n=1100)</text>
<text transform="translate(509.75 296.0) rotate(90)" text-anchor="end">BLCA (n=408)</text>
<text transform="translate(516.65 296.0) rotate(90)" text-anchor="end">ACC (n=79)</text>
</g>
<g font-family="Liberation Sans, sans-serif" font-size="2.95" fill="#222" stroke="#222" stroke-width=".06">
<text x="524" y="302.70">MAPK14</text>
<text x="524" y="309.55">NUMB</text>
<text x="524" y="316.40">PKN2</text>
<text x="524" y="323.25">SP1</text>
<text x="524" y="330.10">SRPK1</text>
</g>
<text x="434" y="231.2" font-family="Liberation Sans, sans-serif" font-size="6.6" fill="#111">Spearman_Cor</text>
<rect x="434.1" y="235" width="4.4" height="16.8" fill="url(#sp)"/>
<g font-family="Liberation Sans, sans-serif" font-size="5" fill="#111"><text x="441.6" y="237.1">1</text><text x="441.9" y="245.5">0</text><text x="441.8" y="253.9">−1</text></g>
<rect x="497.8" y="231.6" width="7" height="7" fill="#fff" stroke="#111" stroke-width=".7"/><path d="M497.8 231.6l7 7M504.8 231.6l-7 7" stroke="#111" stroke-width=".55"/>
<rect x="497.5" y="244.8" width="7.6" height="7.6" fill="#000"/>
<g font-family="Liberation Sans, sans-serif" font-size="7.5" fill="#111"><text x="512.6" y="237.3">p &gt; 0.05</text><text x="512.6" y="250.7">p &lt; 0.05</text></g>
</g>
<g id="dotplots">
<rect x="150" y="363.6" width="75" height="152.19999999999993" fill="#fff"/>
<rect x="152.4" y="363.6" width=".4" height="152.19999999999993" fill="#ebebeb"/>
<rect x="170.4" y="363.6" width=".4" height="152.19999999999993" fill="#ebebeb"/>
<rect x="188.20000000000002" y="363.6" width=".4" height="152.19999999999993" fill="#ebebeb"/>
<rect x="206.10000000000002" y="363.6" width=".4" height="152.19999999999993" fill="#ebebeb"/>
<rect x="223.8" y="363.6" width=".4" height="152.19999999999993" fill="#ebebeb"/>
<rect x="150" y="369.0" width="75" height=".4" fill="#ebebeb"/>
<rect x="150" y="379.8" width="75" height=".4" fill="#ebebeb"/>
<rect x="150" y="390.7" width="75" height=".4" fill="#ebebeb"/>
<rect x="150" y="401.5" width="75" height=".4" fill="#ebebeb"/>
<rect x="150" y="412.40000000000003" width="75" height=".4" fill="#ebebeb"/>
<rect x="150" y="423.2" width="75" height=".4" fill="#ebebeb"/>
<rect x="150" y="434.0" width="75" height=".4" fill="#ebebeb"/>
<rect x="150" y="444.90000000000003" width="75" height=".4" fill="#ebebeb"/>
<rect x="150" y="455.7" width="75" height=".4" fill="#ebebeb"/>
<rect x="150" y="466.6" width="75" height=".4" fill="#ebebeb"/>
<rect x="150" y="477.40000000000003" width="75" height=".4" fill="#ebebeb"/>
<rect x="150" y="488.2" width="75" height=".4" fill="#ebebeb"/>
<rect x="150" y="499.1" width="75" height=".4" fill="#ebebeb"/>
<rect x="150" y="509.90000000000003" width="75" height=".4" fill="#ebebeb"/>
<rect x="150" y="363.6" width="75" height="152.19999999999993" fill="none" stroke="#777" stroke-width=".85"/>
<text x="187.5" y="361.2" text-anchor="middle" font-family="Liberation Serif, serif" font-size="11" fill="#505050">GO</text>
<g font-family="Liberation Serif, serif" font-size="4.75" fill="#222" stroke="#222" stroke-width=".1">
<text x="147.6" y="369.55" text-anchor="end">protein serine/threonine kinase</text>
<text x="147.6" y="374.50" text-anchor="end">activity</text>
<rect x="148.7" y="369.0" width="1.3" height=".4" fill="#444"/>
<text x="147.6" y="381.52" text-anchor="end">nucleoplasm</text>
<rect x="148.7" y="379.8" width="1.3" height=".4" fill="#444"/>
<text x="147.6" y="392.42" text-anchor="end">protein kinase activity</text>
<rect x="148.7" y="390.7" width="1.3" height=".4" fill="#444"/>
<text x="147.6" y="403.22" text-anchor="end">protein binding</text>
<rect x="148.7" y="401.5" width="1.3" height=".4" fill="#444"/>
<text x="147.6" y="414.12" text-anchor="end">nucleus</text>
<rect x="148.7" y="412.40000000000003" width="1.3" height=".4" fill="#444"/>
<text x="147.6" y="424.92" text-anchor="end">cytoplasm</text>
<rect x="148.7" y="423.2" width="1.3" height=".4" fill="#444"/>
<text x="147.6" y="435.72" text-anchor="end">cytosol</text>
<rect x="148.7" y="434.0" width="1.3" height=".4" fill="#444"/>
<text x="147.6" y="446.62" text-anchor="end">protein phosphorylation</text>
<rect x="148.7" y="444.90000000000003" width="1.3" height=".4" fill="#444"/>
<text x="147.6" y="457.42" text-anchor="end">PML body</text>
<rect x="148.7" y="455.7" width="1.3" height=".4" fill="#444"/>
<text x="147.6" y="468.32" text-anchor="end">ripoptosome</text>
<rect x="148.7" y="466.6" width="1.3" height=".4" fill="#444"/>
<text x="147.6" y="476.65" text-anchor="end">receptor signaling protein</text>
<text x="147.6" y="481.60" text-anchor="end">serine/threonine kinase activity</text>
<rect x="148.7" y="477.40000000000003" width="1.3" height=".4" fill="#444"/>
<text x="147.6" y="489.92" text-anchor="end">ATP binding</text>
<rect x="148.7" y="488.2" width="1.3" height=".4" fill="#444"/>
<text x="147.6" y="500.82" text-anchor="end">rRNA catabolic process</text>
<rect x="148.7" y="499.1" width="1.3" height=".4" fill="#444"/>
<text x="147.6" y="508.55" text-anchor="end">protein tyrosine/serine/threonine</text>
<text x="147.6" y="513.50" text-anchor="end">phosphatase activity</text>
<rect x="148.7" y="509.90000000000003" width="1.3" height=".4" fill="#444"/>
</g>
<ellipse cx="165.7" cy="369.2" rx="1.49" ry="1.49" fill="rgb(103,0,31)"/>
<ellipse cx="185.0" cy="380.0" rx="2.20" ry="2.20" fill="rgb(103,0,31)"/>
<ellipse cx="165.1" cy="390.9" rx="1.43" ry="1.43" fill="rgb(103,0,31)"/>
<ellipse cx="219.0" cy="401.7" rx="3.47" ry="3.47" fill="rgb(103,0,31)"/>
<ellipse cx="199.4" cy="412.6" rx="2.81" ry="2.81" fill="rgb(103,0,31)"/>
<ellipse cx="196.5" cy="423.4" rx="2.75" ry="2.75" fill="rgb(103,0,31)"/>
<ellipse cx="185.7" cy="434.2" rx="2.20" ry="2.20" fill="#b4485c"/>
<ellipse cx="164.4" cy="445.1" rx="1.54" ry="1.54" fill="rgb(103,0,31)"/>
<ellipse cx="157.9" cy="455.9" rx="1.43" ry="1.43" fill="#9e1526"/>
<ellipse cx="155.6" cy="466.8" rx="1.43" ry="1.43" fill="#b71b2d"/>
<ellipse cx="156.9" cy="477.6" rx="1.65" ry="1.65" fill="#fbe3d8"/>
<ellipse cx="170.6" cy="488.4" rx="1.98" ry="1.98" fill="#fbd3c1"/>
<ellipse cx="155.6" cy="499.3" rx="1.43" ry="1.43" fill="#fdf0e9"/>
<ellipse cx="156.2" cy="510.1" rx="1.38" ry="1.38" fill="#1d3f77"/>
<g font-family="Liberation Serif, serif" font-size="3.71" fill="#333" text-anchor="middle">
<text x="152.6" y="520.31">0.0</text>
<rect x="152.4" y="515.8" width=".4" height="1.1" fill="#444"/>
<text x="170.6" y="520.31">0.2</text>
<rect x="170.4" y="515.8" width=".4" height="1.1" fill="#444"/>
<text x="188.4" y="520.31">0.4</text>
<rect x="188.20000000000002" y="515.8" width=".4" height="1.1" fill="#444"/>
<text x="206.3" y="520.31">0.6</text>
<rect x="206.10000000000002" y="515.8" width=".4" height="1.1" fill="#444"/>
<text x="224.0" y="520.31">0.8</text>
<rect x="223.8" y="515.8" width=".4" height="1.1" fill="#444"/>
</g>
<text x="187.5" y="525.8" text-anchor="middle" font-family="Liberation Serif, serif" font-size="4.75" fill="#222" stroke="#222" stroke-width=".1">GeneRatio</text>
<text transform="translate(88.6 439.7) rotate(-90)" text-anchor="middle" font-family="Liberation Serif, serif" font-size="5.2" fill="#222" stroke="#222" stroke-width=".1">Pathway</text>
<g font-family="Liberation Serif, serif" fill="#222" stroke="#222" stroke-width=".08">
<text x="228" y="399.3" font-size="4.9">Count</text>
<circle cx="231" cy="401.9" r="0.95" fill="#424242"/>
<circle cx="231" cy="408.4" r="1.6" fill="#424242"/>
<circle cx="231" cy="415" r="2.1" fill="#424242"/>
<circle cx="231" cy="421.6" r="2.5" fill="#424242"/>
<circle cx="231" cy="428.1" r="2.9" fill="#424242"/>
<circle cx="231" cy="434.7" r="3.3" fill="#424242"/>
<rect x="234.1" y="401.5" width=".3" height="33.5" fill="#999"/>
<text x="236.9" y="408.0" font-size="3.4">20</text><rect x="234.1" y="406.75" width="1.4" height=".3" fill="#555"/>
<text x="236.9" y="414.5" font-size="3.4">40</text><rect x="234.1" y="413.25" width="1.4" height=".3" fill="#555"/>
<text x="236.9" y="420.8" font-size="3.4">60</text><rect x="234.1" y="419.55" width="1.4" height=".3" fill="#555"/>
<text x="236.9" y="427.1" font-size="3.4">80</text><rect x="234.1" y="425.85" width="1.4" height=".3" fill="#555"/>
<text x="236.9" y="433.70000000000005" font-size="3.4">100</text><rect x="234.1" y="432.45000000000005" width="1.4" height=".3" fill="#555"/>
<text x="228" y="449.6" font-size="4.9">FDR</text>
<rect x="228" y="451.2" width="6.2" height="34.4" fill="url(#fdr)"/>
<text x="236.8" y="459.75" font-size="3.55">0.002</text><rect x="234.2" y="458.45" width="1.1" height=".3" fill="#555"/>
<text x="236.8" y="467.85" font-size="3.55">0.004</text><rect x="234.2" y="466.55" width="1.1" height=".3" fill="#555"/>
<text x="236.8" y="475.45" font-size="3.55">0.006</text><rect x="234.2" y="474.15" width="1.1" height=".3" fill="#555"/>
<text x="236.8" y="482.95" font-size="3.55">0.008</text><rect x="234.2" y="481.65" width="1.1" height=".3" fill="#555"/>
</g>
<rect x="378.7" y="363.6" width="72.60000000000002" height="152.0" fill="#fff"/>
<rect x="387.3" y="363.6" width=".4" height="152.0" fill="#ebebeb"/>
<rect x="401.5" y="363.6" width=".4" height="152.0" fill="#ebebeb"/>
<rect x="415.7" y="363.6" width=".4" height="152.0" fill="#ebebeb"/>
<rect x="429.6" y="363.6" width=".4" height="152.0" fill="#ebebeb"/>
<rect x="443.7" y="363.6" width=".4" height="152.0" fill="#ebebeb"/>
<rect x="378.7" y="369.7" width="72.60000000000002" height=".4" fill="#ebebeb"/>
<rect x="378.7" y="382.3" width="72.60000000000002" height=".4" fill="#ebebeb"/>
<rect x="378.7" y="395.0" width="72.60000000000002" height=".4" fill="#ebebeb"/>
<rect x="378.7" y="407.6" width="72.60000000000002" height=".4" fill="#ebebeb"/>
<rect x="378.7" y="420.3" width="72.60000000000002" height=".4" fill="#ebebeb"/>
<rect x="378.7" y="432.90000000000003" width="72.60000000000002" height=".4" fill="#ebebeb"/>
<rect x="378.7" y="445.5" width="72.60000000000002" height=".4" fill="#ebebeb"/>
<rect x="378.7" y="458.2" width="72.60000000000002" height=".4" fill="#ebebeb"/>
<rect x="378.7" y="470.8" width="72.60000000000002" height=".4" fill="#ebebeb"/>
<rect x="378.7" y="483.5" width="72.60000000000002" height=".4" fill="#ebebeb"/>
<rect x="378.7" y="496.1" width="72.60000000000002" height=".4" fill="#ebebeb"/>
<rect x="378.7" y="508.7" width="72.60000000000002" height=".4" fill="#ebebeb"/>
<rect x="378.7" y="363.6" width="72.60000000000002" height="152.0" fill="none" stroke="#777" stroke-width=".85"/>
<text x="414.8" y="361" text-anchor="middle" font-family="Liberation Serif, serif" font-size="10.5" fill="#505050">KEGG</text>
<g font-family="Liberation Serif, serif" font-size="5.9" fill="#222" stroke="#222" stroke-width=".1">
<text x="376" y="371.79" text-anchor="end" fill="#f01818" stroke="#f01818">Toll-like receptor signaling pathway</text>
<rect x="377.4" y="369.7" width="1.3" height=".4" fill="#444"/>
<text x="376" y="384.39" text-anchor="end" fill="#f01818" stroke="#f01818">RIG-I-like receptor signaling pathway</text>
<rect x="377.4" y="382.3" width="1.3" height=".4" fill="#444"/>
<text x="376" y="397.09" text-anchor="end" fill="#f01818" stroke="#f01818">TNF signaling pathway</text>
<rect x="377.4" y="395.0" width="1.3" height=".4" fill="#444"/>
<text x="376" y="409.69" text-anchor="end">Tuberculosis</text>
<rect x="377.4" y="407.6" width="1.3" height=".4" fill="#444"/>
<text x="376" y="422.39" text-anchor="end">Toxoplasmosis</text>
<rect x="377.4" y="420.3" width="1.3" height=".4" fill="#444"/>
<text x="376" y="434.99" text-anchor="end">Pertussis</text>
<rect x="377.4" y="432.90000000000003" width="1.3" height=".4" fill="#444"/>
<text x="376" y="447.59" text-anchor="end">Neurotrophin signaling pathway</text>
<rect x="377.4" y="445.5" width="1.3" height=".4" fill="#444"/>
<text x="376" y="460.29" text-anchor="end">Salmonella infection</text>
<rect x="377.4" y="458.2" width="1.3" height=".4" fill="#444"/>
<text x="376" y="472.89" text-anchor="end">Endocytosis</text>
<rect x="377.4" y="470.8" width="1.3" height=".4" fill="#444"/>
<text x="376" y="485.59" text-anchor="end">GnRH signaling pathway</text>
<rect x="377.4" y="483.5" width="1.3" height=".4" fill="#444"/>
<text x="376" y="498.19" text-anchor="end">Hepatitis B</text>
<rect x="377.4" y="496.1" width="1.3" height=".4" fill="#444"/>
<text x="376" y="510.79" text-anchor="end">Chagas disease (American trypanosomiasis)</text>
<rect x="377.4" y="508.7" width="1.3" height=".4" fill="#444"/>
</g>
<ellipse cx="424.6" cy="369.9" rx="3.28" ry="2.84" fill="rgb(103,0,31)"/>
<ellipse cx="405.7" cy="382.5" rx="2.26" ry="1.96" fill="rgb(103,0,31)"/>
<ellipse cx="424.6" cy="395.2" rx="3.28" ry="2.84" fill="rgb(103,0,31)"/>
<ellipse cx="443.9" cy="407.8" rx="4.07" ry="3.53" fill="#a5111f"/>
<ellipse cx="405.7" cy="420.5" rx="2.37" ry="2.06" fill="#d6604d"/>
<ellipse cx="386.5" cy="433.1" rx="1.36" ry="1.18" fill="#f4a582"/>
<ellipse cx="405.7" cy="445.7" rx="2.49" ry="2.16" fill="#f4a886"/>
<ellipse cx="386.5" cy="458.4" rx="1.36" ry="1.18" fill="#fde8de"/>
<ellipse cx="443.9" cy="471.0" rx="4.07" ry="3.53" fill="#fbe9e1"/>
<ellipse cx="386.5" cy="483.7" rx="1.36" ry="1.18" fill="#c5deec"/>
<ellipse cx="405.7" cy="496.3" rx="2.49" ry="2.16" fill="#6ab0dc"/>
<ellipse cx="386.5" cy="508.9" rx="1.47" ry="1.27" fill="#0b3265"/>
<g font-family="Liberation Serif, serif" font-size="4.60" fill="#333" text-anchor="middle">
<text x="387.5" y="521.21">0.035</text>
<rect x="387.3" y="515.6" width=".4" height="1.1" fill="#444"/>
<text x="401.7" y="521.21">0.040</text>
<rect x="401.5" y="515.6" width=".4" height="1.1" fill="#444"/>
<text x="415.9" y="521.21">0.045</text>
<rect x="415.7" y="515.6" width=".4" height="1.1" fill="#444"/>
<text x="429.8" y="521.21">0.050</text>
<rect x="429.6" y="515.6" width=".4" height="1.1" fill="#444"/>
<text x="443.9" y="521.21">0.055</text>
<rect x="443.7" y="515.6" width=".4" height="1.1" fill="#444"/>
</g>
<text x="415.0" y="527" text-anchor="middle" font-family="Liberation Serif, serif" font-size="5.9" fill="#222" stroke="#222" stroke-width=".1">GeneRatio</text>
<text transform="translate(273.7 439.7) rotate(-90)" text-anchor="middle" font-family="Liberation Serif, serif" font-size="5.2" fill="#222" stroke="#222" stroke-width=".1">Pathway</text>
<g font-family="Liberation Serif, serif" fill="#222" stroke="#222" stroke-width=".08">
<text x="455.1" y="399.5" font-size="6.1">Count</text>
<circle cx="459.1" cy="401.9" r="1.1" fill="#424242"/>
<circle cx="459.1" cy="408.3" r="1.9" fill="#424242"/>
<circle cx="459.1" cy="414.8" r="2.3" fill="#424242"/>
<circle cx="459.1" cy="421.6" r="2.9" fill="#424242"/>
<circle cx="459.1" cy="428.2" r="3.4" fill="#424242"/>
<circle cx="459.1" cy="434.8" r="3.8" fill="#424242"/>
<rect x="462.5" y="401.5" width=".3" height="33.5" fill="#999"/>
<text x="466.3" y="403.2" font-size="4">5.0</text><rect x="462.5" y="401.75" width="1.6" height=".3" fill="#555"/>
<text x="466.3" y="408.6" font-size="4">5.5</text><rect x="462.5" y="407.15000000000003" width="1.6" height=".3" fill="#555"/>
<text x="466.3" y="414.1" font-size="4">6.0</text><rect x="462.5" y="412.65000000000003" width="1.6" height=".3" fill="#555"/>
<text x="466.3" y="419.40000000000003" font-size="4">6.5</text><rect x="462.5" y="417.95000000000005" width="1.6" height=".3" fill="#555"/>
<text x="466.3" y="424.7" font-size="4">7.0</text><rect x="462.5" y="423.25" width="1.6" height=".3" fill="#555"/>
<text x="466.3" y="430.40000000000003" font-size="4">7.5</text><rect x="462.5" y="428.95000000000005" width="1.6" height=".3" fill="#555"/>
<text x="466.3" y="436.1" font-size="4">8.0</text><rect x="462.5" y="434.65000000000003" width="1.6" height=".3" fill="#555"/>
<text x="455.6" y="449.6" font-size="6.1">FDR</text>
<rect x="455.7" y="451.5" width="7.4" height="33.7" fill="url(#fdr)"/>
<text x="466.3" y="460.90000000000003" font-size="4.7">0.005</text><rect x="463.1" y="459.45000000000005" width="1.4" height=".3" fill="#555"/>
<text x="466.3" y="470.7" font-size="4.7">0.010</text><rect x="463.1" y="469.25" width="1.4" height=".3" fill="#555"/>
<text x="466.3" y="480.40000000000003" font-size="4.7">0.015</text><rect x="463.1" y="478.95000000000005" width="1.4" height=".3" fill="#555"/>
</g>
</g>
<g font-family="Liberation Sans, sans-serif" font-weight="bold" font-size="12.7" fill="#111">
<text x="24.1" y="23.1">A</text><text x="249.1" y="23.1">B</text><text x="249.4" y="257.2">C</text><text x="23.9" y="355.2">D</text>
</g>
</svg>
</body></html>
